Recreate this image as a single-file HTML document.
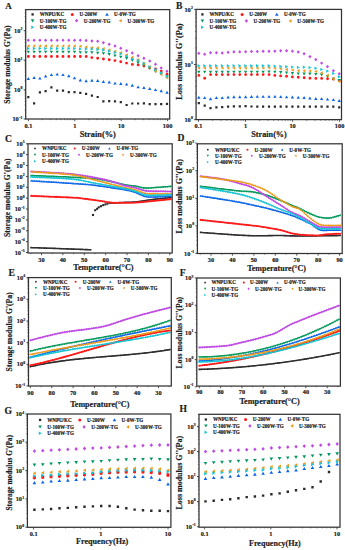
<!DOCTYPE html>
<html><head><meta charset="utf-8"><style>
html,body{margin:0;padding:0;background:#fff;}
svg{display:block;} text{stroke:#1a1a1a;stroke-width:0.18px;}
</style></head><body>
<svg width="345" height="550" viewBox="0 0 345 550" font-family="Liberation Serif" font-weight="bold" fill="#1a1a1a">
<rect width="345" height="550" fill="#fff"/>
<text x="5.30" y="9.30" font-size="9.0" text-anchor="start" >A</text><line x1="23.70" y1="30.70" x2="25.70" y2="30.70" stroke="#303030" stroke-width="0.9"/><text x="20.30" y="32.80" font-size="6.3" text-anchor="end">10</text><text x="22.40" y="30.30" font-size="3.8" text-anchor="end">2</text><line x1="23.70" y1="60.20" x2="25.70" y2="60.20" stroke="#303030" stroke-width="0.9"/><text x="20.30" y="62.30" font-size="6.3" text-anchor="end">10</text><text x="22.40" y="59.80" font-size="3.8" text-anchor="end">1</text><line x1="23.70" y1="89.80" x2="25.70" y2="89.80" stroke="#303030" stroke-width="0.9"/><text x="20.30" y="91.90" font-size="6.3" text-anchor="end">10</text><text x="22.40" y="89.40" font-size="3.8" text-anchor="end">0</text><line x1="23.70" y1="119.00" x2="25.70" y2="119.00" stroke="#303030" stroke-width="0.9"/><text x="18.70" y="121.10" font-size="6.3" text-anchor="end">10</text><text x="22.40" y="118.60" font-size="3.8" text-anchor="end">-1</text><line x1="24.60" y1="21.82" x2="25.70" y2="21.82" stroke="#303030" stroke-width="0.6"/><line x1="24.60" y1="16.62" x2="25.70" y2="16.62" stroke="#303030" stroke-width="0.6"/><line x1="24.60" y1="12.94" x2="25.70" y2="12.94" stroke="#303030" stroke-width="0.6"/><line x1="24.60" y1="10.08" x2="25.70" y2="10.08" stroke="#303030" stroke-width="0.6"/><line x1="24.60" y1="51.32" x2="25.70" y2="51.32" stroke="#303030" stroke-width="0.6"/><line x1="24.60" y1="46.12" x2="25.70" y2="46.12" stroke="#303030" stroke-width="0.6"/><line x1="24.60" y1="42.44" x2="25.70" y2="42.44" stroke="#303030" stroke-width="0.6"/><line x1="24.60" y1="39.58" x2="25.70" y2="39.58" stroke="#303030" stroke-width="0.6"/><line x1="24.60" y1="37.24" x2="25.70" y2="37.24" stroke="#303030" stroke-width="0.6"/><line x1="24.60" y1="35.27" x2="25.70" y2="35.27" stroke="#303030" stroke-width="0.6"/><line x1="24.60" y1="33.56" x2="25.70" y2="33.56" stroke="#303030" stroke-width="0.6"/><line x1="24.60" y1="32.05" x2="25.70" y2="32.05" stroke="#303030" stroke-width="0.6"/><line x1="24.60" y1="80.92" x2="25.70" y2="80.92" stroke="#303030" stroke-width="0.6"/><line x1="24.60" y1="75.72" x2="25.70" y2="75.72" stroke="#303030" stroke-width="0.6"/><line x1="24.60" y1="72.04" x2="25.70" y2="72.04" stroke="#303030" stroke-width="0.6"/><line x1="24.60" y1="69.18" x2="25.70" y2="69.18" stroke="#303030" stroke-width="0.6"/><line x1="24.60" y1="66.84" x2="25.70" y2="66.84" stroke="#303030" stroke-width="0.6"/><line x1="24.60" y1="64.87" x2="25.70" y2="64.87" stroke="#303030" stroke-width="0.6"/><line x1="24.60" y1="63.16" x2="25.70" y2="63.16" stroke="#303030" stroke-width="0.6"/><line x1="24.60" y1="61.65" x2="25.70" y2="61.65" stroke="#303030" stroke-width="0.6"/><line x1="24.60" y1="110.12" x2="25.70" y2="110.12" stroke="#303030" stroke-width="0.6"/><line x1="24.60" y1="104.92" x2="25.70" y2="104.92" stroke="#303030" stroke-width="0.6"/><line x1="24.60" y1="101.24" x2="25.70" y2="101.24" stroke="#303030" stroke-width="0.6"/><line x1="24.60" y1="98.38" x2="25.70" y2="98.38" stroke="#303030" stroke-width="0.6"/><line x1="24.60" y1="96.04" x2="25.70" y2="96.04" stroke="#303030" stroke-width="0.6"/><line x1="24.60" y1="94.07" x2="25.70" y2="94.07" stroke="#303030" stroke-width="0.6"/><line x1="24.60" y1="92.36" x2="25.70" y2="92.36" stroke="#303030" stroke-width="0.6"/><line x1="24.60" y1="90.85" x2="25.70" y2="90.85" stroke="#303030" stroke-width="0.6"/><line x1="28.40" y1="119.00" x2="28.40" y2="121.20" stroke="#303030" stroke-width="0.8"/><text x="28.40" y="127.80" font-size="6.3" text-anchor="middle" >0.1</text><line x1="74.80" y1="119.00" x2="74.80" y2="121.20" stroke="#303030" stroke-width="0.8"/><text x="74.80" y="127.80" font-size="6.3" text-anchor="middle" >1</text><line x1="121.20" y1="119.00" x2="121.20" y2="121.20" stroke="#303030" stroke-width="0.8"/><text x="121.20" y="127.80" font-size="6.3" text-anchor="middle" >10</text><line x1="167.60" y1="119.00" x2="167.60" y2="121.20" stroke="#303030" stroke-width="0.8"/><text x="167.60" y="127.80" font-size="6.3" text-anchor="middle" >100</text><line x1="42.37" y1="119.00" x2="42.37" y2="120.20" stroke="#303030" stroke-width="0.6"/><line x1="50.54" y1="119.00" x2="50.54" y2="120.20" stroke="#303030" stroke-width="0.6"/><line x1="56.34" y1="119.00" x2="56.34" y2="120.20" stroke="#303030" stroke-width="0.6"/><line x1="60.83" y1="119.00" x2="60.83" y2="120.20" stroke="#303030" stroke-width="0.6"/><line x1="64.51" y1="119.00" x2="64.51" y2="120.20" stroke="#303030" stroke-width="0.6"/><line x1="67.61" y1="119.00" x2="67.61" y2="120.20" stroke="#303030" stroke-width="0.6"/><line x1="70.30" y1="119.00" x2="70.30" y2="120.20" stroke="#303030" stroke-width="0.6"/><line x1="72.68" y1="119.00" x2="72.68" y2="120.20" stroke="#303030" stroke-width="0.6"/><line x1="88.77" y1="119.00" x2="88.77" y2="120.20" stroke="#303030" stroke-width="0.6"/><line x1="96.94" y1="119.00" x2="96.94" y2="120.20" stroke="#303030" stroke-width="0.6"/><line x1="102.74" y1="119.00" x2="102.74" y2="120.20" stroke="#303030" stroke-width="0.6"/><line x1="107.23" y1="119.00" x2="107.23" y2="120.20" stroke="#303030" stroke-width="0.6"/><line x1="110.91" y1="119.00" x2="110.91" y2="120.20" stroke="#303030" stroke-width="0.6"/><line x1="114.01" y1="119.00" x2="114.01" y2="120.20" stroke="#303030" stroke-width="0.6"/><line x1="116.70" y1="119.00" x2="116.70" y2="120.20" stroke="#303030" stroke-width="0.6"/><line x1="119.08" y1="119.00" x2="119.08" y2="120.20" stroke="#303030" stroke-width="0.6"/><line x1="135.17" y1="119.00" x2="135.17" y2="120.20" stroke="#303030" stroke-width="0.6"/><line x1="143.34" y1="119.00" x2="143.34" y2="120.20" stroke="#303030" stroke-width="0.6"/><line x1="149.14" y1="119.00" x2="149.14" y2="120.20" stroke="#303030" stroke-width="0.6"/><line x1="153.63" y1="119.00" x2="153.63" y2="120.20" stroke="#303030" stroke-width="0.6"/><line x1="157.31" y1="119.00" x2="157.31" y2="120.20" stroke="#303030" stroke-width="0.6"/><line x1="160.41" y1="119.00" x2="160.41" y2="120.20" stroke="#303030" stroke-width="0.6"/><line x1="163.10" y1="119.00" x2="163.10" y2="120.20" stroke="#303030" stroke-width="0.6"/><line x1="165.48" y1="119.00" x2="165.48" y2="120.20" stroke="#303030" stroke-width="0.6"/><text x="79.70" y="137.20" font-size="8.7" textLength="36.2" lengthAdjust="spacingAndGlyphs">Strain(%)</text><text x="0" y="0" font-size="8.7" textLength="78.2" lengthAdjust="spacingAndGlyphs" transform="translate(10.00,103.70) rotate(-90)">Storage modulus G'(Pa)</text><rect x="31.45" y="13.25" width="2.31" height="2.31" fill="#2a2a2a"/><text x="39.70" y="16.25" font-size="5.05" text-anchor="start" >WNPU/KC</text><circle cx="72.30" cy="14.40" r="1.52" fill="#ff1a1a"/><text x="79.40" y="16.25" font-size="5.05" text-anchor="start" >U-200W</text><polygon points="107.00,12.72 105.22,15.77 108.78,15.77" fill="#0a64e8"/><text x="114.10" y="16.25" font-size="5.05" text-anchor="start" >U-0W-TG</text><polygon points="32.60,22.38 30.82,19.34 34.38,19.34" fill="#00985a"/><text x="39.70" y="22.55" font-size="5.05" text-anchor="start" >U-100W-TG</text><polygon points="76.60,18.86 78.28,20.70 76.60,22.54 74.92,20.70" fill="#c04ae4"/><text x="83.70" y="22.55" font-size="5.05" text-anchor="start" >U-200W-TG</text><polygon points="118.72,20.70 121.77,18.91 121.77,22.48" fill="#eb9a1a"/><text x="127.50" y="22.55" font-size="5.05" text-anchor="start" >U-300W-TG</text><polygon points="34.28,27.20 31.23,25.41 31.23,28.98" fill="#14c4d4"/><text x="39.70" y="29.05" font-size="5.05" text-anchor="start" >U-400W-TG</text><path fill="#2a2a2a" d="M27.2 96.1h2.2v2.2h-2.2zM33 102.2h2.2v2.2h-2.2zM38.8 91.3h2.2v2.2h-2.2zM44.5 90h2.2v2.2h-2.2zM50.3 86.3h2.2v2.2h-2.2zM56.1 89.6h2.2v2.2h-2.2zM61.9 89.6h2.2v2.2h-2.2zM67.7 91.1h2.2v2.2h-2.2zM73.4 91.1h2.2v2.2h-2.2zM79.2 91.7h2.2v2.2h-2.2zM85 92.8h2.2v2.2h-2.2zM90.8 94.6h2.2v2.2h-2.2zM96.6 95.9h2.2v2.2h-2.2zM102.3 100.2h2.2v2.2h-2.2zM108.1 100h2.2v2.2h-2.2zM113.9 100.2h2.2v2.2h-2.2zM119.7 101.1h2.2v2.2h-2.2zM125.5 103.9h2.2v2.2h-2.2zM131.2 102.4h2.2v2.2h-2.2zM137 102.4h2.2v2.2h-2.2zM142.8 102.2h2.2v2.2h-2.2zM148.6 103h2.2v2.2h-2.2zM154.4 103h2.2v2.2h-2.2zM160.1 103h2.2v2.2h-2.2zM165.9 102.8h2.2v2.2h-2.2z"/><path fill="#ff1a1a" d="M26.9 56.5a1.4 1.4 0 1 0 2.9 0a1.4 1.4 0 1 0 -2.9 0zM32.6 56.5a1.4 1.4 0 1 0 2.9 0a1.4 1.4 0 1 0 -2.9 0zM38.4 56.5a1.4 1.4 0 1 0 2.9 0a1.4 1.4 0 1 0 -2.9 0zM44.2 56.5a1.4 1.4 0 1 0 2.9 0a1.4 1.4 0 1 0 -2.9 0zM50 56.5a1.4 1.4 0 1 0 2.9 0a1.4 1.4 0 1 0 -2.9 0zM55.8 56.5a1.4 1.4 0 1 0 2.9 0a1.4 1.4 0 1 0 -2.9 0zM61.5 56.5a1.4 1.4 0 1 0 2.9 0a1.4 1.4 0 1 0 -2.9 0zM67.3 56.5a1.4 1.4 0 1 0 2.9 0a1.4 1.4 0 1 0 -2.9 0zM73.1 56.5a1.4 1.4 0 1 0 2.9 0a1.4 1.4 0 1 0 -2.9 0zM78.9 56.5a1.4 1.4 0 1 0 2.9 0a1.4 1.4 0 1 0 -2.9 0zM84.7 56.5a1.4 1.4 0 1 0 2.9 0a1.4 1.4 0 1 0 -2.9 0zM90.4 57.6a1.4 1.4 0 1 0 2.9 0a1.4 1.4 0 1 0 -2.9 0zM96.2 58.3a1.4 1.4 0 1 0 2.9 0a1.4 1.4 0 1 0 -2.9 0zM102 59a1.4 1.4 0 1 0 2.9 0a1.4 1.4 0 1 0 -2.9 0zM107.8 59.8a1.4 1.4 0 1 0 2.9 0a1.4 1.4 0 1 0 -2.9 0zM113.5 60.6a1.4 1.4 0 1 0 2.9 0a1.4 1.4 0 1 0 -2.9 0zM119.3 61.7a1.4 1.4 0 1 0 2.9 0a1.4 1.4 0 1 0 -2.9 0zM125.1 63.1a1.4 1.4 0 1 0 2.9 0a1.4 1.4 0 1 0 -2.9 0zM130.9 64.4a1.4 1.4 0 1 0 2.9 0a1.4 1.4 0 1 0 -2.9 0zM136.7 64.9a1.4 1.4 0 1 0 2.9 0a1.4 1.4 0 1 0 -2.9 0zM142.5 66.1a1.4 1.4 0 1 0 2.9 0a1.4 1.4 0 1 0 -2.9 0zM148.2 67.8a1.4 1.4 0 1 0 2.9 0a1.4 1.4 0 1 0 -2.9 0zM154 69a1.4 1.4 0 1 0 2.9 0a1.4 1.4 0 1 0 -2.9 0zM159.8 71.1a1.4 1.4 0 1 0 2.9 0a1.4 1.4 0 1 0 -2.9 0zM165.6 74.2a1.4 1.4 0 1 0 2.9 0a1.4 1.4 0 1 0 -2.9 0z"/><path fill="#0a64e8" d="M28.3 77.1L26.6 80H30zM34.1 76L32.4 78.9H35.8zM39.9 76.7L38.2 79.6H41.6zM45.6 74.5L43.9 77.4H47.3zM51.4 73.2L49.7 76.1H53.1zM57.2 72.7L55.5 75.6H58.9zM63 73.2L61.3 76.1H64.7zM68.8 74.3L67.1 77.2H70.5zM74.5 76.4L72.8 79.3H76.2zM80.3 78.6L78.6 81.5H82zM86.1 79.3L84.4 82.2H87.8zM91.9 78.8L90.2 81.7H93.6zM97.7 79L96 81.9H99.4zM103.4 80.1L101.7 83H105.1zM109.2 80.6L107.5 83.5H110.9zM115 81.7L113.3 84.6H116.7zM120.8 82.1L119.1 85H122.5zM126.6 82.7L124.9 85.6H128.3zM132.3 83.8L130.6 86.7H134zM138.1 85.4L136.4 88.3H139.8zM143.9 86L142.2 88.9H145.6zM149.7 87.1L148 90H151.4zM155.5 88.2L153.8 91.1H157.2zM161.2 89.3L159.5 92.2H162.9zM167 90.8L165.3 93.7H168.7z"/><path fill="#00985a" d="M28.3 53.6L26.6 50.7H30zM34.1 53.6L32.4 50.7H35.8zM39.9 53.6L38.2 50.7H41.6zM45.6 53.6L43.9 50.7H47.3zM51.4 53.6L49.7 50.7H53.1zM57.2 53.6L55.5 50.7H58.9zM63 53.6L61.3 50.7H64.7zM68.8 53.6L67.1 50.7H70.5zM74.5 53.6L72.8 50.7H76.2zM80.3 54.1L78.6 51.2H82zM86.1 54.1L84.4 51.2H87.8zM91.9 54.1L90.2 51.2H93.6zM97.7 54.6L96 51.7H99.4zM103.4 55.1L101.7 52.2H105.1zM109.2 55.9L107.5 53H110.9zM115 57.3L113.3 54.4H116.7zM120.8 58.6L119.1 55.7H122.5zM126.6 59.9L124.9 57H128.3zM132.3 62L130.6 59.1H134zM138.1 64.2L136.4 61.3H139.8zM143.9 67.1L142.2 64.2H145.6zM149.7 70L148 67.1H151.4zM155.5 72.9L153.8 70H157.2zM161.2 75.5L159.5 72.6H162.9zM167 78.5L165.3 75.6H168.7z"/><path fill="#c04ae4" d="M28.3 38.5L29.9 40.2L28.3 42L26.7 40.2zM34.1 38.5L35.7 40.2L34.1 42L32.5 40.2zM39.9 38.5L41.5 40.2L39.9 42L38.3 40.2zM45.6 38.5L47.2 40.2L45.6 42L44 40.2zM51.4 38.5L53 40.2L51.4 42L49.8 40.2zM57.2 38.5L58.8 40.2L57.2 42L55.6 40.2zM63 38.5L64.6 40.2L63 42L61.4 40.2zM68.8 38.5L70.4 40.2L68.8 42L67.2 40.2zM74.5 38.5L76.1 40.2L74.5 42L72.9 40.2zM80.3 38.5L81.9 40.2L80.3 42L78.7 40.2zM86.1 38.8L87.7 40.5L86.1 42.2L84.5 40.5zM91.9 39.2L93.5 41L91.9 42.8L90.3 41zM97.7 39.5L99.3 41.3L97.7 43L96.1 41.3zM103.4 40.9L105 42.6L103.4 44.4L101.8 42.6zM109.2 42.5L110.8 44.3L109.2 46L107.6 44.3zM115 44.2L116.6 46L115 47.8L113.4 46zM120.8 46.5L122.4 48.3L120.8 50L119.2 48.3zM126.6 49L128.2 50.7L126.6 52.5L125 50.7zM132.3 51.2L133.9 53L132.3 54.8L130.7 53zM138.1 54L139.7 55.7L138.1 57.5L136.5 55.7zM143.9 56.5L145.5 58.3L143.9 60L142.3 58.3zM149.7 59.2L151.3 61L149.7 62.8L148.1 61zM155.5 62.5L157.1 64.2L155.5 66L153.9 64.2zM161.2 66.2L162.8 68L161.2 69.8L159.6 68zM167 69.5L168.6 71.3L167 73L165.4 71.3z"/><path fill="#eb9a1a" d="M26.7 46L29.6 44.3V47.7zM32.5 46L35.4 44.3V47.7zM38.3 46L41.2 44.3V47.7zM44 46L46.9 44.3V47.7zM49.8 46L52.7 44.3V47.7zM55.6 46L58.5 44.3V47.7zM61.4 46L64.3 44.3V47.7zM67.2 46L70.1 44.3V47.7zM72.9 46L75.8 44.3V47.7zM78.7 46.3L81.6 44.6V48zM84.5 47L87.4 45.3V48.7zM90.3 47.7L93.2 46V49.4zM96.1 48L99 46.3V49.7zM101.8 48.7L104.7 47V50.4zM107.6 50L110.5 48.3V51.7zM113.4 51.3L116.3 49.6V53zM119.2 52.6L122.1 50.9V54.3zM125 55L127.9 53.3V56.7zM130.7 57.2L133.6 55.5V58.9zM136.5 59.8L139.4 58.1V61.5zM142.3 63.5L145.2 61.8V65.2zM148.1 67L151 65.3V68.7zM153.9 71L156.8 69.3V72.7zM159.6 74.5L162.5 72.8V76.2zM165.4 77.7L168.3 76V79.4z"/><path fill="#14c4d4" d="M29.9 48.5L27 46.8V50.2zM35.7 48.5L32.8 46.8V50.2zM41.5 48.5L38.6 46.8V50.2zM47.2 48.5L44.3 46.8V50.2zM53 48.5L50.1 46.8V50.2zM58.8 48.5L55.9 46.8V50.2zM64.6 48.5L61.7 46.8V50.2zM70.4 48.5L67.5 46.8V50.2zM76.1 48.5L73.2 46.8V50.2zM81.9 49L79 47.3V50.7zM87.7 49L84.8 47.3V50.7zM93.5 49L90.6 47.3V50.7zM99.3 49.5L96.4 47.8V51.2zM105 50L102.1 48.3V51.7zM110.8 51.3L107.9 49.6V53zM116.6 52.6L113.7 50.9V54.3zM122.4 53.9L119.5 52.2V55.6zM128.2 56.3L125.3 54.6V58zM133.9 59L131 57.3V60.7zM139.7 60.3L136.8 58.6V62zM145.5 63.2L142.6 61.5V64.9zM151.3 66.7L148.4 65V68.4zM157.1 69.6L154.2 67.9V71.3zM162.8 73L159.9 71.3V74.7zM168.6 76.2L165.7 74.5V77.9z"/><rect x="25.70" y="9.60" width="144.00" height="109.40" fill="none" stroke="#333" stroke-width="1.25"/><text x="176.00" y="9.20" font-size="9.6" text-anchor="start" >B</text><line x1="194.10" y1="9.40" x2="196.10" y2="9.40" stroke="#303030" stroke-width="0.9"/><text x="190.70" y="11.50" font-size="6.3" text-anchor="end">10</text><text x="192.80" y="9.00" font-size="3.8" text-anchor="end">2</text><line x1="194.10" y1="64.50" x2="196.10" y2="64.50" stroke="#303030" stroke-width="0.9"/><text x="190.70" y="66.60" font-size="6.3" text-anchor="end">10</text><text x="192.80" y="64.10" font-size="3.8" text-anchor="end">1</text><line x1="194.10" y1="119.60" x2="196.10" y2="119.60" stroke="#303030" stroke-width="0.9"/><text x="190.70" y="121.70" font-size="6.3" text-anchor="end">10</text><text x="192.80" y="119.20" font-size="3.8" text-anchor="end">0</text><line x1="195.00" y1="47.91" x2="196.10" y2="47.91" stroke="#303030" stroke-width="0.6"/><line x1="195.00" y1="38.21" x2="196.10" y2="38.21" stroke="#303030" stroke-width="0.6"/><line x1="195.00" y1="31.33" x2="196.10" y2="31.33" stroke="#303030" stroke-width="0.6"/><line x1="195.00" y1="25.99" x2="196.10" y2="25.99" stroke="#303030" stroke-width="0.6"/><line x1="195.00" y1="21.62" x2="196.10" y2="21.62" stroke="#303030" stroke-width="0.6"/><line x1="195.00" y1="17.94" x2="196.10" y2="17.94" stroke="#303030" stroke-width="0.6"/><line x1="195.00" y1="14.74" x2="196.10" y2="14.74" stroke="#303030" stroke-width="0.6"/><line x1="195.00" y1="11.92" x2="196.10" y2="11.92" stroke="#303030" stroke-width="0.6"/><line x1="195.00" y1="103.01" x2="196.10" y2="103.01" stroke="#303030" stroke-width="0.6"/><line x1="195.00" y1="93.31" x2="196.10" y2="93.31" stroke="#303030" stroke-width="0.6"/><line x1="195.00" y1="86.43" x2="196.10" y2="86.43" stroke="#303030" stroke-width="0.6"/><line x1="195.00" y1="81.09" x2="196.10" y2="81.09" stroke="#303030" stroke-width="0.6"/><line x1="195.00" y1="76.72" x2="196.10" y2="76.72" stroke="#303030" stroke-width="0.6"/><line x1="195.00" y1="73.04" x2="196.10" y2="73.04" stroke="#303030" stroke-width="0.6"/><line x1="195.00" y1="69.84" x2="196.10" y2="69.84" stroke="#303030" stroke-width="0.6"/><line x1="195.00" y1="67.02" x2="196.10" y2="67.02" stroke="#303030" stroke-width="0.6"/><line x1="198.50" y1="119.60" x2="198.50" y2="121.80" stroke="#303030" stroke-width="0.8"/><text x="198.50" y="128.20" font-size="6.3" text-anchor="middle" >0.1</text><line x1="245.50" y1="119.60" x2="245.50" y2="121.80" stroke="#303030" stroke-width="0.8"/><text x="245.50" y="128.20" font-size="6.3" text-anchor="middle" >1</text><line x1="292.60" y1="119.60" x2="292.60" y2="121.80" stroke="#303030" stroke-width="0.8"/><text x="292.60" y="128.20" font-size="6.3" text-anchor="middle" >10</text><line x1="339.60" y1="119.60" x2="339.60" y2="121.80" stroke="#303030" stroke-width="0.8"/><text x="339.60" y="128.20" font-size="6.3" text-anchor="middle" >100</text><line x1="212.66" y1="119.60" x2="212.66" y2="120.80" stroke="#303030" stroke-width="0.6"/><line x1="220.94" y1="119.60" x2="220.94" y2="120.80" stroke="#303030" stroke-width="0.6"/><line x1="226.81" y1="119.60" x2="226.81" y2="120.80" stroke="#303030" stroke-width="0.6"/><line x1="231.37" y1="119.60" x2="231.37" y2="120.80" stroke="#303030" stroke-width="0.6"/><line x1="235.10" y1="119.60" x2="235.10" y2="120.80" stroke="#303030" stroke-width="0.6"/><line x1="238.24" y1="119.60" x2="238.24" y2="120.80" stroke="#303030" stroke-width="0.6"/><line x1="240.97" y1="119.60" x2="240.97" y2="120.80" stroke="#303030" stroke-width="0.6"/><line x1="243.38" y1="119.60" x2="243.38" y2="120.80" stroke="#303030" stroke-width="0.6"/><line x1="259.69" y1="119.60" x2="259.69" y2="120.80" stroke="#303030" stroke-width="0.6"/><line x1="267.97" y1="119.60" x2="267.97" y2="120.80" stroke="#303030" stroke-width="0.6"/><line x1="273.84" y1="119.60" x2="273.84" y2="120.80" stroke="#303030" stroke-width="0.6"/><line x1="278.40" y1="119.60" x2="278.40" y2="120.80" stroke="#303030" stroke-width="0.6"/><line x1="282.13" y1="119.60" x2="282.13" y2="120.80" stroke="#303030" stroke-width="0.6"/><line x1="285.27" y1="119.60" x2="285.27" y2="120.80" stroke="#303030" stroke-width="0.6"/><line x1="288.00" y1="119.60" x2="288.00" y2="120.80" stroke="#303030" stroke-width="0.6"/><line x1="290.41" y1="119.60" x2="290.41" y2="120.80" stroke="#303030" stroke-width="0.6"/><line x1="306.72" y1="119.60" x2="306.72" y2="120.80" stroke="#303030" stroke-width="0.6"/><line x1="315.00" y1="119.60" x2="315.00" y2="120.80" stroke="#303030" stroke-width="0.6"/><line x1="320.87" y1="119.60" x2="320.87" y2="120.80" stroke="#303030" stroke-width="0.6"/><line x1="325.43" y1="119.60" x2="325.43" y2="120.80" stroke="#303030" stroke-width="0.6"/><line x1="329.16" y1="119.60" x2="329.16" y2="120.80" stroke="#303030" stroke-width="0.6"/><line x1="332.30" y1="119.60" x2="332.30" y2="120.80" stroke="#303030" stroke-width="0.6"/><line x1="335.03" y1="119.60" x2="335.03" y2="120.80" stroke="#303030" stroke-width="0.6"/><line x1="337.44" y1="119.60" x2="337.44" y2="120.80" stroke="#303030" stroke-width="0.6"/><text x="251.30" y="137.30" font-size="8.7" textLength="35.5" lengthAdjust="spacingAndGlyphs">Strain(%)</text><text x="0" y="0" font-size="8.7" textLength="76.4" lengthAdjust="spacingAndGlyphs" transform="translate(182.10,99.80) rotate(-90)">Loss modulus G&#39;&#39;(Pa)</text><rect x="201.25" y="13.25" width="2.31" height="2.31" fill="#2a2a2a"/><text x="209.50" y="16.25" font-size="5.05" text-anchor="start" >WNPU/KC</text><circle cx="242.10" cy="14.40" r="1.52" fill="#ff1a1a"/><text x="249.20" y="16.25" font-size="5.05" text-anchor="start" >U-200W</text><polygon points="276.80,12.72 275.01,15.77 278.59,15.77" fill="#0a64e8"/><text x="283.90" y="16.25" font-size="5.05" text-anchor="start" >U-0W-TG</text><polygon points="202.40,22.58 200.62,19.53 204.19,19.53" fill="#00985a"/><text x="209.50" y="22.75" font-size="5.05" text-anchor="start" >U-100W-TG</text><polygon points="246.40,19.06 248.08,20.90 246.40,22.74 244.72,20.90" fill="#c04ae4"/><text x="253.50" y="22.75" font-size="5.05" text-anchor="start" >U-200W-TG</text><polygon points="288.52,20.90 291.56,19.11 291.56,22.68" fill="#eb9a1a"/><text x="297.30" y="22.75" font-size="5.05" text-anchor="start" >U-300W-TG</text><polygon points="204.08,27.20 201.03,25.41 201.03,28.98" fill="#14c4d4"/><text x="209.50" y="29.05" font-size="5.05" text-anchor="start" >U-400W-TG</text><path fill="#2a2a2a" d="M197.7 102.1h2.2v2.2h-2.2zM203.6 104.5h2.2v2.2h-2.2zM209.4 107.1h2.2v2.2h-2.2zM215.3 106.3h2.2v2.2h-2.2zM221.1 106h2.2v2.2h-2.2zM227 105.6h2.2v2.2h-2.2zM232.8 105.2h2.2v2.2h-2.2zM238.7 105.2h2.2v2.2h-2.2zM244.5 105h2.2v2.2h-2.2zM250.4 105.4h2.2v2.2h-2.2zM256.2 105.5h2.2v2.2h-2.2zM262 105.5h2.2v2.2h-2.2zM267.9 105.5h2.2v2.2h-2.2zM273.8 105.5h2.2v2.2h-2.2zM279.6 105.5h2.2v2.2h-2.2zM285.4 105.5h2.2v2.2h-2.2zM291.3 105.5h2.2v2.2h-2.2zM297.1 105.5h2.2v2.2h-2.2zM303 105.5h2.2v2.2h-2.2zM308.8 105.5h2.2v2.2h-2.2zM314.7 105.5h2.2v2.2h-2.2zM320.5 105.5h2.2v2.2h-2.2zM326.4 105.5h2.2v2.2h-2.2zM332.2 105.5h2.2v2.2h-2.2zM338.1 106.3h2.2v2.2h-2.2z"/><path fill="#ff1a1a" d="M197.4 75.4a1.4 1.4 0 1 0 2.9 0a1.4 1.4 0 1 0 -2.9 0zM203.2 78.3a1.4 1.4 0 1 0 2.9 0a1.4 1.4 0 1 0 -2.9 0zM209.1 74.6a1.4 1.4 0 1 0 2.9 0a1.4 1.4 0 1 0 -2.9 0zM214.9 74.6a1.4 1.4 0 1 0 2.9 0a1.4 1.4 0 1 0 -2.9 0zM220.8 74.6a1.4 1.4 0 1 0 2.9 0a1.4 1.4 0 1 0 -2.9 0zM226.6 74.6a1.4 1.4 0 1 0 2.9 0a1.4 1.4 0 1 0 -2.9 0zM232.5 74.6a1.4 1.4 0 1 0 2.9 0a1.4 1.4 0 1 0 -2.9 0zM238.3 74.6a1.4 1.4 0 1 0 2.9 0a1.4 1.4 0 1 0 -2.9 0zM244.2 74.6a1.4 1.4 0 1 0 2.9 0a1.4 1.4 0 1 0 -2.9 0zM250 74.6a1.4 1.4 0 1 0 2.9 0a1.4 1.4 0 1 0 -2.9 0zM255.9 74.6a1.4 1.4 0 1 0 2.9 0a1.4 1.4 0 1 0 -2.9 0zM261.7 74.6a1.4 1.4 0 1 0 2.9 0a1.4 1.4 0 1 0 -2.9 0zM267.6 74.6a1.4 1.4 0 1 0 2.9 0a1.4 1.4 0 1 0 -2.9 0zM273.4 75.4a1.4 1.4 0 1 0 2.9 0a1.4 1.4 0 1 0 -2.9 0zM279.2 75.9a1.4 1.4 0 1 0 2.9 0a1.4 1.4 0 1 0 -2.9 0zM285.1 76.3a1.4 1.4 0 1 0 2.9 0a1.4 1.4 0 1 0 -2.9 0zM290.9 76.9a1.4 1.4 0 1 0 2.9 0a1.4 1.4 0 1 0 -2.9 0zM296.8 77.3a1.4 1.4 0 1 0 2.9 0a1.4 1.4 0 1 0 -2.9 0zM302.7 77.8a1.4 1.4 0 1 0 2.9 0a1.4 1.4 0 1 0 -2.9 0zM308.5 78.2a1.4 1.4 0 1 0 2.9 0a1.4 1.4 0 1 0 -2.9 0zM314.4 78.4a1.4 1.4 0 1 0 2.9 0a1.4 1.4 0 1 0 -2.9 0zM320.2 78.4a1.4 1.4 0 1 0 2.9 0a1.4 1.4 0 1 0 -2.9 0zM326.1 78.8a1.4 1.4 0 1 0 2.9 0a1.4 1.4 0 1 0 -2.9 0zM331.9 79a1.4 1.4 0 1 0 2.9 0a1.4 1.4 0 1 0 -2.9 0zM337.8 80.8a1.4 1.4 0 1 0 2.9 0a1.4 1.4 0 1 0 -2.9 0z"/><path fill="#0a64e8" d="M198.8 95.8L197.1 98.7H200.5zM204.7 96.2L203 99.1H206.3zM210.5 97.3L208.8 100.2H212.2zM216.4 96.2L214.7 99.1H218.1zM222.2 96.2L220.5 99.1H223.9zM228.1 95.5L226.4 98.4H229.8zM233.9 95.3L232.2 98.2H235.6zM239.8 95.3L238.1 98.2H241.4zM245.6 95.3L243.9 98.2H247.3zM251.5 95.1L249.8 98H253.2zM257.3 94.9L255.6 97.8H259zM263.1 94.9L261.4 97.8H264.8zM269 94.9L267.3 97.8H270.7zM274.9 94.9L273.2 97.8H276.6zM280.7 95.2L279 98.1H282.4zM286.6 95.4L284.9 98.3H288.2zM292.4 95.6L290.7 98.5H294.1zM298.2 95.8L296.6 98.7H299.9zM304.1 96.1L302.4 99H305.8zM309.9 96.6L308.2 99.5H311.6zM315.8 97L314.1 99.9H317.5zM321.6 97.2L319.9 100.1H323.3zM327.5 97.7L325.8 100.6H329.2zM333.4 98.2L331.7 101.1H335.1zM339.2 99.1L337.5 102H340.9z"/><path fill="#00985a" d="M198.8 73.6L197.1 70.7H200.5zM204.7 73.6L203 70.7H206.3zM210.5 73.6L208.8 70.7H212.2zM216.4 73.6L214.7 70.7H218.1zM222.2 73.6L220.5 70.7H223.9zM228.1 73.6L226.4 70.7H229.8zM233.9 73.6L232.2 70.7H235.6zM239.8 73.6L238.1 70.7H241.4zM245.6 73.6L243.9 70.7H247.3zM251.5 73.6L249.8 70.7H253.2zM257.3 73.6L255.6 70.7H259zM263.1 73.6L261.4 70.7H264.8zM269 73.3L267.3 70.4H270.7zM274.9 73.6L273.2 70.7H276.6zM280.7 74L279 71.1H282.4zM286.6 74.3L284.9 71.4H288.2zM292.4 74.9L290.7 72H294.1zM298.2 75.3L296.6 72.4H299.9zM304.1 75.5L302.4 72.6H305.8zM309.9 75.5L308.2 72.6H311.6zM315.8 75.8L314.1 72.9H317.5zM321.6 76.5L319.9 73.6H323.3zM327.5 78.1L325.8 75.2H329.2zM333.4 80.6L331.7 77.7H335.1zM339.2 81.8L337.5 78.9H340.9z"/><path fill="#c04ae4" d="M198.8 51.6L200.4 53.4L198.8 55.1L197.2 53.4zM204.7 52.5L206.2 54.3L204.7 56L203.1 54.3zM210.5 51L212.1 52.8L210.5 54.5L208.9 52.8zM216.4 51L218 52.8L216.4 54.5L214.8 52.8zM222.2 51.2L223.8 53L222.2 54.8L220.6 53zM228.1 50.6L229.7 52.4L228.1 54.1L226.5 52.4zM233.9 50.1L235.5 51.9L233.9 53.6L232.3 51.9zM239.8 50.1L241.3 51.9L239.8 53.6L238.2 51.9zM245.6 49.9L247.2 51.7L245.6 53.4L244 51.7zM251.5 49.8L253.1 51.5L251.5 53.2L249.9 51.5zM257.3 49.8L258.9 51.5L257.3 53.2L255.7 51.5zM263.1 49.5L264.8 51.3L263.1 53L261.5 51.3zM269 49.5L270.6 51.3L269 53L267.4 51.3zM274.9 49.4L276.5 51.1L274.9 52.9L273.2 51.1zM280.7 49L282.3 50.8L280.7 52.5L279.1 50.8zM286.6 49L288.2 50.8L286.6 52.5L284.9 50.8zM292.4 49.4L294 51.1L292.4 52.9L290.8 51.1zM298.2 50.2L299.9 52L298.2 53.8L296.6 52zM304.1 52L305.7 53.8L304.1 55.5L302.5 53.8zM309.9 54.9L311.6 56.6L309.9 58.4L308.3 56.6zM315.8 57.8L317.4 59.5L315.8 61.2L314.2 59.5zM321.6 61.4L323.2 63.1L321.6 64.8L320 63.1zM327.5 64.9L329.1 66.6L327.5 68.4L325.9 66.6zM333.4 69L335 70.7L333.4 72.5L331.8 70.7zM339.2 72.1L340.8 73.8L339.2 75.6L337.6 73.8z"/><path fill="#eb9a1a" d="M197.2 68L200.1 66.3V69.7zM203.1 68L206 66.3V69.7zM208.9 68L211.8 66.3V69.7zM214.8 68L217.7 66.3V69.7zM220.6 68L223.5 66.3V69.7zM226.5 68L229.4 66.3V69.7zM232.3 68L235.2 66.3V69.7zM238.2 68L241.1 66.3V69.7zM244 68L246.9 66.3V69.7zM249.9 68L252.8 66.3V69.7zM255.7 68L258.6 66.3V69.7zM261.5 68L264.4 66.3V69.7zM267.4 67.8L270.3 66.1V69.5zM273.2 68.2L276.2 66.5V69.9zM279.1 68.8L282 67.1V70.5zM284.9 69.5L287.9 67.8V71.2zM290.8 70.1L293.7 68.4V71.8zM296.6 70.8L299.6 69.1V72.5zM302.5 70.8L305.4 69.1V72.5zM308.3 70.9L311.2 69.2V72.6zM314.2 71.4L317.1 69.7V73.1zM320 72.9L322.9 71.2V74.6zM325.9 75.3L328.8 73.6V77zM331.8 78.8L334.7 77.1V80.5zM337.6 81.4L340.5 79.7V83.1z"/><path fill="#14c4d4" d="M200.4 65.8L197.5 64.1V67.5zM206.2 65.8L203.3 64.1V67.5zM212.1 65.8L209.2 64.1V67.5zM218 65.8L215.1 64.1V67.5zM223.8 65.8L220.9 64.1V67.5zM229.7 65.8L226.8 64.1V67.5zM235.5 65.8L232.6 64.1V67.5zM241.3 65.8L238.4 64.1V67.5zM247.2 65.8L244.3 64.1V67.5zM253.1 65.8L250.2 64.1V67.5zM258.9 65.8L256 64.1V67.5zM264.8 65.8L261.8 64.1V67.5zM270.6 65.8L267.7 64.1V67.5zM276.5 66.1L273.6 64.4V67.8zM282.3 66.5L279.4 64.8V68.2zM288.2 66.7L285.2 65V68.4zM294 67.1L291.1 65.4V68.8zM299.9 67.4L296.9 65.7V69.1zM305.7 67.2L302.8 65.5V68.9zM311.6 67.6L308.6 65.9V69.3zM317.4 68.2L314.5 66.5V69.9zM323.2 69.4L320.3 67.7V71.1zM329.1 71.1L326.2 69.4V72.8zM335 73.4L332.1 71.7V75.1zM340.8 76.7L337.9 75V78.4z"/><rect x="196.10" y="9.40" width="145.40" height="110.20" fill="none" stroke="#333" stroke-width="1.25"/><text x="4.90" y="141.90" font-size="9.6" text-anchor="start" >C</text><line x1="26.00" y1="143.80" x2="28.00" y2="143.80" stroke="#303030" stroke-width="0.9"/><text x="22.60" y="145.90" font-size="6.3" text-anchor="end">10</text><text x="24.70" y="143.40" font-size="3.8" text-anchor="end">5</text><line x1="26.00" y1="154.67" x2="28.00" y2="154.67" stroke="#303030" stroke-width="0.9"/><text x="22.60" y="156.77" font-size="6.3" text-anchor="end">10</text><text x="24.70" y="154.27" font-size="3.8" text-anchor="end">4</text><line x1="26.00" y1="165.54" x2="28.00" y2="165.54" stroke="#303030" stroke-width="0.9"/><text x="22.60" y="167.64" font-size="6.3" text-anchor="end">10</text><text x="24.70" y="165.14" font-size="3.8" text-anchor="end">3</text><line x1="26.00" y1="176.41" x2="28.00" y2="176.41" stroke="#303030" stroke-width="0.9"/><text x="22.60" y="178.51" font-size="6.3" text-anchor="end">10</text><text x="24.70" y="176.01" font-size="3.8" text-anchor="end">2</text><line x1="26.00" y1="187.28" x2="28.00" y2="187.28" stroke="#303030" stroke-width="0.9"/><text x="22.60" y="189.38" font-size="6.3" text-anchor="end">10</text><text x="24.70" y="186.88" font-size="3.8" text-anchor="end">1</text><line x1="26.00" y1="198.15" x2="28.00" y2="198.15" stroke="#303030" stroke-width="0.9"/><text x="22.60" y="200.25" font-size="6.3" text-anchor="end">10</text><text x="24.70" y="197.75" font-size="3.8" text-anchor="end">0</text><line x1="26.00" y1="209.02" x2="28.00" y2="209.02" stroke="#303030" stroke-width="0.9"/><text x="21.00" y="211.12" font-size="6.3" text-anchor="end">10</text><text x="24.70" y="208.62" font-size="3.8" text-anchor="end">-1</text><line x1="26.00" y1="219.89" x2="28.00" y2="219.89" stroke="#303030" stroke-width="0.9"/><text x="21.00" y="221.99" font-size="6.3" text-anchor="end">10</text><text x="24.70" y="219.49" font-size="3.8" text-anchor="end">-2</text><line x1="26.00" y1="230.76" x2="28.00" y2="230.76" stroke="#303030" stroke-width="0.9"/><text x="21.00" y="232.86" font-size="6.3" text-anchor="end">10</text><text x="24.70" y="230.36" font-size="3.8" text-anchor="end">-3</text><line x1="26.00" y1="241.63" x2="28.00" y2="241.63" stroke="#303030" stroke-width="0.9"/><text x="21.00" y="243.73" font-size="6.3" text-anchor="end">10</text><text x="24.70" y="241.23" font-size="3.8" text-anchor="end">-4</text><line x1="26.00" y1="252.50" x2="28.00" y2="252.50" stroke="#303030" stroke-width="0.9"/><text x="21.00" y="254.60" font-size="6.3" text-anchor="end">10</text><text x="24.70" y="252.10" font-size="3.8" text-anchor="end">-5</text><line x1="41.50" y1="253.00" x2="41.50" y2="255.20" stroke="#303030" stroke-width="0.8"/><text x="41.50" y="261.50" font-size="6.3" text-anchor="middle" >30</text><line x1="62.88" y1="253.00" x2="62.88" y2="255.20" stroke="#303030" stroke-width="0.8"/><text x="62.88" y="261.50" font-size="6.3" text-anchor="middle" >40</text><line x1="84.26" y1="253.00" x2="84.26" y2="255.20" stroke="#303030" stroke-width="0.8"/><text x="84.26" y="261.50" font-size="6.3" text-anchor="middle" >50</text><line x1="105.64" y1="253.00" x2="105.64" y2="255.20" stroke="#303030" stroke-width="0.8"/><text x="105.64" y="261.50" font-size="6.3" text-anchor="middle" >60</text><line x1="127.02" y1="253.00" x2="127.02" y2="255.20" stroke="#303030" stroke-width="0.8"/><text x="127.02" y="261.50" font-size="6.3" text-anchor="middle" >70</text><line x1="148.40" y1="253.00" x2="148.40" y2="255.20" stroke="#303030" stroke-width="0.8"/><text x="148.40" y="261.50" font-size="6.3" text-anchor="middle" >80</text><line x1="169.78" y1="253.00" x2="169.78" y2="255.20" stroke="#303030" stroke-width="0.8"/><text x="169.78" y="261.50" font-size="6.3" text-anchor="middle" >90</text><line x1="30.81" y1="253.00" x2="30.81" y2="254.20" stroke="#303030" stroke-width="0.6"/><line x1="52.19" y1="253.00" x2="52.19" y2="254.20" stroke="#303030" stroke-width="0.6"/><line x1="73.57" y1="253.00" x2="73.57" y2="254.20" stroke="#303030" stroke-width="0.6"/><line x1="94.95" y1="253.00" x2="94.95" y2="254.20" stroke="#303030" stroke-width="0.6"/><line x1="116.33" y1="253.00" x2="116.33" y2="254.20" stroke="#303030" stroke-width="0.6"/><line x1="137.71" y1="253.00" x2="137.71" y2="254.20" stroke="#303030" stroke-width="0.6"/><line x1="159.09" y1="253.00" x2="159.09" y2="254.20" stroke="#303030" stroke-width="0.6"/><text x="73.20" y="270.20" font-size="8.7" textLength="60.4" lengthAdjust="spacingAndGlyphs">Temperature(&#176;C)</text><text x="0" y="0" font-size="8.7" textLength="78.5" lengthAdjust="spacingAndGlyphs" transform="translate(10.40,237.00) rotate(-90)">Storage modulus G'(Pa)</text><rect x="34.21" y="147.71" width="1.58" height="1.58" fill="#2a2a2a"/><text x="42.10" y="150.35" font-size="5.05" text-anchor="start" >WNPU/KC</text><circle cx="74.70" cy="148.50" r="1.04" fill="#ff1a1a"/><text x="81.80" y="150.35" font-size="5.05" text-anchor="start" >U-200W</text><polygon points="109.40,147.35 108.18,149.44 110.62,149.44" fill="#0a64e8"/><text x="116.50" y="150.35" font-size="5.05" text-anchor="start" >U-0W-TG</text><polygon points="35.00,155.95 33.78,153.86 36.22,153.86" fill="#00985a"/><text x="42.10" y="156.65" font-size="5.05" text-anchor="start" >U-100W-TG</text><polygon points="79.00,153.54 80.15,154.80 79.00,156.06 77.85,154.80" fill="#c04ae4"/><text x="86.10" y="156.65" font-size="5.05" text-anchor="start" >U-200W-TG</text><polygon points="121.65,154.80 123.74,153.58 123.74,156.02" fill="#eb9a1a"/><text x="129.90" y="156.65" font-size="5.05" text-anchor="start" >U-300W-TG</text><polygon points="36.15,161.20 34.06,159.98 34.06,162.42" fill="#14c4d4"/><text x="42.10" y="163.05" font-size="5.05" text-anchor="start" >U-400W-TG</text><polyline points="31.0,247.6 31.5,247.6 32.1,247.6 32.8,247.7 33.5,247.7 34.3,247.7 35.1,247.7 35.9,247.8 36.8,247.8 37.8,247.8 38.8,247.9 39.8,247.9 40.8,247.9 41.9,248.0 43.0,248.0 44.1,248.0 45.2,248.1 46.4,248.1 47.5,248.2 48.7,248.2 49.9,248.2 51.0,248.3 52.2,248.3 53.4,248.4 54.5,248.4 55.6,248.4 56.8,248.5 57.9,248.5 58.9,248.6 60.0,248.6 61.0,248.6 62.0,248.7 63.1,248.7 64.2,248.8 65.3,248.8 66.4,248.8 67.5,248.9 68.7,248.9 69.9,249.0 71.0,249.0 72.2,249.1 73.4,249.1 74.6,249.2 75.7,249.2 76.9,249.2 78.0,249.3 79.2,249.3 80.3,249.4 81.4,249.4 82.4,249.5 83.4,249.5 84.4,249.5 85.4,249.6 86.3,249.6 87.2,249.6 88.0,249.7 88.8,249.7 89.5,249.7 90.2,249.8 90.8,249.8 91.3,249.8" fill="none" stroke="#2a2a2a" stroke-width="0.9" stroke-linejoin="round" opacity="1.0"/><path fill="#2a2a2a" d="M30.2 246.8h1.6v1.6h-1.6zM31.9 246.9h1.6v1.6h-1.6zM33.6 246.9h1.6v1.6h-1.6zM35.3 247h1.6v1.6h-1.6zM37 247h1.6v1.6h-1.6zM38.7 247.1h1.6v1.6h-1.6zM40.4 247.2h1.6v1.6h-1.6zM42.1 247.2h1.6v1.6h-1.6zM43.8 247.3h1.6v1.6h-1.6zM45.5 247.3h1.6v1.6h-1.6zM47.2 247.4h1.6v1.6h-1.6zM48.9 247.4h1.6v1.6h-1.6zM50.6 247.5h1.6v1.6h-1.6zM52.3 247.6h1.6v1.6h-1.6zM54 247.6h1.6v1.6h-1.6zM55.7 247.7h1.6v1.6h-1.6zM57.4 247.7h1.6v1.6h-1.6zM59.1 247.8h1.6v1.6h-1.6zM60.8 247.9h1.6v1.6h-1.6zM62.5 247.9h1.6v1.6h-1.6zM64.2 248h1.6v1.6h-1.6zM65.9 248.1h1.6v1.6h-1.6zM67.6 248.1h1.6v1.6h-1.6zM69.3 248.2h1.6v1.6h-1.6zM71 248.3h1.6v1.6h-1.6zM72.7 248.3h1.6v1.6h-1.6zM74.4 248.4h1.6v1.6h-1.6zM76.1 248.4h1.6v1.6h-1.6zM77.8 248.5h1.6v1.6h-1.6zM79.5 248.6h1.6v1.6h-1.6zM81.2 248.6h1.6v1.6h-1.6zM82.9 248.7h1.6v1.6h-1.6zM84.6 248.8h1.6v1.6h-1.6zM86.3 248.8h1.6v1.6h-1.6zM88 248.9h1.6v1.6h-1.6zM89.7 249h1.6v1.6h-1.6z"/><rect x="91.95" y="213.96" width="2.09" height="2.09" fill="#2a2a2a"/><rect x="94.16" y="209.16" width="2.09" height="2.09" fill="#2a2a2a"/><rect x="96.05" y="207.76" width="2.09" height="2.09" fill="#2a2a2a"/><rect x="97.75" y="206.26" width="2.09" height="2.09" fill="#2a2a2a"/><rect x="99.95" y="205.16" width="2.09" height="2.09" fill="#2a2a2a"/><rect x="102.16" y="204.06" width="2.09" height="2.09" fill="#2a2a2a"/><rect x="104.36" y="203.36" width="2.09" height="2.09" fill="#2a2a2a"/><rect x="106.45" y="202.66" width="2.09" height="2.09" fill="#2a2a2a"/><polyline points="109.7,203.1 110.3,203.1 111.0,203.0 111.9,203.0 112.9,202.9 113.9,202.9 115.0,202.8 116.2,202.8 117.5,202.7 118.7,202.7 120.0,202.6 120.9,202.6 121.8,202.5 122.8,202.5 123.8,202.5 124.8,202.4 125.9,202.4 127.0,202.4 128.1,202.3 129.1,202.3 130.2,202.3 131.2,202.2 132.2,202.2 133.2,202.1 134.1,202.1 135.0,202.0 136.2,201.9 137.3,201.8 138.4,201.6 139.4,201.5 140.3,201.4 141.2,201.2 142.2,201.0 143.1,200.9 144.0,200.7 145.0,200.6 146.0,200.5 146.9,200.3 147.8,200.2 148.7,200.0 149.6,199.9 150.5,199.8 151.5,199.6 152.6,199.5 153.7,199.3 155.0,199.2 155.9,199.1 156.8,199.0 157.9,198.9 159.0,198.8 160.2,198.7 161.4,198.5 162.6,198.4 163.8,198.3 165.0,198.2 166.1,198.1 167.2,198.0 168.2,197.9 169.2,197.8 170.0,197.7 170.7,197.7 171.3,197.6" fill="none" stroke="#2a2a2a" stroke-width="0.9" stroke-linejoin="round" opacity="1.0"/><path fill="#2a2a2a" d="M108.9 202.3h1.6v1.6h-1.6zM110.6 202.2h1.6v1.6h-1.6zM112.3 202.1h1.6v1.6h-1.6zM114 202.1h1.6v1.6h-1.6zM115.7 202h1.6v1.6h-1.6zM117.4 201.9h1.6v1.6h-1.6zM119.1 201.8h1.6v1.6h-1.6zM120.8 201.7h1.6v1.6h-1.6zM122.5 201.7h1.6v1.6h-1.6zM124.2 201.6h1.6v1.6h-1.6zM125.9 201.6h1.6v1.6h-1.6zM127.6 201.5h1.6v1.6h-1.6zM129.3 201.5h1.6v1.6h-1.6zM131 201.4h1.6v1.6h-1.6zM132.7 201.3h1.6v1.6h-1.6zM134.4 201.2h1.6v1.6h-1.6zM136.1 201h1.6v1.6h-1.6zM137.8 200.8h1.6v1.6h-1.6zM139.5 200.6h1.6v1.6h-1.6zM141.2 200.3h1.6v1.6h-1.6zM142.9 200h1.6v1.6h-1.6zM144.6 199.8h1.6v1.6h-1.6zM146.3 199.5h1.6v1.6h-1.6zM148 199.2h1.6v1.6h-1.6zM149.7 199h1.6v1.6h-1.6zM151.4 198.8h1.6v1.6h-1.6zM153.1 198.5h1.6v1.6h-1.6zM154.8 198.3h1.6v1.6h-1.6zM156.5 198.2h1.6v1.6h-1.6zM158.2 198h1.6v1.6h-1.6zM159.9 197.8h1.6v1.6h-1.6zM161.6 197.7h1.6v1.6h-1.6zM163.3 197.5h1.6v1.6h-1.6zM165 197.3h1.6v1.6h-1.6zM166.7 197.2h1.6v1.6h-1.6zM168.4 197h1.6v1.6h-1.6zM170.1 196.8h1.6v1.6h-1.6z"/><polyline points="31.2,195.9 31.7,195.9 32.4,195.9 33.0,196.0 33.8,196.0 34.6,196.0 35.4,196.1 36.3,196.1 37.3,196.1 38.3,196.2 39.3,196.2 40.4,196.3 41.5,196.3 42.6,196.4 43.8,196.4 45.0,196.5 46.2,196.5 47.4,196.6 48.6,196.6 49.9,196.7 51.1,196.7 52.4,196.8 53.6,196.8 54.8,196.9 56.1,196.9 57.3,197.0 58.5,197.0 59.7,197.1 60.9,197.1 62.0,197.2 63.2,197.2 64.2,197.3 65.3,197.3 66.3,197.3 67.3,197.4 68.2,197.4 69.1,197.5 69.9,197.5 70.7,197.5 71.4,197.6 72.0,197.6 74.5,197.7 76.0,197.8 76.9,197.8 77.3,197.8 77.6,197.9 77.9,197.9 78.6,198.0 80.0,198.2 80.7,198.3 81.6,198.4 82.4,198.5 83.4,198.6 84.4,198.8 85.4,198.9 86.5,199.0 87.6,199.2 88.7,199.3 89.9,199.5 91.0,199.6 92.1,199.8 93.3,200.0 94.4,200.1 95.4,200.3 96.4,200.4 97.4,200.5 98.4,200.7 99.2,200.8 100.0,200.9 101.4,201.1 102.6,201.3 103.6,201.5 104.5,201.7 105.3,201.9 106.1,202.0 106.9,202.2 107.8,202.3 108.8,202.4 110.0,202.5 110.9,202.6 111.8,202.6 112.8,202.7 113.8,202.7 114.8,202.7 115.9,202.7 117.0,202.8 118.0,202.8 119.1,202.8 120.2,202.8 121.2,202.8 122.2,202.8 123.2,202.8 124.1,202.8 125.0,202.8 126.2,202.8 127.3,202.8 128.4,202.8 129.4,202.8 130.3,202.8 131.2,202.7 132.2,202.7 133.1,202.7 134.0,202.6 135.0,202.6 136.0,202.5 137.0,202.5 138.0,202.4 139.0,202.3 140.0,202.2 141.0,202.2 142.0,202.1 143.0,202.0 144.0,201.9 145.0,201.8 146.0,201.7 146.9,201.6 147.8,201.5 148.7,201.4 149.6,201.4 150.5,201.3 151.5,201.2 152.6,201.0 153.7,200.9 155.0,200.8 155.9,200.7 156.8,200.6 157.9,200.5 159.0,200.4 160.2,200.3 161.4,200.1 162.6,200.0 163.8,199.9 165.0,199.8 166.1,199.6 167.2,199.5 168.2,199.4 169.2,199.3 170.0,199.2 170.7,199.2 171.3,199.1" fill="none" stroke="#ff1a1a" stroke-width="0.9" stroke-linejoin="round" opacity="1.0"/><path fill="#ff1a1a" d="M30.2 195.9a1 1 0 1 0 2.1 0a1 1 0 1 0 -2.1 0zM31.9 196a1 1 0 1 0 2.1 0a1 1 0 1 0 -2.1 0zM33.6 196a1 1 0 1 0 2.1 0a1 1 0 1 0 -2.1 0zM35.3 196.1a1 1 0 1 0 2.1 0a1 1 0 1 0 -2.1 0zM37 196.2a1 1 0 1 0 2.1 0a1 1 0 1 0 -2.1 0zM38.7 196.2a1 1 0 1 0 2.1 0a1 1 0 1 0 -2.1 0zM40.4 196.3a1 1 0 1 0 2.1 0a1 1 0 1 0 -2.1 0zM42.1 196.4a1 1 0 1 0 2.1 0a1 1 0 1 0 -2.1 0zM43.8 196.5a1 1 0 1 0 2.1 0a1 1 0 1 0 -2.1 0zM45.5 196.5a1 1 0 1 0 2.1 0a1 1 0 1 0 -2.1 0zM47.2 196.6a1 1 0 1 0 2.1 0a1 1 0 1 0 -2.1 0zM48.9 196.7a1 1 0 1 0 2.1 0a1 1 0 1 0 -2.1 0zM50.6 196.7a1 1 0 1 0 2.1 0a1 1 0 1 0 -2.1 0zM52.3 196.8a1 1 0 1 0 2.1 0a1 1 0 1 0 -2.1 0zM54 196.9a1 1 0 1 0 2.1 0a1 1 0 1 0 -2.1 0zM55.7 196.9a1 1 0 1 0 2.1 0a1 1 0 1 0 -2.1 0zM57.4 197a1 1 0 1 0 2.1 0a1 1 0 1 0 -2.1 0zM59.1 197.1a1 1 0 1 0 2.1 0a1 1 0 1 0 -2.1 0zM60.8 197.2a1 1 0 1 0 2.1 0a1 1 0 1 0 -2.1 0zM62.5 197.2a1 1 0 1 0 2.1 0a1 1 0 1 0 -2.1 0zM64.2 197.3a1 1 0 1 0 2.1 0a1 1 0 1 0 -2.1 0zM65.9 197.4a1 1 0 1 0 2.1 0a1 1 0 1 0 -2.1 0zM67.6 197.4a1 1 0 1 0 2.1 0a1 1 0 1 0 -2.1 0zM69.3 197.5a1 1 0 1 0 2.1 0a1 1 0 1 0 -2.1 0zM71 197.6a1 1 0 1 0 2.1 0a1 1 0 1 0 -2.1 0zM72.7 197.7a1 1 0 1 0 2.1 0a1 1 0 1 0 -2.1 0zM74.4 197.8a1 1 0 1 0 2.1 0a1 1 0 1 0 -2.1 0zM76.1 197.8a1 1 0 1 0 2.1 0a1 1 0 1 0 -2.1 0zM77.8 198.1a1 1 0 1 0 2.1 0a1 1 0 1 0 -2.1 0zM79.5 198.3a1 1 0 1 0 2.1 0a1 1 0 1 0 -2.1 0zM81.2 198.5a1 1 0 1 0 2.1 0a1 1 0 1 0 -2.1 0zM82.9 198.7a1 1 0 1 0 2.1 0a1 1 0 1 0 -2.1 0zM84.6 198.9a1 1 0 1 0 2.1 0a1 1 0 1 0 -2.1 0zM86.3 199.1a1 1 0 1 0 2.1 0a1 1 0 1 0 -2.1 0zM88 199.4a1 1 0 1 0 2.1 0a1 1 0 1 0 -2.1 0zM89.7 199.6a1 1 0 1 0 2.1 0a1 1 0 1 0 -2.1 0zM91.4 199.8a1 1 0 1 0 2.1 0a1 1 0 1 0 -2.1 0zM93.1 200.1a1 1 0 1 0 2.1 0a1 1 0 1 0 -2.1 0zM94.8 200.3a1 1 0 1 0 2.1 0a1 1 0 1 0 -2.1 0zM96.5 200.5a1 1 0 1 0 2.1 0a1 1 0 1 0 -2.1 0zM98.2 200.8a1 1 0 1 0 2.1 0a1 1 0 1 0 -2.1 0zM99.9 201a1 1 0 1 0 2.1 0a1 1 0 1 0 -2.1 0zM101.6 201.3a1 1 0 1 0 2.1 0a1 1 0 1 0 -2.1 0zM103.3 201.6a1 1 0 1 0 2.1 0a1 1 0 1 0 -2.1 0zM105 202a1 1 0 1 0 2.1 0a1 1 0 1 0 -2.1 0zM106.7 202.3a1 1 0 1 0 2.1 0a1 1 0 1 0 -2.1 0zM108.4 202.4a1 1 0 1 0 2.1 0a1 1 0 1 0 -2.1 0zM110.1 202.6a1 1 0 1 0 2.1 0a1 1 0 1 0 -2.1 0zM111.8 202.7a1 1 0 1 0 2.1 0a1 1 0 1 0 -2.1 0zM113.5 202.7a1 1 0 1 0 2.1 0a1 1 0 1 0 -2.1 0zM115.2 202.7a1 1 0 1 0 2.1 0a1 1 0 1 0 -2.1 0zM116.9 202.8a1 1 0 1 0 2.1 0a1 1 0 1 0 -2.1 0zM118.6 202.8a1 1 0 1 0 2.1 0a1 1 0 1 0 -2.1 0zM120.3 202.8a1 1 0 1 0 2.1 0a1 1 0 1 0 -2.1 0zM122 202.8a1 1 0 1 0 2.1 0a1 1 0 1 0 -2.1 0zM123.7 202.8a1 1 0 1 0 2.1 0a1 1 0 1 0 -2.1 0zM125.4 202.8a1 1 0 1 0 2.1 0a1 1 0 1 0 -2.1 0zM127.1 202.8a1 1 0 1 0 2.1 0a1 1 0 1 0 -2.1 0zM128.8 202.8a1 1 0 1 0 2.1 0a1 1 0 1 0 -2.1 0zM130.5 202.7a1 1 0 1 0 2.1 0a1 1 0 1 0 -2.1 0zM132.2 202.7a1 1 0 1 0 2.1 0a1 1 0 1 0 -2.1 0zM133.9 202.6a1 1 0 1 0 2.1 0a1 1 0 1 0 -2.1 0zM135.6 202.5a1 1 0 1 0 2.1 0a1 1 0 1 0 -2.1 0zM137.3 202.4a1 1 0 1 0 2.1 0a1 1 0 1 0 -2.1 0zM139 202.2a1 1 0 1 0 2.1 0a1 1 0 1 0 -2.1 0zM140.7 202.1a1 1 0 1 0 2.1 0a1 1 0 1 0 -2.1 0zM142.4 201.9a1 1 0 1 0 2.1 0a1 1 0 1 0 -2.1 0zM144.1 201.8a1 1 0 1 0 2.1 0a1 1 0 1 0 -2.1 0zM145.8 201.6a1 1 0 1 0 2.1 0a1 1 0 1 0 -2.1 0zM147.5 201.5a1 1 0 1 0 2.1 0a1 1 0 1 0 -2.1 0zM149.2 201.3a1 1 0 1 0 2.1 0a1 1 0 1 0 -2.1 0zM150.9 201.1a1 1 0 1 0 2.1 0a1 1 0 1 0 -2.1 0zM152.6 200.9a1 1 0 1 0 2.1 0a1 1 0 1 0 -2.1 0zM154.3 200.8a1 1 0 1 0 2.1 0a1 1 0 1 0 -2.1 0zM156 200.6a1 1 0 1 0 2.1 0a1 1 0 1 0 -2.1 0zM157.7 200.4a1 1 0 1 0 2.1 0a1 1 0 1 0 -2.1 0zM159.4 200.2a1 1 0 1 0 2.1 0a1 1 0 1 0 -2.1 0zM161.1 200.1a1 1 0 1 0 2.1 0a1 1 0 1 0 -2.1 0zM162.8 199.9a1 1 0 1 0 2.1 0a1 1 0 1 0 -2.1 0zM164.5 199.7a1 1 0 1 0 2.1 0a1 1 0 1 0 -2.1 0zM166.2 199.5a1 1 0 1 0 2.1 0a1 1 0 1 0 -2.1 0zM167.9 199.4a1 1 0 1 0 2.1 0a1 1 0 1 0 -2.1 0zM169.6 199.2a1 1 0 1 0 2.1 0a1 1 0 1 0 -2.1 0z"/><polyline points="31.2,180.7 31.7,180.7 32.3,180.8 33.0,180.8 33.7,180.9 34.5,180.9 35.3,181.0 36.1,181.0 37.0,181.1 38.0,181.1 38.9,181.2 40.0,181.2 41.0,181.3 42.1,181.4 43.2,181.4 44.3,181.5 45.4,181.6 46.6,181.7 47.8,181.7 49.0,181.8 50.2,181.9 51.4,182.0 52.6,182.0 53.8,182.1 55.0,182.2 56.2,182.3 57.4,182.3 58.6,182.4 59.8,182.5 60.9,182.6 62.1,182.6 63.2,182.7 64.3,182.8 65.4,182.9 66.5,182.9 67.5,183.0 68.5,183.1 69.4,183.1 70.3,183.2 71.2,183.2 72.0,183.3 73.3,183.4 74.6,183.5 75.8,183.6 77.0,183.6 78.1,183.7 79.1,183.8 80.1,183.8 81.0,183.9 82.0,184.0 82.9,184.0 83.7,184.1 84.6,184.2 85.5,184.2 86.3,184.3 87.2,184.4 88.1,184.5 88.9,184.5 89.9,184.6 90.8,184.7 91.8,184.8 92.8,184.9 93.9,185.1 95.0,185.2 95.9,185.3 96.8,185.4 97.8,185.6 98.8,185.7 99.8,185.8 100.9,186.0 101.9,186.1 103.0,186.3 104.1,186.4 105.2,186.6 106.3,186.7 107.5,186.9 108.6,187.1 109.7,187.2 110.8,187.4 111.9,187.6 113.0,187.8 114.1,187.9 115.2,188.1 116.2,188.3 117.2,188.4 118.3,188.6 119.2,188.7 120.2,188.9 121.1,189.0 121.9,189.2 122.8,189.3 123.6,189.5 124.3,189.6 125.0,189.7 126.8,190.0 128.3,190.3 129.5,190.5 130.4,190.8 131.2,191.0 132.0,191.2 132.6,191.4 133.3,191.6 134.1,191.9 135.0,192.2 136.0,192.6 137.0,193.0 138.0,193.4 139.0,193.9 140.0,194.4 141.0,194.8 142.0,195.3 143.0,195.7 144.0,196.0 145.0,196.3 146.0,196.5 146.9,196.7 147.8,196.8 148.7,196.8 149.6,196.9 150.5,196.9 151.5,196.9 152.6,196.8 153.7,196.8 155.0,196.8 155.9,196.8 156.8,196.8 157.9,196.7 159.0,196.7 160.2,196.6 161.4,196.6 162.6,196.5 163.8,196.4 165.0,196.4 166.1,196.3 167.2,196.2 168.2,196.2 169.2,196.1 170.0,196.1 170.7,196.0 171.3,196.0" fill="none" stroke="#0a64e8" stroke-width="0.9" stroke-linejoin="round" opacity="1.0"/><path fill="#0a64e8" d="M31.2 179.5L30 181.6H32.4zM32.9 179.7L31.7 181.7H34.1zM34.6 179.8L33.4 181.8H35.8zM36.3 179.9L35.1 182H37.5zM38 180L36.8 182.1H39.2zM39.7 180.1L38.5 182.2H40.9zM41.4 180.2L40.2 182.3H42.6zM43.1 180.3L41.9 182.4H44.3zM44.8 180.4L43.6 182.5H46zM46.5 180.5L45.3 182.6H47.7zM48.2 180.6L47 182.7H49.4zM49.9 180.7L48.7 182.8H51.1zM51.6 180.8L50.4 182.9H52.8zM53.3 180.9L52.1 183H54.5zM55 181L53.8 183.1H56.2zM56.7 181.1L55.5 183.2H57.9zM58.4 181.2L57.2 183.3H59.6zM60.1 181.4L58.9 183.4H61.3zM61.8 181.5L60.6 183.6H63zM63.5 181.6L62.3 183.7H64.7zM65.2 181.7L64 183.8H66.4zM66.9 181.8L65.7 183.9H68.1zM68.6 181.9L67.4 184H69.8zM70.3 182L69.1 184.1H71.5zM72 182.1L70.8 184.2H73.2zM73.7 182.3L72.5 184.4H74.9zM75.4 182.4L74.2 184.5H76.6zM77.1 182.5L75.9 184.6H78.3zM78.8 182.6L77.6 184.7H80zM80.5 182.7L79.3 184.8H81.7zM82.2 182.8L81 184.9H83.4zM83.9 183L82.7 185H85.1zM85.6 183.1L84.4 185.2H86.8zM87.3 183.2L86.1 185.3H88.5zM89 183.4L87.8 185.5H90.2zM90.7 183.6L89.5 185.6H91.9zM92.4 183.7L91.2 185.8H93.6zM94.1 183.9L92.9 186H95.3zM95.8 184.1L94.6 186.2H97zM97.5 184.4L96.3 186.5H98.7zM99.2 184.6L98 186.7H100.4zM100.9 184.8L99.7 186.9H102.1zM102.6 185.1L101.4 187.1H103.8zM104.3 185.3L103.1 187.4H105.5zM106 185.5L104.8 187.6H107.2zM107.7 185.8L106.5 187.9H108.9zM109.4 186L108.2 188.1H110.6zM111.1 186.3L109.9 188.4H112.3zM112.8 186.6L111.6 188.7H114zM114.5 186.8L113.3 188.9H115.7zM116.2 187.1L115 189.2H117.4zM117.9 187.4L116.7 189.5H119.1zM119.6 187.6L118.4 189.7H120.8zM121.3 187.9L120.1 190H122.5zM123 188.2L121.8 190.3H124.2zM124.7 188.5L123.5 190.6H125.9zM126.4 188.8L125.2 190.9H127.6zM128.1 189.1L126.9 191.2H129.3zM129.8 189.5L128.6 191.6H131zM131.5 189.9L130.3 192H132.7zM133.2 190.4L132 192.5H134.4zM134.9 191L133.7 193.1H136.1zM136.6 191.7L135.4 193.7H137.8zM138.3 192.4L137.1 194.5H139.5zM140 193.2L138.8 195.3H141.2zM141.7 194L140.5 196.1H142.9zM143.4 194.7L142.2 196.8H144.6zM145.1 195.2L143.9 197.3H146.3zM146.8 195.5L145.6 197.6H148zM148.5 195.7L147.3 197.7H149.7zM150.2 195.7L149 197.8H151.4zM151.9 195.7L150.7 197.8H153.1zM153.6 195.7L152.4 197.8H154.8zM155.3 195.6L154.1 197.7H156.5zM157 195.6L155.8 197.7H158.2zM158.7 195.5L157.5 197.6H159.9zM160.4 195.5L159.2 197.5H161.6zM162.1 195.4L160.9 197.5H163.3zM163.8 195.3L162.6 197.4H165zM165.5 195.2L164.3 197.3H166.7zM167.2 195.1L166 197.2H168.4zM168.9 195L167.7 197.1H170.1zM170.6 194.9L169.4 197H171.8z"/><polyline points="31.2,175.7 31.7,175.7 32.3,175.7 33.0,175.8 33.7,175.8 34.5,175.8 35.3,175.9 36.1,175.9 37.0,175.9 38.0,176.0 38.9,176.0 40.0,176.1 41.0,176.1 42.1,176.1 43.2,176.2 44.3,176.2 45.4,176.3 46.6,176.3 47.8,176.4 49.0,176.4 50.2,176.5 51.4,176.5 52.6,176.6 53.8,176.6 55.0,176.7 56.2,176.7 57.4,176.8 58.6,176.8 59.8,176.9 60.9,176.9 62.1,176.9 63.2,177.0 64.3,177.0 65.4,177.1 66.5,177.1 67.5,177.2 68.5,177.2 69.4,177.3 70.3,177.3 71.2,177.4 72.0,177.4 73.4,177.5 74.7,177.5 75.9,177.6 77.2,177.7 78.3,177.7 79.5,177.8 80.6,177.8 81.6,177.9 82.7,178.0 83.7,178.0 84.6,178.1 85.6,178.1 86.5,178.2 87.4,178.2 88.3,178.3 89.2,178.4 90.0,178.4 90.9,178.5 91.7,178.6 92.5,178.7 93.4,178.7 94.2,178.8 95.0,178.9 96.2,179.0 97.4,179.2 98.5,179.3 99.6,179.5 100.6,179.7 101.6,179.8 102.5,180.0 103.5,180.2 104.4,180.3 105.3,180.5 106.2,180.7 107.1,180.9 108.1,181.1 109.0,181.3 110.0,181.5 111.0,181.7 112.0,181.9 113.1,182.2 114.1,182.4 115.2,182.7 116.2,182.9 117.3,183.2 118.3,183.5 119.4,183.7 120.4,184.0 121.4,184.2 122.3,184.4 123.3,184.6 124.1,184.8 125.0,185.0 126.2,185.2 127.3,185.4 128.4,185.5 129.4,185.6 130.3,185.7 131.2,185.8 132.2,185.9 133.1,185.9 134.0,186.1 135.0,186.2 136.0,186.4 137.0,186.6 138.0,186.8 139.0,187.1 140.0,187.3 141.0,187.5 142.0,187.8 143.0,187.9 144.0,188.1 145.0,188.2 146.0,188.3 146.9,188.3 147.8,188.3 148.7,188.2 149.6,188.1 150.5,188.1 151.5,188.0 152.6,187.9 153.7,187.8 155.0,187.7 155.9,187.6 156.8,187.6 157.9,187.5 159.0,187.4 160.2,187.3 161.4,187.2 162.6,187.2 163.8,187.1 165.0,187.0 166.1,186.9 167.2,186.8 168.2,186.7 169.2,186.7 170.0,186.6 170.7,186.5 171.3,186.5" fill="none" stroke="#00985a" stroke-width="0.9" stroke-linejoin="round" opacity="1.0"/><path fill="#00985a" d="M31.2 176.9L30 174.8H32.4zM32.9 176.9L31.7 174.8H34.1zM34.6 177L33.4 174.9H35.8zM36.3 177.1L35.1 175H37.5zM38 177.1L36.8 175H39.2zM39.7 177.2L38.5 175.1H40.9zM41.4 177.3L40.2 175.2H42.6zM43.1 177.3L41.9 175.2H44.3zM44.8 177.4L43.6 175.3H46zM46.5 177.5L45.3 175.4H47.7zM48.2 177.5L47 175.4H49.4zM49.9 177.6L48.7 175.5H51.1zM51.6 177.7L50.4 175.6H52.8zM53.3 177.7L52.1 175.6H54.5zM55 177.8L53.8 175.7H56.2zM56.7 177.9L55.5 175.8H57.9zM58.4 177.9L57.2 175.9H59.6zM60.1 178L58.9 175.9H61.3zM61.8 178.1L60.6 176H63zM63.5 178.2L62.3 176.1H64.7zM65.2 178.2L64 176.1H66.4zM66.9 178.3L65.7 176.2H68.1zM68.6 178.4L67.4 176.3H69.8zM70.3 178.5L69.1 176.4H71.5zM72 178.6L70.8 176.5H73.2zM73.7 178.6L72.5 176.5H74.9zM75.4 178.7L74.2 176.6H76.6zM77.1 178.8L75.9 176.7H78.3zM78.8 178.9L77.6 176.8H80zM80.5 179L79.3 176.9H81.7zM82.2 179.1L81 177H83.4zM83.9 179.2L82.7 177.1H85.1zM85.6 179.3L84.4 177.2H86.8zM87.3 179.4L86.1 177.3H88.5zM89 179.5L87.8 177.4H90.2zM90.7 179.6L89.5 177.6H91.9zM92.4 179.8L91.2 177.7H93.6zM94.1 180L92.9 177.9H95.3zM95.8 180.1L94.6 178.1H97zM97.5 180.4L96.3 178.3H98.7zM99.2 180.6L98 178.5H100.4zM100.9 180.9L99.7 178.8H102.1zM102.6 181.2L101.4 179.1H103.8zM104.3 181.5L103.1 179.4H105.5zM106 181.8L104.8 179.7H107.2zM107.7 182.2L106.5 180.1H108.9zM109.4 182.5L108.2 180.4H110.6zM111.1 182.9L109.9 180.8H112.3zM112.8 183.3L111.6 181.2H114zM114.5 183.7L113.3 181.6H115.7zM116.2 184.1L115 182H117.4zM117.9 184.5L116.7 182.4H119.1zM119.6 184.9L118.4 182.8H120.8zM121.3 185.3L120.1 183.3H122.5zM123 185.7L121.8 183.6H124.2zM124.7 186.1L123.5 184H125.9zM126.4 186.4L125.2 184.3H127.6zM128.1 186.6L126.9 184.5H129.3zM129.8 186.8L128.6 184.7H131zM131.5 186.9L130.3 184.9H132.7zM133.2 187.1L132 185H134.4zM134.9 187.3L133.7 185.2H136.1zM136.6 187.7L135.4 185.6H137.8zM138.3 188L137.1 186H139.5zM140 188.5L138.8 186.4H141.2zM141.7 188.8L140.5 186.8H142.9zM143.4 189.2L142.2 187.1H144.6zM145.1 189.4L143.9 187.3H146.3zM146.8 189.4L145.6 187.3H148zM148.5 189.4L147.3 187.3H149.7zM150.2 189.3L149 187.2H151.4zM151.9 189.1L150.7 187H153.1zM153.6 189L152.4 186.9H154.8zM155.3 188.8L154.1 186.7H156.5zM157 188.7L155.8 186.6H158.2zM158.7 188.6L157.5 186.5H159.9zM160.4 188.5L159.2 186.4H161.6zM162.1 188.3L160.9 186.3H163.3zM163.8 188.2L162.6 186.1H165zM165.5 188.1L164.3 186H166.7zM167.2 188L166 185.9H168.4zM168.9 187.8L167.7 185.7H170.1zM170.6 187.7L169.4 185.6H171.8z"/><polyline points="31.2,171.5 31.7,171.5 32.3,171.6 33.0,171.6 33.7,171.6 34.4,171.7 35.2,171.7 36.1,171.8 37.0,171.8 37.9,171.9 38.8,171.9 39.8,172.0 40.8,172.0 41.9,172.1 43.0,172.1 44.1,172.2 45.2,172.3 46.3,172.3 47.5,172.4 48.7,172.5 49.9,172.5 51.0,172.6 52.2,172.7 53.4,172.7 54.6,172.8 55.8,172.9 57.0,172.9 58.2,173.0 59.4,173.1 60.6,173.2 61.7,173.3 62.9,173.3 64.0,173.4 65.1,173.5 66.2,173.6 67.2,173.7 68.3,173.8 69.2,173.8 70.2,173.9 71.1,174.0 72.0,174.1 73.2,174.2 74.4,174.4 75.6,174.5 76.8,174.6 77.9,174.8 79.1,175.0 80.2,175.1 81.3,175.3 82.4,175.4 83.5,175.6 84.5,175.8 85.6,175.9 86.6,176.1 87.6,176.3 88.6,176.4 89.6,176.6 90.5,176.8 91.5,177.0 92.4,177.1 93.3,177.3 94.2,177.5 95.1,177.6 96.0,177.8 96.8,178.0 97.6,178.1 98.4,178.3 99.2,178.4 100.0,178.6 101.4,178.9 102.7,179.1 103.9,179.4 105.1,179.7 106.1,179.9 107.2,180.2 108.2,180.4 109.1,180.7 110.0,180.9 110.9,181.2 111.7,181.4 112.5,181.7 113.4,181.9 114.2,182.2 115.0,182.4 116.2,182.8 117.3,183.1 118.4,183.5 119.4,183.8 120.3,184.2 121.2,184.5 122.2,184.8 123.1,185.1 124.0,185.4 125.0,185.7 126.0,185.9 127.0,186.2 128.0,186.4 129.0,186.5 130.0,186.7 131.0,186.9 132.0,187.1 133.0,187.3 134.0,187.5 135.0,187.7 136.0,188.0 137.0,188.3 138.0,188.6 139.0,188.9 140.0,189.3 141.0,189.6 142.0,190.0 143.0,190.2 144.0,190.5 145.0,190.7 146.0,190.9 146.9,191.0 147.8,191.0 148.7,191.1 149.6,191.1 150.5,191.1 151.5,191.1 152.6,191.2 153.7,191.2 155.0,191.2 155.9,191.2 156.8,191.2 157.9,191.3 159.0,191.3 160.2,191.3 161.4,191.3 162.6,191.4 163.8,191.4 165.0,191.4 166.1,191.4 167.2,191.4 168.2,191.5 169.2,191.5 170.0,191.5 170.7,191.5 171.3,191.5" fill="none" stroke="#c04ae4" stroke-width="0.9" stroke-linejoin="round" opacity="1.0"/><path fill="#c04ae4" d="M31.2 170.2L32.4 171.5L31.2 172.8L30 171.5zM32.9 170.3L34.1 171.6L32.9 172.9L31.7 171.6zM34.6 170.4L35.8 171.7L34.6 173L33.4 171.7zM36.3 170.5L37.5 171.8L36.3 173L35.1 171.8zM38 170.6L39.2 171.9L38 173.1L36.8 171.9zM39.7 170.7L40.9 172L39.7 173.2L38.5 172zM41.4 170.8L42.6 172.1L41.4 173.3L40.2 172.1zM43.1 170.9L44.3 172.1L43.1 173.4L41.9 172.1zM44.8 171L46 172.2L44.8 173.5L43.6 172.2zM46.5 171.1L47.7 172.3L46.5 173.6L45.3 172.3zM48.2 171.2L49.4 172.4L48.2 173.7L47 172.4zM49.9 171.3L51.1 172.5L49.9 173.8L48.7 172.5zM51.6 171.4L52.8 172.6L51.6 173.9L50.4 172.6zM53.3 171.5L54.5 172.7L53.3 174L52.1 172.7zM55 171.6L56.2 172.8L55 174.1L53.8 172.8zM56.7 171.7L57.9 172.9L56.7 174.2L55.5 172.9zM58.4 171.8L59.6 173L58.4 174.3L57.2 173zM60.1 171.9L61.3 173.1L60.1 174.4L58.9 173.1zM61.8 172L63 173.3L61.8 174.5L60.6 173.3zM63.5 172.1L64.7 173.4L63.5 174.6L62.3 173.4zM65.2 172.2L66.4 173.5L65.2 174.8L64 173.5zM66.9 172.4L68.1 173.6L66.9 174.9L65.7 173.6zM68.6 172.5L69.8 173.8L68.6 175L67.4 173.8zM70.3 172.7L71.5 173.9L70.3 175.2L69.1 173.9zM72 172.8L73.2 174.1L72 175.4L70.8 174.1zM73.7 173L74.9 174.3L73.7 175.5L72.5 174.3zM75.4 173.2L76.6 174.5L75.4 175.7L74.2 174.5zM77.1 173.4L78.3 174.7L77.1 175.9L75.9 174.7zM78.8 173.7L80 174.9L78.8 176.2L77.6 174.9zM80.5 173.9L81.7 175.2L80.5 176.4L79.3 175.2zM82.2 174.1L83.4 175.4L82.2 176.7L81 175.4zM83.9 174.4L85.1 175.7L83.9 176.9L82.7 175.7zM85.6 174.7L86.8 175.9L85.6 177.2L84.4 175.9zM87.3 175L88.5 176.2L87.3 177.5L86.1 176.2zM89 175.3L90.2 176.5L89 177.8L87.8 176.5zM90.7 175.6L91.9 176.8L90.7 178.1L89.5 176.8zM92.4 175.9L93.6 177.1L92.4 178.4L91.2 177.1zM94.1 176.2L95.3 177.5L94.1 178.7L92.9 177.5zM95.8 176.5L97 177.8L95.8 179L94.6 177.8zM97.5 176.9L98.7 178.1L97.5 179.4L96.3 178.1zM99.2 177.2L100.4 178.4L99.2 179.7L98 178.4zM100.9 177.5L102.1 178.8L100.9 180L99.7 178.8zM102.6 177.9L103.8 179.1L102.6 180.4L101.4 179.1zM104.3 178.2L105.5 179.5L104.3 180.8L103.1 179.5zM106 178.6L107.2 179.9L106 181.2L104.8 179.9zM107.7 179.1L108.9 180.3L107.7 181.6L106.5 180.3zM109.4 179.5L110.6 180.8L109.4 182L108.2 180.8zM111.1 180L112.3 181.3L111.1 182.5L109.9 181.3zM112.8 180.5L114 181.8L112.8 183L111.6 181.8zM114.5 181L115.7 182.3L114.5 183.5L113.3 182.3zM116.2 181.5L117.4 182.8L116.2 184L115 182.8zM117.9 182L119.1 183.3L117.9 184.6L116.7 183.3zM119.6 182.6L120.8 183.9L119.6 185.2L118.4 183.9zM121.3 183.3L122.5 184.5L121.3 185.8L120.1 184.5zM123 183.8L124.2 185.1L123 186.4L121.8 185.1zM124.7 184.4L125.9 185.6L124.7 186.9L123.5 185.6zM126.4 184.8L127.6 186L126.4 187.3L125.2 186zM128.1 185.1L129.3 186.4L128.1 187.6L126.9 186.4zM129.8 185.4L131 186.7L129.8 187.9L128.6 186.7zM131.5 185.7L132.7 187L131.5 188.2L130.3 187zM133.2 186L134.4 187.3L133.2 188.6L132 187.3zM134.9 186.4L136.1 187.7L134.9 188.9L133.7 187.7zM136.6 186.9L137.8 188.2L136.6 189.4L135.4 188.2zM138.3 187.4L139.5 188.7L138.3 190L137.1 188.7zM140 188L141.2 189.3L140 190.6L138.8 189.3zM141.7 188.6L142.9 189.9L141.7 191.1L140.5 189.9zM143.4 189.1L144.6 190.3L143.4 191.6L142.2 190.3zM145.1 189.5L146.3 190.7L145.1 192L143.9 190.7zM146.8 189.7L148 191L146.8 192.2L145.6 191zM148.5 189.8L149.7 191.1L148.5 192.3L147.3 191.1zM150.2 189.9L151.4 191.1L150.2 192.4L149 191.1zM151.9 189.9L153.1 191.1L151.9 192.4L150.7 191.1zM153.6 189.9L154.8 191.2L153.6 192.4L152.4 191.2zM155.3 189.9L156.5 191.2L155.3 192.5L154.1 191.2zM157 190L158.2 191.3L157 192.5L155.8 191.3zM158.7 190L159.9 191.3L158.7 192.5L157.5 191.3zM160.4 190.1L161.6 191.3L160.4 192.6L159.2 191.3zM162.1 190.1L163.3 191.4L162.1 192.6L160.9 191.4zM163.8 190.1L165 191.4L163.8 192.6L162.6 191.4zM165.5 190.1L166.7 191.4L165.5 192.7L164.3 191.4zM167.2 190.2L168.4 191.4L167.2 192.7L166 191.4zM168.9 190.2L170.1 191.5L168.9 192.7L167.7 191.5zM170.6 190.2L171.8 191.5L170.6 192.7L169.4 191.5z"/><polyline points="31.2,171.8 31.7,171.8 32.3,171.9 33.0,171.9 33.7,172.0 34.5,172.0 35.3,172.1 36.1,172.1 37.0,172.2 38.0,172.2 38.9,172.3 40.0,172.3 41.0,172.4 42.1,172.5 43.2,172.5 44.3,172.6 45.4,172.7 46.6,172.7 47.8,172.8 49.0,172.9 50.2,173.0 51.4,173.0 52.6,173.1 53.8,173.2 55.0,173.3 56.2,173.4 57.4,173.5 58.6,173.5 59.8,173.6 60.9,173.7 62.1,173.8 63.2,173.9 64.3,174.0 65.4,174.1 66.5,174.2 67.5,174.3 68.5,174.4 69.4,174.5 70.3,174.6 71.2,174.7 72.0,174.8 73.3,175.0 74.6,175.2 75.8,175.4 77.0,175.6 78.1,175.8 79.1,176.0 80.1,176.2 81.0,176.4 82.0,176.6 82.9,176.8 83.7,177.0 84.6,177.3 85.5,177.5 86.3,177.8 87.2,178.0 88.1,178.2 88.9,178.5 89.9,178.8 90.8,179.0 91.8,179.3 92.8,179.5 93.9,179.8 95.0,180.1 95.9,180.3 96.8,180.6 97.8,180.8 98.8,181.0 99.8,181.3 100.9,181.6 101.9,181.8 103.0,182.1 104.1,182.4 105.2,182.7 106.3,183.0 107.5,183.2 108.6,183.5 109.7,183.8 110.8,184.1 111.9,184.4 113.0,184.7 114.1,185.0 115.2,185.2 116.2,185.5 117.2,185.8 118.3,186.0 119.2,186.3 120.2,186.5 121.1,186.7 121.9,186.9 122.8,187.2 123.6,187.4 124.3,187.5 125.0,187.7 126.8,188.1 128.3,188.4 129.5,188.7 130.4,188.8 131.2,188.9 132.0,189.1 132.6,189.2 133.3,189.3 134.1,189.5 135.0,189.7 136.0,190.0 137.0,190.4 138.0,190.8 139.0,191.2 140.0,191.6 141.0,192.0 142.0,192.4 143.0,192.8 144.0,193.1 145.0,193.3 146.0,193.5 146.9,193.6 147.8,193.7 148.7,193.7 149.6,193.8 150.5,193.8 151.5,193.8 152.6,193.8 153.7,193.8 155.0,193.8 155.9,193.8 156.8,193.8 157.9,193.9 159.0,193.9 160.2,193.9 161.4,193.9 162.6,193.9 163.8,193.9 165.0,193.9 166.1,194.0 167.2,194.0 168.2,194.0 169.2,194.0 170.0,194.0 170.7,194.0 171.3,194.0" fill="none" stroke="#eb9a1a" stroke-width="0.9" stroke-linejoin="round" opacity="1.0"/><path fill="#eb9a1a" d="M30 171.8L32.1 170.6V173zM31.7 171.9L33.8 170.7V173.1zM33.4 172L35.5 170.8V173.2zM35.1 172.1L37.2 170.9V173.4zM36.8 172.2L38.9 171V173.5zM38.5 172.3L40.6 171.1V173.6zM40.2 172.4L42.3 171.2V173.7zM41.9 172.5L44 171.3V173.8zM43.6 172.6L45.7 171.4V173.9zM45.3 172.7L47.4 171.5V174zM47 172.8L49.1 171.6V174.1zM48.7 173L50.8 171.7V174.2zM50.4 173.1L52.5 171.8V174.3zM52.1 173.2L54.2 172V174.4zM53.8 173.3L55.9 172.1V174.5zM55.5 173.4L57.6 172.2V174.6zM57.2 173.5L59.3 172.3V174.8zM58.9 173.7L61 172.4V174.9zM60.6 173.8L62.7 172.6V175zM62.3 173.9L64.4 172.7V175.2zM64 174.1L66.1 172.9V175.3zM65.7 174.2L67.8 173V175.5zM67.4 174.4L69.5 173.2V175.6zM69.1 174.6L71.2 173.4V175.8zM70.8 174.8L72.9 173.6V176zM72.5 175L74.6 173.8V176.3zM74.2 175.3L76.3 174.1V176.5zM75.9 175.6L78 174.4V176.8zM77.6 175.9L79.7 174.7V177.1zM79.3 176.3L81.4 175V177.5zM81 176.7L83.1 175.4V177.9zM82.7 177.1L84.8 175.9V178.3zM84.4 177.6L86.5 176.3V178.8zM86.1 178L88.2 176.8V179.3zM87.8 178.5L89.9 177.3V179.7zM89.5 179L91.6 177.8V180.2zM91.2 179.4L93.3 178.2V180.7zM92.9 179.9L95 178.7V181.1zM94.6 180.3L96.7 179.1V181.5zM96.3 180.7L98.4 179.5V181.9zM98 181.1L100.1 179.9V182.4zM99.7 181.6L101.8 180.3V182.8zM101.4 182L103.5 180.8V183.2zM103.1 182.4L105.2 181.2V183.7zM104.8 182.9L106.9 181.6V184.1zM106.5 183.3L108.6 182.1V184.5zM108.2 183.7L110.3 182.5V185zM109.9 184.2L112 183V185.4zM111.6 184.6L113.7 183.4V185.8zM113.3 185.1L115.4 183.8V186.3zM115 185.5L117.1 184.3V186.7zM116.7 185.9L118.8 184.7V187.1zM118.4 186.4L120.5 185.1V187.6zM120.1 186.8L122.2 185.6V188zM121.8 187.2L123.9 186V188.4zM123.5 187.6L125.6 186.4V188.9zM125.2 188L127.3 186.8V189.2zM126.9 188.4L129 187.2V189.6zM128.6 188.7L130.7 187.5V189.9zM130.3 189L132.4 187.8V190.2zM132 189.3L134.1 188V190.5zM133.7 189.7L135.8 188.4V190.9zM135.4 190.2L137.5 189V191.4zM137.1 190.9L139.2 189.7V192.1zM138.8 191.6L140.9 190.4V192.8zM140.5 192.3L142.6 191.1V193.5zM142.2 192.9L144.3 191.7V194.1zM143.9 193.3L146 192.1V194.5zM145.6 193.6L147.7 192.4V194.8zM147.3 193.7L149.4 192.5V195zM149 193.8L151.1 192.5V195zM150.7 193.8L152.8 192.5V195zM152.4 193.8L154.5 192.6V195zM154.1 193.8L156.2 192.6V195zM155.8 193.8L157.9 192.6V195.1zM157.5 193.9L159.6 192.6V195.1zM159.2 193.9L161.3 192.7V195.1zM160.9 193.9L163 192.7V195.1zM162.6 193.9L164.7 192.7V195.2zM164.3 193.9L166.4 192.7V195.2zM166 194L168.1 192.7V195.2zM167.7 194L169.8 192.8V195.2zM169.4 194L171.5 192.8V195.2z"/><polyline points="31.2,177.0 31.7,177.0 32.3,177.1 33.0,177.1 33.7,177.1 34.5,177.1 35.3,177.2 36.1,177.2 37.0,177.3 38.0,177.3 38.9,177.3 40.0,177.4 41.0,177.4 42.1,177.5 43.2,177.5 44.3,177.5 45.4,177.6 46.6,177.6 47.8,177.7 49.0,177.7 50.2,177.8 51.4,177.8 52.6,177.9 53.8,178.0 55.0,178.0 56.2,178.1 57.4,178.1 58.6,178.2 59.8,178.3 60.9,178.3 62.1,178.4 63.2,178.5 64.3,178.5 65.4,178.6 66.5,178.7 67.5,178.7 68.5,178.8 69.4,178.9 70.3,178.9 71.2,179.0 72.0,179.1 73.3,179.2 74.6,179.4 75.8,179.5 77.0,179.7 78.1,179.8 79.1,180.0 80.1,180.2 81.0,180.3 82.0,180.5 82.9,180.7 83.7,180.8 84.6,181.0 85.5,181.2 86.3,181.4 87.2,181.6 88.1,181.8 88.9,182.0 89.9,182.2 90.8,182.4 91.8,182.6 92.8,182.8 93.9,183.0 95.0,183.2 95.9,183.4 96.8,183.5 97.8,183.7 98.8,183.9 99.8,184.1 100.9,184.3 101.9,184.4 103.0,184.6 104.1,184.8 105.2,185.0 106.3,185.2 107.5,185.4 108.6,185.6 109.7,185.8 110.8,186.0 111.9,186.3 113.0,186.5 114.1,186.6 115.2,186.8 116.2,187.0 117.2,187.2 118.3,187.4 119.2,187.6 120.2,187.8 121.1,187.9 121.9,188.1 122.8,188.3 123.6,188.4 124.3,188.6 125.0,188.7 126.8,189.1 128.3,189.4 129.5,189.6 130.4,189.9 131.2,190.1 132.0,190.3 132.6,190.5 133.3,190.7 134.1,190.9 135.0,191.2 136.0,191.5 137.0,191.9 138.0,192.3 139.0,192.7 140.0,193.1 141.0,193.5 142.0,193.9 143.0,194.3 144.0,194.6 145.0,194.8 146.0,195.0 146.9,195.1 147.8,195.2 148.7,195.3 149.6,195.3 150.5,195.3 151.5,195.3 152.6,195.3 153.7,195.3 155.0,195.3 155.9,195.3 156.8,195.3 157.9,195.3 159.0,195.2 160.2,195.2 161.4,195.2 162.6,195.1 163.8,195.1 165.0,195.0 166.1,195.0 167.2,195.0 168.2,194.9 169.2,194.9 170.0,194.8 170.7,194.8 171.3,194.8" fill="none" stroke="#14c4d4" stroke-width="0.9" stroke-linejoin="round" opacity="1.0"/><path fill="#14c4d4" d="M32.4 177L30.3 175.8V178.2zM34.1 177.1L32 175.9V178.3zM35.8 177.2L33.7 175.9V178.4zM37.5 177.2L35.4 176V178.4zM39.2 177.3L37.1 176.1V178.5zM40.9 177.4L38.8 176.1V178.6zM42.6 177.4L40.5 176.2V178.7zM44.3 177.5L42.2 176.3V178.7zM46 177.6L43.9 176.3V178.8zM47.7 177.6L45.6 176.4V178.9zM49.4 177.7L47.3 176.5V178.9zM51.1 177.8L49 176.6V179zM52.8 177.9L50.7 176.6V179.1zM54.5 177.9L52.4 176.7V179.2zM56.2 178L54.1 176.8V179.2zM57.9 178.1L55.8 176.9V179.3zM59.6 178.2L57.5 177V179.4zM61.3 178.3L59.2 177.1V179.5zM63 178.4L60.9 177.1V179.6zM64.7 178.5L62.6 177.2V179.7zM66.4 178.6L64.3 177.3V179.8zM68.1 178.7L66 177.5V179.9zM69.8 178.8L67.7 177.6V180zM71.5 178.9L69.4 177.7V180.2zM73.2 179.1L71.1 177.9V180.3zM74.9 179.3L72.8 178.1V180.5zM76.6 179.5L74.5 178.2V180.7zM78.3 179.7L76.2 178.5V180.9zM80 179.9L77.9 178.7V181.2zM81.7 180.2L79.6 179V181.5zM83.4 180.5L81.3 179.3V181.8zM85.1 180.9L83 179.7V182.1zM86.8 181.2L84.7 180V182.5zM88.5 181.6L86.4 180.4V182.8zM90.2 182L88.1 180.8V183.2zM91.9 182.4L89.8 181.1V183.6zM93.6 182.7L91.5 181.5V183.9zM95.3 183L93.2 181.8V184.3zM97 183.3L94.9 182.1V184.6zM98.7 183.7L96.6 182.4V184.9zM100.4 184L98.3 182.7V185.2zM102.1 184.3L100 183V185.5zM103.8 184.6L101.7 183.3V185.8zM105.5 184.9L103.4 183.7V186.1zM107.2 185.2L105.1 184V186.4zM108.9 185.5L106.8 184.3V186.7zM110.6 185.8L108.5 184.6V187zM112.3 186.1L110.2 184.9V187.3zM114 186.4L111.9 185.2V187.6zM115.7 186.7L113.6 185.5V187.9zM117.4 187L115.3 185.8V188.3zM119.1 187.3L117 186.1V188.6zM120.8 187.7L118.7 186.4V188.9zM122.5 188L120.4 186.8V189.2zM124.2 188.3L122.1 187.1V189.5zM125.9 188.6L123.8 187.4V189.9zM127.6 189L125.5 187.8V190.2zM129.3 189.3L127.2 188.1V190.6zM131 189.7L128.9 188.5V190.9zM132.7 190.1L130.6 188.9V191.4zM134.4 190.6L132.3 189.4V191.9zM136.1 191.2L134 189.9V192.4zM137.8 191.8L135.7 190.5V193zM139.5 192.4L137.4 191.2V193.6zM141.2 193.1L139.1 191.9V194.3zM142.9 193.8L140.8 192.6V195zM144.6 194.4L142.5 193.2V195.6zM146.3 194.8L144.2 193.6V196zM148 195.1L145.9 193.9V196.3zM149.7 195.3L147.6 194V196.5zM151.4 195.3L149.3 194.1V196.5zM153.1 195.3L151 194.1V196.5zM154.8 195.3L152.7 194.1V196.5zM156.5 195.3L154.4 194.1V196.5zM158.2 195.3L156.1 194.1V196.5zM159.9 195.2L157.8 194V196.5zM161.6 195.2L159.5 194V196.4zM163.3 195.1L161.2 193.9V196.4zM165 195.1L162.9 193.9V196.3zM166.7 195L164.6 193.8V196.2zM168.4 195L166.3 193.7V196.2zM170.1 194.9L168 193.7V196.1zM171.8 194.8L169.7 193.6V196z"/><rect x="28.00" y="143.80" width="144.20" height="109.20" fill="none" stroke="#333" stroke-width="1.25"/><text x="177.60" y="141.00" font-size="9.6" text-anchor="start" >D</text><line x1="195.40" y1="143.20" x2="197.40" y2="143.20" stroke="#303030" stroke-width="0.9"/><text x="192.00" y="145.30" font-size="6.3" text-anchor="end">10</text><text x="194.10" y="142.80" font-size="3.8" text-anchor="end">3</text><line x1="195.40" y1="170.75" x2="197.40" y2="170.75" stroke="#303030" stroke-width="0.9"/><text x="192.00" y="172.85" font-size="6.3" text-anchor="end">10</text><text x="194.10" y="170.35" font-size="3.8" text-anchor="end">2</text><line x1="195.40" y1="198.30" x2="197.40" y2="198.30" stroke="#303030" stroke-width="0.9"/><text x="192.00" y="200.40" font-size="6.3" text-anchor="end">10</text><text x="194.10" y="197.90" font-size="3.8" text-anchor="end">1</text><line x1="195.40" y1="225.85" x2="197.40" y2="225.85" stroke="#303030" stroke-width="0.9"/><text x="192.00" y="227.95" font-size="6.3" text-anchor="end">10</text><text x="194.10" y="225.45" font-size="3.8" text-anchor="end">0</text><line x1="195.40" y1="253.40" x2="197.40" y2="253.40" stroke="#303030" stroke-width="0.9"/><text x="190.40" y="255.50" font-size="6.3" text-anchor="end">10</text><text x="194.10" y="253.00" font-size="3.8" text-anchor="end">-1</text><line x1="196.30" y1="162.46" x2="197.40" y2="162.46" stroke="#303030" stroke-width="0.6"/><line x1="196.30" y1="157.61" x2="197.40" y2="157.61" stroke="#303030" stroke-width="0.6"/><line x1="196.30" y1="154.16" x2="197.40" y2="154.16" stroke="#303030" stroke-width="0.6"/><line x1="196.30" y1="151.49" x2="197.40" y2="151.49" stroke="#303030" stroke-width="0.6"/><line x1="196.30" y1="149.31" x2="197.40" y2="149.31" stroke="#303030" stroke-width="0.6"/><line x1="196.30" y1="147.47" x2="197.40" y2="147.47" stroke="#303030" stroke-width="0.6"/><line x1="196.30" y1="145.87" x2="197.40" y2="145.87" stroke="#303030" stroke-width="0.6"/><line x1="196.30" y1="144.46" x2="197.40" y2="144.46" stroke="#303030" stroke-width="0.6"/><line x1="196.30" y1="190.01" x2="197.40" y2="190.01" stroke="#303030" stroke-width="0.6"/><line x1="196.30" y1="185.16" x2="197.40" y2="185.16" stroke="#303030" stroke-width="0.6"/><line x1="196.30" y1="181.71" x2="197.40" y2="181.71" stroke="#303030" stroke-width="0.6"/><line x1="196.30" y1="179.04" x2="197.40" y2="179.04" stroke="#303030" stroke-width="0.6"/><line x1="196.30" y1="176.86" x2="197.40" y2="176.86" stroke="#303030" stroke-width="0.6"/><line x1="196.30" y1="175.02" x2="197.40" y2="175.02" stroke="#303030" stroke-width="0.6"/><line x1="196.30" y1="173.42" x2="197.40" y2="173.42" stroke="#303030" stroke-width="0.6"/><line x1="196.30" y1="172.01" x2="197.40" y2="172.01" stroke="#303030" stroke-width="0.6"/><line x1="196.30" y1="217.56" x2="197.40" y2="217.56" stroke="#303030" stroke-width="0.6"/><line x1="196.30" y1="212.71" x2="197.40" y2="212.71" stroke="#303030" stroke-width="0.6"/><line x1="196.30" y1="209.26" x2="197.40" y2="209.26" stroke="#303030" stroke-width="0.6"/><line x1="196.30" y1="206.59" x2="197.40" y2="206.59" stroke="#303030" stroke-width="0.6"/><line x1="196.30" y1="204.41" x2="197.40" y2="204.41" stroke="#303030" stroke-width="0.6"/><line x1="196.30" y1="202.57" x2="197.40" y2="202.57" stroke="#303030" stroke-width="0.6"/><line x1="196.30" y1="200.97" x2="197.40" y2="200.97" stroke="#303030" stroke-width="0.6"/><line x1="196.30" y1="199.56" x2="197.40" y2="199.56" stroke="#303030" stroke-width="0.6"/><line x1="196.30" y1="245.11" x2="197.40" y2="245.11" stroke="#303030" stroke-width="0.6"/><line x1="196.30" y1="240.26" x2="197.40" y2="240.26" stroke="#303030" stroke-width="0.6"/><line x1="196.30" y1="236.81" x2="197.40" y2="236.81" stroke="#303030" stroke-width="0.6"/><line x1="196.30" y1="234.14" x2="197.40" y2="234.14" stroke="#303030" stroke-width="0.6"/><line x1="196.30" y1="231.96" x2="197.40" y2="231.96" stroke="#303030" stroke-width="0.6"/><line x1="196.30" y1="230.12" x2="197.40" y2="230.12" stroke="#303030" stroke-width="0.6"/><line x1="196.30" y1="228.52" x2="197.40" y2="228.52" stroke="#303030" stroke-width="0.6"/><line x1="196.30" y1="227.11" x2="197.40" y2="227.11" stroke="#303030" stroke-width="0.6"/><line x1="211.00" y1="253.50" x2="211.00" y2="255.70" stroke="#303030" stroke-width="0.8"/><text x="211.00" y="261.50" font-size="6.3" text-anchor="middle" >30</text><line x1="232.43" y1="253.50" x2="232.43" y2="255.70" stroke="#303030" stroke-width="0.8"/><text x="232.43" y="261.50" font-size="6.3" text-anchor="middle" >40</text><line x1="253.86" y1="253.50" x2="253.86" y2="255.70" stroke="#303030" stroke-width="0.8"/><text x="253.86" y="261.50" font-size="6.3" text-anchor="middle" >50</text><line x1="275.29" y1="253.50" x2="275.29" y2="255.70" stroke="#303030" stroke-width="0.8"/><text x="275.29" y="261.50" font-size="6.3" text-anchor="middle" >60</text><line x1="296.72" y1="253.50" x2="296.72" y2="255.70" stroke="#303030" stroke-width="0.8"/><text x="296.72" y="261.50" font-size="6.3" text-anchor="middle" >70</text><line x1="318.15" y1="253.50" x2="318.15" y2="255.70" stroke="#303030" stroke-width="0.8"/><text x="318.15" y="261.50" font-size="6.3" text-anchor="middle" >80</text><line x1="339.58" y1="253.50" x2="339.58" y2="255.70" stroke="#303030" stroke-width="0.8"/><text x="339.58" y="261.50" font-size="6.3" text-anchor="middle" >90</text><line x1="200.28" y1="253.50" x2="200.28" y2="254.70" stroke="#303030" stroke-width="0.6"/><line x1="221.72" y1="253.50" x2="221.72" y2="254.70" stroke="#303030" stroke-width="0.6"/><line x1="243.14" y1="253.50" x2="243.14" y2="254.70" stroke="#303030" stroke-width="0.6"/><line x1="264.57" y1="253.50" x2="264.57" y2="254.70" stroke="#303030" stroke-width="0.6"/><line x1="286.00" y1="253.50" x2="286.00" y2="254.70" stroke="#303030" stroke-width="0.6"/><line x1="307.44" y1="253.50" x2="307.44" y2="254.70" stroke="#303030" stroke-width="0.6"/><line x1="328.87" y1="253.50" x2="328.87" y2="254.70" stroke="#303030" stroke-width="0.6"/><text x="247.20" y="271.00" font-size="8.7" textLength="58.8" lengthAdjust="spacingAndGlyphs">Temperature(&#176;C)</text><text x="0" y="0" font-size="8.7" textLength="74.5" lengthAdjust="spacingAndGlyphs" transform="translate(181.80,233.60) rotate(-90)">Loss modulus G&#39;&#39;(Pa)</text><rect x="207.01" y="148.91" width="1.58" height="1.58" fill="#2a2a2a"/><text x="214.90" y="151.55" font-size="5.05" text-anchor="start" >WNPU/KC</text><circle cx="247.50" cy="149.70" r="1.04" fill="#ff1a1a"/><text x="254.60" y="151.55" font-size="5.05" text-anchor="start" >U-200W</text><polygon points="282.20,148.55 280.98,150.64 283.42,150.64" fill="#0a64e8"/><text x="289.30" y="151.55" font-size="5.05" text-anchor="start" >U-0W-TG</text><polygon points="207.80,156.85 206.58,154.76 209.02,154.76" fill="#00985a"/><text x="214.90" y="157.55" font-size="5.05" text-anchor="start" >U-100W-TG</text><polygon points="251.80,154.44 252.95,155.70 251.80,156.96 250.65,155.70" fill="#c04ae4"/><text x="258.90" y="157.55" font-size="5.05" text-anchor="start" >U-200W-TG</text><polygon points="294.45,155.70 296.54,154.48 296.54,156.92" fill="#eb9a1a"/><text x="302.70" y="157.55" font-size="5.05" text-anchor="start" >U-300W-TG</text><polygon points="208.95,162.10 206.86,160.88 206.86,163.32" fill="#14c4d4"/><text x="214.90" y="163.95" font-size="5.05" text-anchor="start" >U-400W-TG</text><polyline points="200.6,232.4 201.1,232.4 201.7,232.5 202.4,232.5 203.1,232.6 203.9,232.6 204.7,232.7 205.5,232.8 206.5,232.8 207.4,232.9 208.4,233.0 209.4,233.1 210.5,233.1 211.5,233.2 212.6,233.3 213.8,233.4 214.9,233.5 216.1,233.5 217.3,233.6 218.5,233.7 219.7,233.8 220.9,233.9 222.1,234.0 223.3,234.1 224.5,234.2 225.7,234.2 226.8,234.3 228.0,234.4 229.2,234.5 230.3,234.6 231.4,234.7 232.5,234.7 233.6,234.8 234.6,234.9 235.6,234.9 236.6,235.0 237.5,235.1 238.4,235.1 239.2,235.2 240.0,235.2 241.4,235.3 242.8,235.3 244.1,235.4 245.2,235.5 246.4,235.5 247.4,235.5 248.4,235.6 249.4,235.6 250.3,235.6 251.2,235.6 252.1,235.7 252.9,235.7 253.8,235.7 254.6,235.7 255.5,235.7 256.3,235.7 257.2,235.7 258.1,235.7 259.0,235.7 260.0,235.7 261.0,235.7 262.0,235.7 263.0,235.7 264.0,235.7 265.0,235.7 266.0,235.7 267.0,235.7 268.0,235.6 269.0,235.6 270.0,235.6 271.0,235.6 272.0,235.6 273.0,235.5 274.0,235.5 275.0,235.5 276.0,235.5 277.0,235.5 278.0,235.5 279.0,235.5 280.0,235.5 281.0,235.5 281.9,235.5 282.8,235.5 283.7,235.6 284.5,235.6 285.3,235.6 286.2,235.7 287.0,235.7 287.8,235.7 288.7,235.8 289.6,235.8 290.5,235.8 291.4,235.9 292.5,235.9 293.5,235.9 294.7,236.0 295.9,236.0 297.1,236.0 298.5,236.0 300.0,236.0 300.8,236.0 301.6,236.0 302.4,236.0 303.3,236.0 304.3,236.0 305.3,236.0 306.3,236.0 307.3,236.0 308.4,235.9 309.5,235.9 310.6,235.9 311.7,235.9 312.9,235.9 314.0,235.9 315.2,235.9 316.4,235.9 317.6,235.8 318.8,235.8 320.0,235.8 321.2,235.8 322.3,235.8 323.5,235.8 324.7,235.7 325.9,235.7 327.0,235.7 328.1,235.7 329.2,235.7 330.3,235.7 331.4,235.6 332.4,235.6 333.4,235.6 334.3,235.6 335.3,235.6 336.2,235.6 337.0,235.6 337.8,235.5 338.5,235.5 339.2,235.5 339.9,235.5 340.5,235.5 341.0,235.5" fill="none" stroke="#2a2a2a" stroke-width="0.9" stroke-linejoin="round" opacity="1.0"/><path fill="#2a2a2a" d="M199.8 231.6h1.6v1.6h-1.6zM201.5 231.7h1.6v1.6h-1.6zM203.2 231.9h1.6v1.6h-1.6zM204.9 232h1.6v1.6h-1.6zM206.6 232.1h1.6v1.6h-1.6zM208.3 232.2h1.6v1.6h-1.6zM210 232.4h1.6v1.6h-1.6zM211.7 232.5h1.6v1.6h-1.6zM213.4 232.6h1.6v1.6h-1.6zM215.1 232.7h1.6v1.6h-1.6zM216.8 232.9h1.6v1.6h-1.6zM218.5 233h1.6v1.6h-1.6zM220.2 233.1h1.6v1.6h-1.6zM221.9 233.2h1.6v1.6h-1.6zM223.6 233.4h1.6v1.6h-1.6zM225.3 233.5h1.6v1.6h-1.6zM227 233.6h1.6v1.6h-1.6zM228.7 233.7h1.6v1.6h-1.6zM230.4 233.8h1.6v1.6h-1.6zM232.1 234h1.6v1.6h-1.6zM233.8 234.1h1.6v1.6h-1.6zM235.5 234.2h1.6v1.6h-1.6zM237.2 234.3h1.6v1.6h-1.6zM238.9 234.4h1.6v1.6h-1.6zM240.6 234.5h1.6v1.6h-1.6zM242.3 234.6h1.6v1.6h-1.6zM244 234.6h1.6v1.6h-1.6zM245.7 234.7h1.6v1.6h-1.6zM247.4 234.8h1.6v1.6h-1.6zM249.1 234.8h1.6v1.6h-1.6zM250.8 234.9h1.6v1.6h-1.6zM252.5 234.9h1.6v1.6h-1.6zM254.2 234.9h1.6v1.6h-1.6zM255.9 234.9h1.6v1.6h-1.6zM257.6 234.9h1.6v1.6h-1.6zM259.3 234.9h1.6v1.6h-1.6zM261 234.9h1.6v1.6h-1.6zM262.7 234.9h1.6v1.6h-1.6zM264.4 234.9h1.6v1.6h-1.6zM266.1 234.9h1.6v1.6h-1.6zM267.8 234.8h1.6v1.6h-1.6zM269.5 234.8h1.6v1.6h-1.6zM271.2 234.8h1.6v1.6h-1.6zM272.9 234.7h1.6v1.6h-1.6zM274.6 234.7h1.6v1.6h-1.6zM276.3 234.7h1.6v1.6h-1.6zM278 234.7h1.6v1.6h-1.6zM279.7 234.7h1.6v1.6h-1.6zM281.4 234.7h1.6v1.6h-1.6zM283.1 234.8h1.6v1.6h-1.6zM284.8 234.8h1.6v1.6h-1.6zM286.5 234.9h1.6v1.6h-1.6zM288.2 235h1.6v1.6h-1.6zM289.9 235.1h1.6v1.6h-1.6zM291.6 235.1h1.6v1.6h-1.6zM293.3 235.1h1.6v1.6h-1.6zM295 235.2h1.6v1.6h-1.6zM296.7 235.2h1.6v1.6h-1.6zM298.4 235.2h1.6v1.6h-1.6zM300.1 235.2h1.6v1.6h-1.6zM301.8 235.2h1.6v1.6h-1.6zM303.5 235.2h1.6v1.6h-1.6zM305.2 235.2h1.6v1.6h-1.6zM306.9 235.2h1.6v1.6h-1.6zM308.6 235.1h1.6v1.6h-1.6zM310.3 235.1h1.6v1.6h-1.6zM312 235.1h1.6v1.6h-1.6zM313.7 235.1h1.6v1.6h-1.6zM315.4 235.1h1.6v1.6h-1.6zM317.1 235h1.6v1.6h-1.6zM318.8 235h1.6v1.6h-1.6zM320.5 235h1.6v1.6h-1.6zM322.2 235h1.6v1.6h-1.6zM323.9 234.9h1.6v1.6h-1.6zM325.6 234.9h1.6v1.6h-1.6zM327.3 234.9h1.6v1.6h-1.6zM329 234.9h1.6v1.6h-1.6zM330.7 234.8h1.6v1.6h-1.6zM332.4 234.8h1.6v1.6h-1.6zM334.1 234.8h1.6v1.6h-1.6zM335.8 234.8h1.6v1.6h-1.6zM337.5 234.7h1.6v1.6h-1.6zM339.2 234.7h1.6v1.6h-1.6z"/><polyline points="200.6,219.9 201.1,220.0 201.7,220.0 202.4,220.1 203.1,220.2 203.8,220.2 204.6,220.3 205.4,220.4 206.3,220.5 207.2,220.6 208.1,220.7 209.1,220.8 210.1,220.9 211.2,221.1 212.3,221.2 213.4,221.3 214.5,221.4 215.6,221.5 216.8,221.7 218.0,221.8 219.2,221.9 220.4,222.1 221.6,222.2 222.8,222.3 224.1,222.5 225.3,222.6 226.5,222.7 227.8,222.9 229.0,223.0 230.2,223.1 231.4,223.3 232.6,223.4 233.8,223.5 235.0,223.7 236.2,223.8 237.3,223.9 238.4,224.0 239.5,224.1 240.6,224.3 241.6,224.4 242.7,224.5 243.6,224.6 244.6,224.7 245.5,224.8 246.3,224.9 247.2,225.0 248.0,225.1 248.7,225.2 249.4,225.2 250.0,225.3 252.6,225.6 254.4,225.8 255.6,225.9 256.4,226.0 256.8,226.0 257.2,226.1 257.5,226.1 258.0,226.2 258.8,226.3 260.0,226.5 260.8,226.6 261.6,226.8 262.5,226.9 263.4,227.0 264.4,227.2 265.4,227.4 266.5,227.5 267.5,227.7 268.6,227.9 269.7,228.1 270.8,228.3 271.9,228.5 273.0,228.6 274.1,228.8 275.1,229.0 276.2,229.2 277.2,229.4 278.2,229.6 279.1,229.8 280.0,230.0 281.1,230.3 282.2,230.5 283.2,230.8 284.2,231.1 285.1,231.4 286.1,231.7 287.0,232.0 287.9,232.3 288.8,232.6 289.7,232.8 290.7,233.1 291.7,233.4 292.7,233.6 293.8,233.8 295.0,234.0 295.9,234.1 296.8,234.3 297.8,234.4 298.8,234.5 299.8,234.6 300.9,234.7 302.0,234.8 303.1,234.9 304.2,234.9 305.3,235.0 306.4,235.1 307.5,235.2 308.6,235.2 309.7,235.3 310.7,235.3 311.7,235.4 312.7,235.4 313.6,235.4 314.4,235.5 315.3,235.5 316.0,235.5 317.5,235.5 318.7,235.4 319.6,235.3 320.4,235.2 321.2,235.1 321.9,234.9 322.8,234.8 323.8,234.6 325.0,234.5 325.8,234.4 326.8,234.4 327.8,234.3 328.9,234.2 330.0,234.2 331.2,234.1 332.4,234.1 333.6,234.0 334.7,233.9 335.9,233.9 336.9,233.8 338.0,233.8 338.9,233.7 339.7,233.7 340.4,233.6 341.0,233.6" fill="none" stroke="#ff1a1a" stroke-width="0.9" stroke-linejoin="round" opacity="1.0"/><path fill="#ff1a1a" d="M199.6 219.9a1 1 0 1 0 2.1 0a1 1 0 1 0 -2.1 0zM201.3 220.1a1 1 0 1 0 2.1 0a1 1 0 1 0 -2.1 0zM203 220.3a1 1 0 1 0 2.1 0a1 1 0 1 0 -2.1 0zM204.7 220.5a1 1 0 1 0 2.1 0a1 1 0 1 0 -2.1 0zM206.4 220.6a1 1 0 1 0 2.1 0a1 1 0 1 0 -2.1 0zM208.1 220.8a1 1 0 1 0 2.1 0a1 1 0 1 0 -2.1 0zM209.8 221a1 1 0 1 0 2.1 0a1 1 0 1 0 -2.1 0zM211.5 221.2a1 1 0 1 0 2.1 0a1 1 0 1 0 -2.1 0zM213.2 221.4a1 1 0 1 0 2.1 0a1 1 0 1 0 -2.1 0zM214.9 221.6a1 1 0 1 0 2.1 0a1 1 0 1 0 -2.1 0zM216.6 221.8a1 1 0 1 0 2.1 0a1 1 0 1 0 -2.1 0zM218.3 221.9a1 1 0 1 0 2.1 0a1 1 0 1 0 -2.1 0zM220 222.1a1 1 0 1 0 2.1 0a1 1 0 1 0 -2.1 0zM221.7 222.3a1 1 0 1 0 2.1 0a1 1 0 1 0 -2.1 0zM223.4 222.5a1 1 0 1 0 2.1 0a1 1 0 1 0 -2.1 0zM225.1 222.7a1 1 0 1 0 2.1 0a1 1 0 1 0 -2.1 0zM226.8 222.9a1 1 0 1 0 2.1 0a1 1 0 1 0 -2.1 0zM228.5 223.1a1 1 0 1 0 2.1 0a1 1 0 1 0 -2.1 0zM230.2 223.2a1 1 0 1 0 2.1 0a1 1 0 1 0 -2.1 0zM231.9 223.4a1 1 0 1 0 2.1 0a1 1 0 1 0 -2.1 0zM233.6 223.6a1 1 0 1 0 2.1 0a1 1 0 1 0 -2.1 0zM235.3 223.8a1 1 0 1 0 2.1 0a1 1 0 1 0 -2.1 0zM237 224a1 1 0 1 0 2.1 0a1 1 0 1 0 -2.1 0zM238.7 224.2a1 1 0 1 0 2.1 0a1 1 0 1 0 -2.1 0zM240.4 224.4a1 1 0 1 0 2.1 0a1 1 0 1 0 -2.1 0zM242.1 224.5a1 1 0 1 0 2.1 0a1 1 0 1 0 -2.1 0zM243.8 224.7a1 1 0 1 0 2.1 0a1 1 0 1 0 -2.1 0zM245.5 224.9a1 1 0 1 0 2.1 0a1 1 0 1 0 -2.1 0zM247.2 225.1a1 1 0 1 0 2.1 0a1 1 0 1 0 -2.1 0zM248.9 225.3a1 1 0 1 0 2.1 0a1 1 0 1 0 -2.1 0zM250.6 225.5a1 1 0 1 0 2.1 0a1 1 0 1 0 -2.1 0zM252.3 225.7a1 1 0 1 0 2.1 0a1 1 0 1 0 -2.1 0zM254 225.8a1 1 0 1 0 2.1 0a1 1 0 1 0 -2.1 0zM255.7 226a1 1 0 1 0 2.1 0a1 1 0 1 0 -2.1 0zM257.4 226.2a1 1 0 1 0 2.1 0a1 1 0 1 0 -2.1 0zM259.1 226.5a1 1 0 1 0 2.1 0a1 1 0 1 0 -2.1 0zM260.8 226.8a1 1 0 1 0 2.1 0a1 1 0 1 0 -2.1 0zM262.5 227.1a1 1 0 1 0 2.1 0a1 1 0 1 0 -2.1 0zM264.2 227.3a1 1 0 1 0 2.1 0a1 1 0 1 0 -2.1 0zM265.9 227.6a1 1 0 1 0 2.1 0a1 1 0 1 0 -2.1 0zM267.6 227.9a1 1 0 1 0 2.1 0a1 1 0 1 0 -2.1 0zM269.3 228.2a1 1 0 1 0 2.1 0a1 1 0 1 0 -2.1 0zM271 228.5a1 1 0 1 0 2.1 0a1 1 0 1 0 -2.1 0zM272.7 228.8a1 1 0 1 0 2.1 0a1 1 0 1 0 -2.1 0zM274.4 229.1a1 1 0 1 0 2.1 0a1 1 0 1 0 -2.1 0zM276.1 229.4a1 1 0 1 0 2.1 0a1 1 0 1 0 -2.1 0zM277.8 229.7a1 1 0 1 0 2.1 0a1 1 0 1 0 -2.1 0zM279.5 230.1a1 1 0 1 0 2.1 0a1 1 0 1 0 -2.1 0zM281.2 230.5a1 1 0 1 0 2.1 0a1 1 0 1 0 -2.1 0zM282.9 231a1 1 0 1 0 2.1 0a1 1 0 1 0 -2.1 0zM284.6 231.5a1 1 0 1 0 2.1 0a1 1 0 1 0 -2.1 0zM286.3 232.1a1 1 0 1 0 2.1 0a1 1 0 1 0 -2.1 0zM288 232.6a1 1 0 1 0 2.1 0a1 1 0 1 0 -2.1 0zM289.7 233.1a1 1 0 1 0 2.1 0a1 1 0 1 0 -2.1 0zM291.4 233.5a1 1 0 1 0 2.1 0a1 1 0 1 0 -2.1 0zM293.1 233.8a1 1 0 1 0 2.1 0a1 1 0 1 0 -2.1 0zM294.8 234.1a1 1 0 1 0 2.1 0a1 1 0 1 0 -2.1 0zM296.5 234.3a1 1 0 1 0 2.1 0a1 1 0 1 0 -2.1 0zM298.2 234.5a1 1 0 1 0 2.1 0a1 1 0 1 0 -2.1 0zM299.9 234.7a1 1 0 1 0 2.1 0a1 1 0 1 0 -2.1 0zM301.6 234.8a1 1 0 1 0 2.1 0a1 1 0 1 0 -2.1 0zM303.3 235a1 1 0 1 0 2.1 0a1 1 0 1 0 -2.1 0zM305 235.1a1 1 0 1 0 2.1 0a1 1 0 1 0 -2.1 0zM306.7 235.2a1 1 0 1 0 2.1 0a1 1 0 1 0 -2.1 0zM308.4 235.3a1 1 0 1 0 2.1 0a1 1 0 1 0 -2.1 0zM310.1 235.3a1 1 0 1 0 2.1 0a1 1 0 1 0 -2.1 0zM311.8 235.4a1 1 0 1 0 2.1 0a1 1 0 1 0 -2.1 0zM313.5 235.5a1 1 0 1 0 2.1 0a1 1 0 1 0 -2.1 0zM315.2 235.5a1 1 0 1 0 2.1 0a1 1 0 1 0 -2.1 0zM316.9 235.5a1 1 0 1 0 2.1 0a1 1 0 1 0 -2.1 0zM318.6 235.4a1 1 0 1 0 2.1 0a1 1 0 1 0 -2.1 0zM320.3 235a1 1 0 1 0 2.1 0a1 1 0 1 0 -2.1 0zM322 234.7a1 1 0 1 0 2.1 0a1 1 0 1 0 -2.1 0zM323.7 234.5a1 1 0 1 0 2.1 0a1 1 0 1 0 -2.1 0zM325.4 234.4a1 1 0 1 0 2.1 0a1 1 0 1 0 -2.1 0zM327.1 234.3a1 1 0 1 0 2.1 0a1 1 0 1 0 -2.1 0zM328.8 234.2a1 1 0 1 0 2.1 0a1 1 0 1 0 -2.1 0zM330.5 234.1a1 1 0 1 0 2.1 0a1 1 0 1 0 -2.1 0zM332.2 234a1 1 0 1 0 2.1 0a1 1 0 1 0 -2.1 0zM333.9 233.9a1 1 0 1 0 2.1 0a1 1 0 1 0 -2.1 0zM335.6 233.8a1 1 0 1 0 2.1 0a1 1 0 1 0 -2.1 0zM337.3 233.7a1 1 0 1 0 2.1 0a1 1 0 1 0 -2.1 0zM339 233.7a1 1 0 1 0 2.1 0a1 1 0 1 0 -2.1 0z"/><polyline points="200.6,195.9 201.2,196.0 201.8,196.1 202.6,196.2 203.4,196.3 204.3,196.5 205.2,196.6 206.3,196.7 207.3,196.9 208.4,197.1 209.6,197.2 210.7,197.4 211.9,197.6 213.1,197.8 214.3,198.0 215.5,198.1 216.7,198.3 217.8,198.5 219.0,198.7 220.0,198.8 221.1,199.0 222.1,199.2 223.0,199.3 224.1,199.5 225.3,199.7 226.4,199.8 227.5,200.0 228.5,200.2 229.6,200.4 230.6,200.5 231.6,200.7 232.6,200.9 233.6,201.1 234.6,201.2 235.5,201.4 236.5,201.5 237.4,201.7 238.3,201.9 239.1,202.0 240.0,202.2 241.2,202.4 242.3,202.6 243.3,202.9 244.3,203.1 245.3,203.3 246.2,203.5 247.1,203.7 248.0,203.9 249.0,204.1 249.9,204.3 250.9,204.6 252.0,204.8 252.9,205.0 253.9,205.2 254.9,205.4 255.9,205.6 256.9,205.8 257.9,206.1 258.9,206.3 259.9,206.5 260.9,206.7 261.9,206.9 263.0,207.2 264.0,207.4 265.0,207.7 266.0,207.9 267.0,208.2 268.0,208.4 269.0,208.7 270.1,208.9 271.1,209.2 272.1,209.5 273.1,209.8 274.1,210.0 275.1,210.3 276.1,210.6 277.1,210.9 278.1,211.2 279.1,211.4 280.0,211.7 281.1,212.0 282.2,212.3 283.2,212.6 284.3,213.0 285.3,213.3 286.4,213.6 287.4,213.9 288.4,214.2 289.3,214.5 290.3,214.8 291.1,215.1 292.0,215.4 293.2,215.8 294.2,216.2 295.2,216.6 296.1,217.0 297.0,217.4 298.0,217.8 298.9,218.2 300.0,218.7 300.9,219.1 301.9,219.5 302.9,220.0 303.9,220.4 304.9,220.9 305.9,221.4 306.9,221.9 308.0,222.4 309.0,223.0 310.0,223.5 311.0,224.1 312.0,224.7 313.0,225.4 314.0,226.2 315.0,226.9 316.0,227.6 317.0,228.2 318.0,228.8 319.0,229.3 320.0,229.7 321.0,230.0 322.0,230.2 323.0,230.3 324.0,230.3 324.9,230.3 325.9,230.2 326.9,230.2 327.9,230.1 329.0,230.1 330.0,230.1 331.0,230.1 332.1,230.1 333.2,230.1 334.4,230.1 335.6,230.1 336.7,230.1 337.8,230.1 338.8,230.1 339.7,230.1 340.4,230.1 341.0,230.1" fill="none" stroke="#0a64e8" stroke-width="0.9" stroke-linejoin="round" opacity="1.0"/><path fill="#0a64e8" d="M200.6 194.7L199.4 196.8H201.8zM202.3 195L201.1 197.1H203.5zM204 195.3L202.8 197.3H205.2zM205.7 195.5L204.5 197.6H206.9zM207.4 195.8L206.2 197.9H208.6zM209.1 196L207.9 198.1H210.3zM210.8 196.3L209.6 198.4H212zM212.5 196.5L211.3 198.6H213.7zM214.2 196.8L213 198.9H215.4zM215.9 197L214.7 199.1H217.1zM217.6 197.3L216.4 199.4H218.8zM219.3 197.6L218.1 199.7H220.5zM221 197.8L219.8 199.9H222.2zM222.7 198.1L221.5 200.2H223.9zM224.4 198.4L223.2 200.5H225.6zM226.1 198.6L224.9 200.7H227.3zM227.8 198.9L226.6 201H229zM229.5 199.2L228.3 201.3H230.7zM231.2 199.5L230 201.6H232.4zM232.9 199.8L231.7 201.9H234.1zM234.6 200.1L233.4 202.2H235.8zM236.3 200.4L235.1 202.5H237.5zM238 200.7L236.8 202.8H239.2zM239.7 201L238.5 203.1H240.9zM241.4 201.3L240.2 203.4H242.6zM243.1 201.7L241.9 203.8H244.3zM244.8 202L243.6 204.1H246zM246.5 202.4L245.3 204.5H247.7zM248.2 202.8L247 204.9H249.4zM249.9 203.2L248.7 205.3H251.1zM251.6 203.6L250.4 205.6H252.8zM253.3 203.9L252.1 206H254.5zM255 204.3L253.8 206.4H256.2zM256.7 204.7L255.5 206.7H257.9zM258.4 205L257.2 207.1H259.6zM260.1 205.4L258.9 207.5H261.3zM261.8 205.8L260.6 207.9H263zM263.5 206.2L262.3 208.2H264.7zM265.2 206.6L264 208.6H266.4zM266.9 207L265.7 209.1H268.1zM268.6 207.4L267.4 209.5H269.8zM270.3 207.8L269.1 209.9H271.5zM272 208.3L270.8 210.4H273.2zM273.7 208.8L272.5 210.9H274.9zM275.4 209.2L274.2 211.3H276.6zM277.1 209.7L275.9 211.8H278.3zM278.8 210.2L277.6 212.3H280zM280.5 210.7L279.3 212.8H281.7zM282.2 211.2L281 213.3H283.4zM283.9 211.7L282.7 213.8H285.1zM285.6 212.2L284.4 214.3H286.8zM287.3 212.7L286.1 214.8H288.5zM289 213.2L287.8 215.3H290.2zM290.7 213.8L289.5 215.9H291.9zM292.4 214.4L291.2 216.5H293.6zM294.1 215L292.9 217.1H295.3zM295.8 215.7L294.6 217.8H297zM297.5 216.4L296.3 218.5H298.7zM299.2 217.2L298 219.3H300.4zM300.9 218L299.7 220H302.1zM302.6 218.7L301.4 220.8H303.8zM304.3 219.5L303.1 221.6H305.5zM306 220.3L304.8 222.4H307.2zM307.7 221.1L306.5 223.2H308.9zM309.4 222L308.2 224.1H310.6zM311.1 223L309.9 225.1H312.3zM312.8 224.1L311.6 226.2H314zM314.5 225.4L313.3 227.5H315.7zM316.2 226.5L315 228.6H317.4zM317.9 227.6L316.7 229.7H319.1zM319.6 228.4L318.4 230.5H320.8zM321.3 228.9L320.1 231H322.5zM323 229.1L321.8 231.2H324.2zM324.7 229.1L323.5 231.2H325.9zM326.4 229.1L325.2 231.2H327.6zM328.1 229L326.9 231.1H329.3zM329.8 228.9L328.6 231H331zM331.5 229L330.3 231.1H332.7zM333.2 229L332 231.1H334.4zM334.9 229L333.7 231.1H336.1zM336.6 229L335.4 231.1H337.8zM338.3 229L337.1 231H339.5zM340 229L338.8 231H341.2z"/><polyline points="200.6,186.4 201.2,186.5 201.8,186.6 202.6,186.7 203.4,186.8 204.3,186.9 205.2,187.0 206.3,187.1 207.3,187.3 208.4,187.4 209.6,187.6 210.7,187.7 211.9,187.9 213.1,188.0 214.3,188.2 215.5,188.4 216.7,188.5 217.8,188.7 219.0,188.8 220.0,188.9 221.1,189.1 222.1,189.2 223.0,189.3 224.1,189.4 225.3,189.6 226.4,189.7 227.5,189.8 228.5,190.0 229.6,190.1 230.6,190.2 231.6,190.3 232.6,190.4 233.6,190.5 234.6,190.7 235.5,190.8 236.5,190.8 237.4,190.9 238.3,191.0 239.1,191.1 240.0,191.2 241.2,191.3 242.3,191.4 243.3,191.4 244.3,191.5 245.3,191.5 246.2,191.5 247.1,191.6 248.0,191.6 249.0,191.7 249.9,191.7 250.9,191.9 252.0,192.0 252.9,192.1 253.9,192.3 254.9,192.5 255.9,192.7 256.9,192.9 257.9,193.1 258.9,193.3 259.9,193.6 260.9,193.8 261.9,194.1 263.0,194.3 264.0,194.6 265.0,194.9 266.0,195.2 267.0,195.5 268.0,195.8 269.0,196.2 270.1,196.5 271.1,196.9 272.1,197.3 273.1,197.7 274.1,198.1 275.1,198.5 276.1,198.9 277.1,199.3 278.1,199.6 279.1,200.0 280.0,200.4 281.1,200.8 282.2,201.3 283.2,201.7 284.3,202.2 285.3,202.6 286.4,203.1 287.4,203.5 288.4,203.9 289.3,204.4 290.3,204.8 291.1,205.1 292.0,205.5 293.2,206.0 294.2,206.4 295.2,206.8 296.1,207.2 297.0,207.5 298.0,207.9 298.9,208.3 300.0,208.8 300.9,209.2 301.9,209.7 302.9,210.2 303.9,210.7 304.9,211.3 305.9,211.8 306.9,212.3 308.0,212.9 309.0,213.3 310.0,213.8 311.0,214.2 312.0,214.7 313.0,215.1 314.0,215.5 315.0,215.9 316.0,216.2 317.0,216.6 318.0,216.9 319.0,217.2 320.0,217.4 321.0,217.6 322.0,217.8 323.0,217.9 324.0,218.1 324.9,218.2 325.9,218.2 326.9,218.2 327.9,218.2 329.0,218.2 330.0,218.1 331.0,218.0 332.1,217.8 333.2,217.5 334.4,217.2 335.6,216.9 336.7,216.5 337.8,216.2 338.8,215.9 339.7,215.6 340.4,215.4 341.0,215.2" fill="none" stroke="#00985a" stroke-width="0.9" stroke-linejoin="round" opacity="1.0"/><path fill="#00985a" d="M200.6 187.6L199.4 185.5H201.8zM202.3 187.8L201.1 185.7H203.5zM204 188L202.8 185.9H205.2zM205.7 188.2L204.5 186.1H206.9zM207.4 188.4L206.2 186.4H208.6zM209.1 188.7L207.9 186.6H210.3zM210.8 188.9L209.6 186.8H212zM212.5 189.1L211.3 187H213.7zM214.2 189.3L213 187.2H215.4zM215.9 189.6L214.7 187.5H217.1zM217.6 189.8L216.4 187.7H218.8zM219.3 190L218.1 187.9H220.5zM221 190.2L219.8 188.1H222.2zM222.7 190.4L221.5 188.3H223.9zM224.4 190.6L223.2 188.5H225.6zM226.1 190.8L224.9 188.7H227.3zM227.8 191L226.6 188.9H229zM229.5 191.2L228.3 189.1H230.7zM231.2 191.4L230 189.3H232.4zM232.9 191.6L231.7 189.5H234.1zM234.6 191.8L233.4 189.7H235.8zM236.3 192L235.1 189.9H237.5zM238 192.2L236.8 190.1H239.2zM239.7 192.3L238.5 190.2H240.9zM241.4 192.5L240.2 190.4H242.6zM243.1 192.6L241.9 190.5H244.3zM244.8 192.6L243.6 190.5H246zM246.5 192.7L245.3 190.6H247.7zM248.2 192.8L247 190.7H249.4zM249.9 192.9L248.7 190.8H251.1zM251.6 193.1L250.4 191H252.8zM253.3 193.4L252.1 191.3H254.5zM255 193.7L253.8 191.6H256.2zM256.7 194L255.5 191.9H257.9zM258.4 194.4L257.2 192.3H259.6zM260.1 194.8L258.9 192.7H261.3zM261.8 195.2L260.6 193.1H263zM263.5 195.6L262.3 193.5H264.7zM265.2 196.1L264 194H266.4zM266.9 196.6L265.7 194.5H268.1zM268.6 197.2L267.4 195.1H269.8zM270.3 197.8L269.1 195.7H271.5zM272 198.4L270.8 196.3H273.2zM273.7 199.1L272.5 197H274.9zM275.4 199.7L274.2 197.6H276.6zM277.1 200.4L275.9 198.3H278.3zM278.8 201.1L277.6 199H280zM280.5 201.8L279.3 199.7H281.7zM282.2 202.4L281 200.4H283.4zM283.9 203.2L282.7 201.1H285.1zM285.6 203.9L284.4 201.8H286.8zM287.3 204.6L286.1 202.5H288.5zM289 205.4L287.8 203.3H290.2zM290.7 206.1L289.5 204H291.9zM292.4 206.8L291.2 204.7H293.6zM294.1 207.5L292.9 205.4H295.3zM295.8 208.2L294.6 206.1H297zM297.5 208.9L296.3 206.8H298.7zM299.2 209.6L298 207.5H300.4zM300.9 210.4L299.7 208.3H302.1zM302.6 211.2L301.4 209.2H303.8zM304.3 212.1L303.1 210H305.5zM306 213L304.8 210.9H307.2zM307.7 213.9L306.5 211.8H308.9zM309.4 214.7L308.2 212.6H310.6zM311.1 215.4L309.9 213.3H312.3zM312.8 216.1L311.6 214.1H314zM314.5 216.8L313.3 214.7H315.7zM316.2 217.5L315 215.4H317.4zM317.9 218L316.7 215.9H319.1zM319.6 218.5L318.4 216.4H320.8zM321.3 218.8L320.1 216.7H322.5zM323 219.1L321.8 217H324.2zM324.7 219.3L323.5 217.2H325.9zM326.4 219.4L325.2 217.3H327.6zM328.1 219.4L326.9 217.3H329.3zM329.8 219.3L328.6 217.2H331zM331.5 219L330.3 216.9H332.7zM333.2 218.6L332 216.6H334.4zM334.9 218.2L333.7 216.1H336.1zM336.6 217.7L335.4 215.6H337.8zM338.3 217.2L337.1 215.1H339.5zM340 216.6L338.8 214.6H341.2z"/><polyline points="200.6,176.2 201.2,176.3 201.8,176.4 202.6,176.4 203.4,176.5 204.3,176.7 205.2,176.8 206.3,176.9 207.3,177.0 208.4,177.1 209.6,177.3 210.7,177.4 211.9,177.6 213.1,177.7 214.3,177.9 215.5,178.0 216.7,178.2 217.8,178.4 219.0,178.5 220.0,178.7 221.1,178.9 222.1,179.0 223.0,179.2 224.1,179.4 225.3,179.7 226.4,179.9 227.5,180.2 228.5,180.4 229.6,180.7 230.6,180.9 231.6,181.2 232.6,181.5 233.6,181.8 234.6,182.0 235.5,182.3 236.5,182.6 237.4,182.8 238.3,183.1 239.1,183.4 240.0,183.6 241.2,183.9 242.3,184.2 243.3,184.5 244.3,184.7 245.3,185.0 246.2,185.2 247.1,185.5 248.0,185.8 249.0,186.1 249.9,186.5 250.9,186.9 252.0,187.4 252.9,187.9 253.9,188.4 254.9,188.9 255.9,189.5 256.9,190.1 257.9,190.7 258.9,191.4 259.9,192.0 260.9,192.7 261.9,193.4 263.0,194.1 264.0,194.7 265.0,195.4 266.0,196.0 267.0,196.6 268.0,197.3 269.0,197.9 270.1,198.5 271.1,199.2 272.1,199.8 273.1,200.5 274.1,201.1 275.1,201.7 276.1,202.4 277.1,203.0 278.1,203.6 279.1,204.2 280.0,204.8 281.1,205.5 282.2,206.2 283.2,206.9 284.3,207.6 285.3,208.3 286.4,208.9 287.4,209.6 288.4,210.2 289.3,210.8 290.3,211.4 291.1,211.9 292.0,212.4 293.2,213.0 294.2,213.5 295.2,213.9 296.1,214.2 297.0,214.5 298.0,214.9 298.9,215.3 300.0,215.8 300.9,216.3 301.9,216.8 302.9,217.4 303.9,218.0 304.9,218.6 305.9,219.3 306.9,219.9 308.0,220.5 309.0,221.1 310.0,221.7 311.0,222.3 312.0,222.8 313.0,223.4 314.0,224.0 315.0,224.6 316.0,225.1 317.0,225.6 318.0,226.1 319.0,226.5 320.0,226.8 321.0,227.0 322.0,227.2 323.0,227.3 324.0,227.3 324.9,227.3 325.9,227.3 326.9,227.3 327.9,227.2 329.0,227.2 330.0,227.2 331.0,227.2 332.1,227.2 333.2,227.2 334.4,227.2 335.6,227.2 336.7,227.2 337.8,227.2 338.8,227.1 339.7,227.1 340.4,227.1 341.0,227.1" fill="none" stroke="#c04ae4" stroke-width="0.9" stroke-linejoin="round" opacity="1.0"/><path fill="#c04ae4" d="M200.6 174.9L201.8 176.2L200.6 177.5L199.4 176.2zM202.3 175.2L203.5 176.4L202.3 177.7L201.1 176.4zM204 175.4L205.2 176.6L204 177.9L202.8 176.6zM205.7 175.6L206.9 176.8L205.7 178.1L204.5 176.8zM207.4 175.8L208.6 177L207.4 178.3L206.2 177zM209.1 176L210.3 177.2L209.1 178.5L207.9 177.2zM210.8 176.2L212 177.4L210.8 178.7L209.6 177.4zM212.5 176.4L213.7 177.6L212.5 178.9L211.3 177.6zM214.2 176.6L215.4 177.9L214.2 179.1L213 177.9zM215.9 176.8L217.1 178.1L215.9 179.4L214.7 178.1zM217.6 177.1L218.8 178.3L217.6 179.6L216.4 178.3zM219.3 177.3L220.5 178.6L219.3 179.8L218.1 178.6zM221 177.6L222.2 178.9L221 180.1L219.8 178.9zM222.7 177.9L223.9 179.1L222.7 180.4L221.5 179.1zM224.4 178.2L225.6 179.5L224.4 180.7L223.2 179.5zM226.1 178.6L227.3 179.8L226.1 181.1L224.9 179.8zM227.8 179L229 180.2L227.8 181.5L226.6 180.2zM229.5 179.4L230.7 180.6L229.5 181.9L228.3 180.6zM231.2 179.8L232.4 181.1L231.2 182.4L230 181.1zM232.9 180.3L234.1 181.6L232.9 182.8L231.7 181.6zM234.6 180.8L235.8 182L234.6 183.3L233.4 182zM236.3 181.3L237.5 182.5L236.3 183.8L235.1 182.5zM238 181.8L239.2 183L238 184.3L236.8 183zM239.7 182.3L240.9 183.5L239.7 184.8L238.5 183.5zM241.4 182.7L242.6 184L241.4 185.2L240.2 184zM243.1 183.2L244.3 184.4L243.1 185.7L241.9 184.4zM244.8 183.6L246 184.9L244.8 186.1L243.6 184.9zM246.5 184.1L247.7 185.3L246.5 186.6L245.3 185.3zM248.2 184.6L249.4 185.9L248.2 187.1L247 185.9zM249.9 185.2L251.1 186.5L249.9 187.7L248.7 186.5zM251.6 186L252.8 187.2L251.6 188.5L250.4 187.2zM253.3 186.8L254.5 188.1L253.3 189.3L252.1 188.1zM255 187.7L256.2 189L255 190.3L253.8 189zM256.7 188.8L257.9 190L256.7 191.3L255.5 190zM258.4 189.8L259.6 191.1L258.4 192.3L257.2 191.1zM260.1 190.9L261.3 192.2L260.1 193.4L258.9 192.2zM261.8 192L263 193.3L261.8 194.6L260.6 193.3zM263.5 193.1L264.7 194.4L263.5 195.7L262.3 194.4zM265.2 194.2L266.4 195.5L265.2 196.8L264 195.5zM266.9 195.3L268.1 196.6L266.9 197.8L265.7 196.6zM268.6 196.4L269.8 197.6L268.6 198.9L267.4 197.6zM270.3 197.4L271.5 198.7L270.3 199.9L269.1 198.7zM272 198.5L273.2 199.8L272 201L270.8 199.8zM273.7 199.6L274.9 200.8L273.7 202.1L272.5 200.8zM275.4 200.6L276.6 201.9L275.4 203.2L274.2 201.9zM277.1 201.7L278.3 203L277.1 204.2L275.9 203zM278.8 202.8L280 204L278.8 205.3L277.6 204zM280.5 203.9L281.7 205.1L280.5 206.4L279.3 205.1zM282.2 204.9L283.4 206.2L282.2 207.5L281 206.2zM283.9 206.1L285.1 207.3L283.9 208.6L282.7 207.3zM285.6 207.2L286.8 208.4L285.6 209.7L284.4 208.4zM287.3 208.3L288.5 209.5L287.3 210.8L286.1 209.5zM289 209.4L290.2 210.6L289 211.9L287.8 210.6zM290.7 210.4L291.9 211.7L290.7 212.9L289.5 211.7zM292.4 211.3L293.6 212.6L292.4 213.9L291.2 212.6zM294.1 212.2L295.3 213.4L294.1 214.7L292.9 213.4zM295.8 212.8L297 214.1L295.8 215.3L294.6 214.1zM297.5 213.4L298.7 214.7L297.5 216L296.3 214.7zM299.2 214.2L300.4 215.4L299.2 216.7L298 215.4zM300.9 215L302.1 216.3L300.9 217.5L299.7 216.3zM302.6 216L303.8 217.3L302.6 218.5L301.4 217.3zM304.3 217L305.5 218.3L304.3 219.6L303.1 218.3zM306 218.1L307.2 219.3L306 220.6L304.8 219.3zM307.7 219.1L308.9 220.4L307.7 221.6L306.5 220.4zM309.4 220.1L310.6 221.4L309.4 222.6L308.2 221.4zM311.1 221.1L312.3 222.3L311.1 223.6L309.9 222.3zM312.8 222.1L314 223.3L312.8 224.6L311.6 223.3zM314.5 223L315.7 224.3L314.5 225.6L313.3 224.3zM316.2 224L317.4 225.2L316.2 226.5L315 225.2zM317.9 224.8L319.1 226L317.9 227.3L316.7 226zM319.6 225.4L320.8 226.7L319.6 227.9L318.4 226.7zM321.3 225.8L322.5 227.1L321.3 228.3L320.1 227.1zM323 226L324.2 227.3L323 228.5L321.8 227.3zM324.7 226.1L325.9 227.3L324.7 228.6L323.5 227.3zM326.4 226L327.6 227.3L326.4 228.5L325.2 227.3zM328.1 226L329.3 227.2L328.1 228.5L326.9 227.2zM329.8 225.9L331 227.2L329.8 228.5L328.6 227.2zM331.5 226L332.7 227.2L331.5 228.5L330.3 227.2zM333.2 225.9L334.4 227.2L333.2 228.5L332 227.2zM334.9 225.9L336.1 227.2L334.9 228.5L333.7 227.2zM336.6 225.9L337.8 227.2L336.6 228.4L335.4 227.2zM338.3 225.9L339.5 227.1L338.3 228.4L337.1 227.1zM340 225.9L341.2 227.1L340 228.4L338.8 227.1z"/><polyline points="200.6,176.6 201.2,176.7 201.8,176.8 202.6,176.9 203.4,177.0 204.3,177.1 205.2,177.2 206.3,177.3 207.3,177.5 208.4,177.6 209.6,177.8 210.7,177.9 211.9,178.1 213.1,178.2 214.3,178.4 215.5,178.5 216.7,178.7 217.8,178.8 219.0,179.0 220.0,179.1 221.1,179.2 222.1,179.4 223.0,179.5 224.1,179.6 225.3,179.8 226.4,179.9 227.5,180.1 228.5,180.2 229.6,180.3 230.6,180.5 231.6,180.6 232.6,180.7 233.6,180.8 234.6,181.0 235.5,181.1 236.5,181.2 237.4,181.4 238.3,181.5 239.1,181.6 240.0,181.8 241.2,182.0 242.3,182.2 243.3,182.4 244.3,182.6 245.3,182.9 246.2,183.1 247.1,183.3 248.0,183.6 249.0,183.8 249.9,184.1 250.9,184.5 252.0,184.8 252.9,185.1 253.9,185.4 254.9,185.8 255.9,186.1 256.9,186.5 257.9,186.9 258.9,187.3 259.9,187.7 260.9,188.1 261.9,188.5 263.0,189.0 264.0,189.5 265.0,190.0 266.0,190.5 267.0,191.1 268.0,191.6 269.0,192.3 270.1,192.9 271.1,193.6 272.1,194.3 273.1,195.0 274.1,195.7 275.1,196.4 276.1,197.1 277.1,197.7 278.1,198.4 279.1,199.0 280.0,199.6 281.1,200.3 282.2,200.9 283.2,201.6 284.3,202.2 285.3,202.8 286.4,203.4 287.4,204.0 288.4,204.6 289.3,205.1 290.3,205.6 291.1,206.1 292.0,206.5 293.2,207.0 294.2,207.4 295.2,207.7 296.1,207.9 297.0,208.1 298.0,208.4 298.9,208.9 300.0,209.5 300.9,210.1 301.9,210.9 302.9,211.7 303.9,212.6 304.9,213.6 305.9,214.5 306.9,215.5 308.0,216.4 309.0,217.3 310.0,218.1 311.0,218.9 312.0,219.6 313.0,220.4 314.0,221.1 315.0,221.8 316.0,222.5 317.0,223.1 318.0,223.7 319.0,224.2 320.0,224.6 321.0,224.9 322.0,225.1 323.0,225.3 324.0,225.4 324.9,225.4 325.9,225.4 326.9,225.4 327.9,225.4 329.0,225.4 330.0,225.4 331.0,225.4 332.1,225.4 333.2,225.5 334.4,225.5 335.6,225.5 336.7,225.4 337.8,225.4 338.8,225.4 339.7,225.4 340.4,225.4 341.0,225.4" fill="none" stroke="#eb9a1a" stroke-width="0.9" stroke-linejoin="round" opacity="1.0"/><path fill="#eb9a1a" d="M199.4 176.6L201.5 175.4V177.8zM201.1 176.8L203.2 175.6V178zM202.8 177L204.9 175.8V178.3zM204.5 177.3L206.6 176V178.5zM206.2 177.5L208.3 176.3V178.7zM207.9 177.7L210 176.5V178.9zM209.6 177.9L211.7 176.7V179.1zM211.3 178.1L213.4 176.9V179.4zM213 178.4L215.1 177.1V179.6zM214.7 178.6L216.8 177.3V179.8zM216.4 178.8L218.5 177.6V180zM218.1 179L220.2 177.8V180.2zM219.8 179.2L221.9 178V180.5zM221.5 179.5L223.6 178.2V180.7zM223.2 179.7L225.3 178.5V180.9zM224.9 179.9L227 178.7V181.1zM226.6 180.1L228.7 178.9V181.3zM228.3 180.3L230.4 179.1V181.5zM230 180.5L232.1 179.3V181.7zM231.7 180.7L233.8 179.5V182zM233.4 181L235.5 179.7V182.2zM235.1 181.2L237.2 180V182.4zM236.8 181.5L238.9 180.2V182.7zM238.5 181.7L240.6 180.5V183zM240.2 182.1L242.3 180.8V183.3zM241.9 182.4L244 181.2V183.6zM243.6 182.8L245.7 181.5V184zM245.3 183.2L247.4 181.9V184.4zM247 183.6L249.1 182.4V184.8zM248.7 184.1L250.8 182.9V185.3zM250.4 184.7L252.5 183.4V185.9zM252.1 185.2L254.2 184V186.5zM253.8 185.8L255.9 184.6V187.1zM255.5 186.4L257.6 185.2V187.7zM257.2 187.1L259.3 185.9V188.3zM258.9 187.8L261 186.5V189zM260.6 188.5L262.7 187.3V189.7zM262.3 189.3L264.4 188V190.5zM264 190.1L266.1 188.9V191.3zM265.7 191L267.8 189.8V192.2zM267.4 192L269.5 190.8V193.2zM269.1 193.1L271.2 191.9V194.3zM270.8 194.2L272.9 193V195.4zM272.5 195.4L274.6 194.1V196.6zM274.2 196.5L276.3 195.3V197.8zM275.9 197.7L278 196.5V198.9zM277.6 198.8L279.7 197.6V200.1zM279.3 199.9L281.4 198.7V201.1zM281 200.9L283.1 199.7V202.2zM282.7 202L284.8 200.7V203.2zM284.4 203L286.5 201.8V204.2zM286.1 204L288.2 202.7V205.2zM287.8 204.9L289.9 203.7V206.1zM289.5 205.8L291.6 204.6V207.1zM291.2 206.7L293.3 205.5V207.9zM292.9 207.3L295 206.1V208.6zM294.6 207.8L296.7 206.6V209zM296.3 208.3L298.4 207.1V209.5zM298 209L300.1 207.8V210.3zM299.7 210.1L301.8 208.9V211.4zM301.4 211.5L303.5 210.3V212.7zM303.1 213L305.2 211.8V214.3zM304.8 214.6L306.9 213.4V215.9zM306.5 216.2L308.6 215V217.4zM308.2 217.6L310.3 216.4V218.8zM309.9 218.9L312 217.7V220.2zM311.6 220.2L313.7 219V221.5zM313.3 221.5L315.4 220.3V222.7zM315 222.6L317.1 221.4V223.9zM316.7 223.6L318.8 222.4V224.9zM318.4 224.4L320.5 223.2V225.7zM320.1 225L322.2 223.8V226.2zM321.8 225.3L323.9 224.1V226.5zM323.5 225.4L325.6 224.2V226.6zM325.2 225.4L327.3 224.2V226.6zM326.9 225.4L329 224.2V226.6zM328.6 225.4L330.7 224.2V226.6zM330.3 225.4L332.4 224.2V226.7zM332 225.5L334.1 224.2V226.7zM333.7 225.5L335.8 224.2V226.7zM335.4 225.4L337.5 224.2V226.7zM337.1 225.4L339.2 224.2V226.7zM338.8 225.4L340.9 224.2V226.6z"/><polyline points="200.6,187.5 201.2,187.6 201.8,187.7 202.6,187.8 203.4,187.9 204.3,188.1 205.2,188.2 206.3,188.4 207.3,188.6 208.4,188.7 209.6,188.9 210.7,189.1 211.9,189.3 213.1,189.5 214.3,189.7 215.5,189.9 216.7,190.0 217.8,190.2 219.0,190.4 220.0,190.6 221.1,190.8 222.1,190.9 223.0,191.1 224.1,191.3 225.3,191.5 226.4,191.7 227.5,191.9 228.5,192.1 229.6,192.2 230.6,192.4 231.6,192.6 232.6,192.8 233.6,193.0 234.6,193.2 235.5,193.3 236.5,193.5 237.4,193.7 238.3,193.9 239.1,194.1 240.0,194.3 241.2,194.6 242.3,194.8 243.3,195.1 244.3,195.4 245.3,195.7 246.2,195.9 247.1,196.2 248.0,196.5 249.0,196.8 249.9,197.1 250.9,197.4 252.0,197.8 252.9,198.1 253.9,198.4 254.9,198.8 255.9,199.1 256.9,199.5 257.9,199.9 258.9,200.2 259.9,200.6 260.9,201.0 261.9,201.4 263.0,201.8 264.0,202.2 265.0,202.6 266.0,203.0 267.0,203.4 268.0,203.8 269.0,204.3 270.1,204.7 271.1,205.2 272.1,205.6 273.1,206.1 274.1,206.6 275.1,207.0 276.1,207.5 277.1,207.9 278.1,208.3 279.1,208.7 280.0,209.1 281.1,209.5 282.2,209.9 283.2,210.3 284.3,210.7 285.3,211.1 286.4,211.4 287.4,211.8 288.4,212.1 289.3,212.5 290.3,212.8 291.1,213.2 292.0,213.5 293.2,214.0 294.2,214.5 295.2,214.9 296.1,215.4 297.0,215.8 298.0,216.3 298.9,216.8 300.0,217.4 300.9,217.9 301.9,218.4 302.9,219.0 303.9,219.6 304.9,220.2 305.9,220.8 306.9,221.5 308.0,222.1 309.0,222.6 310.0,223.2 311.0,223.8 312.0,224.3 313.0,224.9 314.0,225.5 315.0,226.1 316.0,226.6 317.0,227.1 318.0,227.6 319.0,228.0 320.0,228.3 321.0,228.5 322.0,228.7 323.0,228.8 324.0,228.8 324.9,228.8 325.9,228.8 326.9,228.8 327.9,228.7 329.0,228.7 330.0,228.7 331.0,228.7 332.1,228.7 333.2,228.7 334.4,228.7 335.6,228.7 336.7,228.7 337.8,228.7 338.8,228.7 339.7,228.7 340.4,228.7 341.0,228.7" fill="none" stroke="#14c4d4" stroke-width="0.9" stroke-linejoin="round" opacity="1.0"/><path fill="#14c4d4" d="M201.8 187.5L199.7 186.3V188.7zM203.5 187.8L201.4 186.5V189zM205.2 188L203.1 186.8V189.3zM206.9 188.3L204.8 187.1V189.5zM208.6 188.6L206.5 187.3V189.8zM210.3 188.8L208.2 187.6V190.1zM212 189.1L209.9 187.9V190.3zM213.7 189.4L211.6 188.2V190.6zM215.4 189.7L213.3 188.4V190.9zM217.1 189.9L215 188.7V191.1zM218.8 190.2L216.7 189V191.4zM220.5 190.5L218.4 189.3V191.7zM222.2 190.8L220.1 189.5V192zM223.9 191L221.8 189.8V192.3zM225.6 191.3L223.5 190.1V192.6zM227.3 191.6L225.2 190.4V192.9zM229 191.9L226.9 190.7V193.2zM230.7 192.2L228.6 191V193.5zM232.4 192.5L230.3 191.3V193.8zM234.1 192.8L232 191.6V194.1zM235.8 193.2L233.7 191.9V194.4zM237.5 193.5L235.4 192.3V194.7zM239.2 193.9L237.1 192.6V195.1zM240.9 194.2L238.8 193V195.5zM242.6 194.6L240.5 193.4V195.9zM244.3 195.1L242.2 193.8V196.3zM246 195.5L243.9 194.3V196.7zM247.7 196L245.6 194.8V197.2zM249.4 196.5L247.3 195.3V197.8zM251.1 197.1L249 195.9V198.3zM252.8 197.7L250.7 196.4V198.9zM254.5 198.2L252.4 197V199.5zM256.2 198.8L254.1 197.6V200.1zM257.9 199.4L255.8 198.2V200.7zM259.6 200.1L257.5 198.8V201.3zM261.3 200.7L259.2 199.5V201.9zM263 201.3L260.9 200.1V202.6zM264.7 202L262.6 200.8V203.2zM266.4 202.7L264.3 201.5V203.9zM268.1 203.4L266 202.1V204.6zM269.8 204.1L267.7 202.9V205.3zM271.5 204.8L269.4 203.6V206.1zM273.2 205.6L271.1 204.4V206.8zM274.9 206.4L272.8 205.1V207.6zM276.6 207.1L274.5 205.9V208.3zM278.3 207.9L276.2 206.7V209.1zM280 208.6L277.9 207.4V209.8zM281.7 209.3L279.6 208.1V210.5zM283.4 210L281.3 208.7V211.2zM285.1 210.6L283 209.3V211.8zM286.8 211.2L284.7 209.9V212.4zM288.5 211.8L286.4 210.5V213zM290.2 212.4L288.1 211.1V213.6zM291.9 213L289.8 211.8V214.2zM293.6 213.7L291.5 212.4V214.9zM295.3 214.4L293.2 213.2V215.6zM297 215.2L294.9 214V216.4zM298.7 216.1L296.6 214.8V217.3zM300.4 217L298.3 215.7V218.2zM302.1 217.9L300 216.7V219.1zM303.8 218.9L301.7 217.7V220.1zM305.5 219.9L303.4 218.7V221.1zM307.2 220.9L305.1 219.7V222.1zM308.9 221.9L306.8 220.7V223.1zM310.6 222.9L308.5 221.6V224.1zM312.3 223.8L310.2 222.6V225zM314 224.8L311.9 223.6V226zM315.7 225.8L313.6 224.6V227zM317.4 226.7L315.3 225.5V228zM319.1 227.5L317 226.3V228.8zM320.8 228.2L318.7 226.9V229.4zM322.5 228.6L320.4 227.4V229.8zM324.2 228.8L322.1 227.6V230zM325.9 228.8L323.8 227.6V230zM327.6 228.8L325.5 227.6V230zM329.3 228.7L327.2 227.5V229.9zM331 228.7L328.9 227.5V229.9zM332.7 228.7L330.6 227.5V229.9zM334.4 228.7L332.3 227.5V230zM336.1 228.7L334 227.5V230zM337.8 228.7L335.7 227.5V229.9zM339.5 228.7L337.4 227.5V229.9zM341.2 228.7L339.1 227.5V229.9z"/><rect x="197.40" y="143.80" width="144.80" height="109.70" fill="none" stroke="#333" stroke-width="1.25"/><text x="8.50" y="275.90" font-size="9.6" text-anchor="start" >E</text><line x1="26.50" y1="277.60" x2="28.50" y2="277.60" stroke="#303030" stroke-width="0.9"/><text x="23.10" y="279.70" font-size="6.3" text-anchor="end">10</text><text x="25.20" y="277.20" font-size="3.8" text-anchor="end">4</text><line x1="26.50" y1="299.28" x2="28.50" y2="299.28" stroke="#303030" stroke-width="0.9"/><text x="23.10" y="301.38" font-size="6.3" text-anchor="end">10</text><text x="25.20" y="298.88" font-size="3.8" text-anchor="end">3</text><line x1="26.50" y1="320.96" x2="28.50" y2="320.96" stroke="#303030" stroke-width="0.9"/><text x="23.10" y="323.06" font-size="6.3" text-anchor="end">10</text><text x="25.20" y="320.56" font-size="3.8" text-anchor="end">2</text><line x1="26.50" y1="342.64" x2="28.50" y2="342.64" stroke="#303030" stroke-width="0.9"/><text x="23.10" y="344.74" font-size="6.3" text-anchor="end">10</text><text x="25.20" y="342.24" font-size="3.8" text-anchor="end">1</text><line x1="26.50" y1="364.32" x2="28.50" y2="364.32" stroke="#303030" stroke-width="0.9"/><text x="23.10" y="366.42" font-size="6.3" text-anchor="end">10</text><text x="25.20" y="363.92" font-size="3.8" text-anchor="end">0</text><line x1="26.50" y1="386.00" x2="28.50" y2="386.00" stroke="#303030" stroke-width="0.9"/><text x="21.50" y="388.10" font-size="6.3" text-anchor="end">10</text><text x="25.20" y="385.60" font-size="3.8" text-anchor="end">-1</text><line x1="27.40" y1="292.75" x2="28.50" y2="292.75" stroke="#303030" stroke-width="0.6"/><line x1="27.40" y1="288.94" x2="28.50" y2="288.94" stroke="#303030" stroke-width="0.6"/><line x1="27.40" y1="286.23" x2="28.50" y2="286.23" stroke="#303030" stroke-width="0.6"/><line x1="27.40" y1="284.13" x2="28.50" y2="284.13" stroke="#303030" stroke-width="0.6"/><line x1="27.40" y1="282.41" x2="28.50" y2="282.41" stroke="#303030" stroke-width="0.6"/><line x1="27.40" y1="280.96" x2="28.50" y2="280.96" stroke="#303030" stroke-width="0.6"/><line x1="27.40" y1="279.70" x2="28.50" y2="279.70" stroke="#303030" stroke-width="0.6"/><line x1="27.40" y1="278.59" x2="28.50" y2="278.59" stroke="#303030" stroke-width="0.6"/><line x1="27.40" y1="314.43" x2="28.50" y2="314.43" stroke="#303030" stroke-width="0.6"/><line x1="27.40" y1="310.62" x2="28.50" y2="310.62" stroke="#303030" stroke-width="0.6"/><line x1="27.40" y1="307.91" x2="28.50" y2="307.91" stroke="#303030" stroke-width="0.6"/><line x1="27.40" y1="305.81" x2="28.50" y2="305.81" stroke="#303030" stroke-width="0.6"/><line x1="27.40" y1="304.09" x2="28.50" y2="304.09" stroke="#303030" stroke-width="0.6"/><line x1="27.40" y1="302.64" x2="28.50" y2="302.64" stroke="#303030" stroke-width="0.6"/><line x1="27.40" y1="301.38" x2="28.50" y2="301.38" stroke="#303030" stroke-width="0.6"/><line x1="27.40" y1="300.27" x2="28.50" y2="300.27" stroke="#303030" stroke-width="0.6"/><line x1="27.40" y1="336.11" x2="28.50" y2="336.11" stroke="#303030" stroke-width="0.6"/><line x1="27.40" y1="332.30" x2="28.50" y2="332.30" stroke="#303030" stroke-width="0.6"/><line x1="27.40" y1="329.59" x2="28.50" y2="329.59" stroke="#303030" stroke-width="0.6"/><line x1="27.40" y1="327.49" x2="28.50" y2="327.49" stroke="#303030" stroke-width="0.6"/><line x1="27.40" y1="325.77" x2="28.50" y2="325.77" stroke="#303030" stroke-width="0.6"/><line x1="27.40" y1="324.32" x2="28.50" y2="324.32" stroke="#303030" stroke-width="0.6"/><line x1="27.40" y1="323.06" x2="28.50" y2="323.06" stroke="#303030" stroke-width="0.6"/><line x1="27.40" y1="321.95" x2="28.50" y2="321.95" stroke="#303030" stroke-width="0.6"/><line x1="27.40" y1="357.79" x2="28.50" y2="357.79" stroke="#303030" stroke-width="0.6"/><line x1="27.40" y1="353.98" x2="28.50" y2="353.98" stroke="#303030" stroke-width="0.6"/><line x1="27.40" y1="351.27" x2="28.50" y2="351.27" stroke="#303030" stroke-width="0.6"/><line x1="27.40" y1="349.17" x2="28.50" y2="349.17" stroke="#303030" stroke-width="0.6"/><line x1="27.40" y1="347.45" x2="28.50" y2="347.45" stroke="#303030" stroke-width="0.6"/><line x1="27.40" y1="346.00" x2="28.50" y2="346.00" stroke="#303030" stroke-width="0.6"/><line x1="27.40" y1="344.74" x2="28.50" y2="344.74" stroke="#303030" stroke-width="0.6"/><line x1="27.40" y1="343.63" x2="28.50" y2="343.63" stroke="#303030" stroke-width="0.6"/><line x1="27.40" y1="379.47" x2="28.50" y2="379.47" stroke="#303030" stroke-width="0.6"/><line x1="27.40" y1="375.66" x2="28.50" y2="375.66" stroke="#303030" stroke-width="0.6"/><line x1="27.40" y1="372.95" x2="28.50" y2="372.95" stroke="#303030" stroke-width="0.6"/><line x1="27.40" y1="370.85" x2="28.50" y2="370.85" stroke="#303030" stroke-width="0.6"/><line x1="27.40" y1="369.13" x2="28.50" y2="369.13" stroke="#303030" stroke-width="0.6"/><line x1="27.40" y1="367.68" x2="28.50" y2="367.68" stroke="#303030" stroke-width="0.6"/><line x1="27.40" y1="366.42" x2="28.50" y2="366.42" stroke="#303030" stroke-width="0.6"/><line x1="27.40" y1="365.31" x2="28.50" y2="365.31" stroke="#303030" stroke-width="0.6"/><line x1="30.40" y1="386.00" x2="30.40" y2="388.20" stroke="#303030" stroke-width="0.8"/><text x="30.40" y="394.60" font-size="6.3" text-anchor="middle" >90</text><line x1="51.75" y1="386.00" x2="51.75" y2="388.20" stroke="#303030" stroke-width="0.8"/><text x="51.75" y="394.60" font-size="6.3" text-anchor="middle" >80</text><line x1="73.10" y1="386.00" x2="73.10" y2="388.20" stroke="#303030" stroke-width="0.8"/><text x="73.10" y="394.60" font-size="6.3" text-anchor="middle" >70</text><line x1="94.45" y1="386.00" x2="94.45" y2="388.20" stroke="#303030" stroke-width="0.8"/><text x="94.45" y="394.60" font-size="6.3" text-anchor="middle" >60</text><line x1="115.80" y1="386.00" x2="115.80" y2="388.20" stroke="#303030" stroke-width="0.8"/><text x="115.80" y="394.60" font-size="6.3" text-anchor="middle" >50</text><line x1="137.15" y1="386.00" x2="137.15" y2="388.20" stroke="#303030" stroke-width="0.8"/><text x="137.15" y="394.60" font-size="6.3" text-anchor="middle" >40</text><line x1="158.50" y1="386.00" x2="158.50" y2="388.20" stroke="#303030" stroke-width="0.8"/><text x="158.50" y="394.60" font-size="6.3" text-anchor="middle" >30</text><line x1="41.07" y1="386.00" x2="41.07" y2="387.20" stroke="#303030" stroke-width="0.6"/><line x1="62.42" y1="386.00" x2="62.42" y2="387.20" stroke="#303030" stroke-width="0.6"/><line x1="83.77" y1="386.00" x2="83.77" y2="387.20" stroke="#303030" stroke-width="0.6"/><line x1="105.12" y1="386.00" x2="105.12" y2="387.20" stroke="#303030" stroke-width="0.6"/><line x1="126.47" y1="386.00" x2="126.47" y2="387.20" stroke="#303030" stroke-width="0.6"/><line x1="147.82" y1="386.00" x2="147.82" y2="387.20" stroke="#303030" stroke-width="0.6"/><line x1="169.17" y1="386.00" x2="169.17" y2="387.20" stroke="#303030" stroke-width="0.6"/><text x="70.20" y="406.80" font-size="8.7" textLength="59.2" lengthAdjust="spacingAndGlyphs">Temperature(&#176;C)</text><text x="0" y="0" font-size="8.7" textLength="79.1" lengthAdjust="spacingAndGlyphs" transform="translate(11.90,371.40) rotate(-90)">Storage modulus G'(Pa)</text><rect x="35.11" y="280.91" width="1.58" height="1.58" fill="#2a2a2a"/><text x="43.00" y="283.55" font-size="5.05" text-anchor="start" >WNPU/KC</text><circle cx="75.60" cy="281.70" r="1.04" fill="#ff1a1a"/><text x="82.70" y="283.55" font-size="5.05" text-anchor="start" >U-200W</text><polygon points="110.30,280.55 109.08,282.64 111.52,282.64" fill="#0a64e8"/><text x="117.40" y="283.55" font-size="5.05" text-anchor="start" >U-0W-TG</text><polygon points="35.90,289.15 34.68,287.06 37.12,287.06" fill="#00985a"/><text x="43.00" y="289.85" font-size="5.05" text-anchor="start" >U-100W-TG</text><polygon points="79.90,286.74 81.05,288.00 79.90,289.26 78.75,288.00" fill="#c04ae4"/><text x="87.00" y="289.85" font-size="5.05" text-anchor="start" >U-200W-TG</text><polygon points="122.55,288.00 124.64,286.78 124.64,289.22" fill="#eb9a1a"/><text x="130.80" y="289.85" font-size="5.05" text-anchor="start" >U-300W-TG</text><polygon points="37.05,294.40 34.96,293.18 34.96,295.62" fill="#14c4d4"/><text x="43.00" y="296.25" font-size="5.05" text-anchor="start" >U-400W-TG</text><polyline points="30.4,366.7 31.4,366.5 32.4,366.2 33.4,366.0 34.4,365.8 35.4,365.6 36.4,365.4 37.4,365.1 38.4,364.9 39.4,364.7 40.4,364.5 41.4,364.3 42.4,364.1 43.4,364.0 44.4,363.8 45.4,363.6 46.4,363.4 47.4,363.2 48.4,363.1 49.4,362.9 50.4,362.7 51.4,362.6 52.4,362.4 53.4,362.2 54.4,362.1 55.4,361.9 56.4,361.8 57.4,361.6 58.4,361.5 59.4,361.3 60.4,361.2 61.4,361.1 62.4,360.9 63.4,360.8 64.4,360.7 65.4,360.5 66.4,360.4 67.4,360.3 68.4,360.2 69.4,360.0 70.4,359.9 71.4,359.8 72.4,359.7 73.4,359.6 74.4,359.5 75.4,359.3 76.4,359.2 77.4,359.1 78.4,359.0 79.4,358.9 80.4,358.8 81.4,358.7 82.4,358.6 83.4,358.5 84.4,358.4 85.4,358.3 86.4,358.2 87.4,358.1 88.4,358.0 89.4,358.0 90.4,357.9 91.4,357.8 92.4,357.7 93.4,357.6 94.4,357.5 95.4,357.4 96.4,357.3 97.4,357.3 98.4,357.2 99.4,357.1 100.4,357.0 101.4,356.9 102.4,356.8 103.4,356.8 104.4,356.7 105.4,356.6 106.4,356.5 107.4,356.4 108.4,356.3 109.4,356.3 110.4,356.2 111.4,356.1 112.4,356.0 113.4,355.9 114.4,355.9 115.4,355.8 116.4,355.7 117.4,355.6 118.4,355.5 119.4,355.4 120.4,355.4 121.4,355.3 122.4,355.2 123.4,355.1 124.4,355.0 125.4,354.9 126.4,354.8 127.4,354.8 128.4,354.7 129.4,354.6 130.4,354.5 131.4,354.4 132.4,354.3 133.4,354.2 134.4,354.1 135.4,354.0 136.4,353.9 137.4,353.8 138.4,353.7 139.4,353.6 140.4,353.5 141.4,353.4 142.4,353.3 143.4,353.2 144.4,353.1 145.4,353.0 146.4,352.8 147.4,352.7 148.4,352.6 149.4,352.5 150.4,352.4 151.4,352.3 152.4,352.1 153.4,352.0 154.4,351.9 155.4,351.7 156.4,351.6 157.4,351.5 158.4,351.3 159.4,351.2 160.4,351.0 161.4,350.9 162.4,350.8 163.4,350.6 164.4,350.4 165.4,350.3 166.4,350.1 167.4,350.0 168.4,349.8 169.4,349.6 170.4,349.5 170.5,349.4" fill="none" stroke="#2a2a2a" stroke-width="0.9" stroke-linejoin="round" opacity="1.0"/><path fill="#2a2a2a" d="M29.6 365.9h1.6v1.6h-1.6zM31.3 365.5h1.6v1.6h-1.6zM33 365.1h1.6v1.6h-1.6zM34.7 364.8h1.6v1.6h-1.6zM36.4 364.4h1.6v1.6h-1.6zM38.1 364h1.6v1.6h-1.6zM39.8 363.7h1.6v1.6h-1.6zM41.5 363.4h1.6v1.6h-1.6zM43.2 363.1h1.6v1.6h-1.6zM44.9 362.7h1.6v1.6h-1.6zM46.6 362.4h1.6v1.6h-1.6zM48.3 362.1h1.6v1.6h-1.6zM50 361.9h1.6v1.6h-1.6zM51.7 361.6h1.6v1.6h-1.6zM53.4 361.3h1.6v1.6h-1.6zM55.1 361.1h1.6v1.6h-1.6zM56.8 360.8h1.6v1.6h-1.6zM58.5 360.6h1.6v1.6h-1.6zM60.2 360.3h1.6v1.6h-1.6zM61.9 360.1h1.6v1.6h-1.6zM63.6 359.9h1.6v1.6h-1.6zM65.3 359.6h1.6v1.6h-1.6zM67 359.4h1.6v1.6h-1.6zM68.7 359.2h1.6v1.6h-1.6zM70.4 359h1.6v1.6h-1.6zM72.1 358.8h1.6v1.6h-1.6zM73.8 358.6h1.6v1.6h-1.6zM75.5 358.5h1.6v1.6h-1.6zM77.2 358.3h1.6v1.6h-1.6zM78.9 358.1h1.6v1.6h-1.6zM80.6 357.9h1.6v1.6h-1.6zM82.3 357.8h1.6v1.6h-1.6zM84 357.6h1.6v1.6h-1.6zM85.7 357.4h1.6v1.6h-1.6zM87.4 357.3h1.6v1.6h-1.6zM89.1 357.1h1.6v1.6h-1.6zM90.8 357h1.6v1.6h-1.6zM92.5 356.8h1.6v1.6h-1.6zM94.2 356.7h1.6v1.6h-1.6zM95.9 356.5h1.6v1.6h-1.6zM97.6 356.4h1.6v1.6h-1.6zM99.3 356.2h1.6v1.6h-1.6zM101 356.1h1.6v1.6h-1.6zM102.7 356h1.6v1.6h-1.6zM104.4 355.8h1.6v1.6h-1.6zM106.1 355.7h1.6v1.6h-1.6zM107.8 355.5h1.6v1.6h-1.6zM109.5 355.4h1.6v1.6h-1.6zM111.2 355.3h1.6v1.6h-1.6zM112.9 355.1h1.6v1.6h-1.6zM114.6 355h1.6v1.6h-1.6zM116.3 354.8h1.6v1.6h-1.6zM118 354.7h1.6v1.6h-1.6zM119.7 354.6h1.6v1.6h-1.6zM121.4 354.4h1.6v1.6h-1.6zM123.1 354.3h1.6v1.6h-1.6zM124.8 354.1h1.6v1.6h-1.6zM126.5 354h1.6v1.6h-1.6zM128.2 353.8h1.6v1.6h-1.6zM129.9 353.7h1.6v1.6h-1.6zM131.6 353.5h1.6v1.6h-1.6zM133.3 353.3h1.6v1.6h-1.6zM135 353.2h1.6v1.6h-1.6zM136.7 353h1.6v1.6h-1.6zM138.4 352.8h1.6v1.6h-1.6zM140.1 352.7h1.6v1.6h-1.6zM141.8 352.5h1.6v1.6h-1.6zM143.5 352.3h1.6v1.6h-1.6zM145.2 352.1h1.6v1.6h-1.6zM146.9 351.9h1.6v1.6h-1.6zM148.6 351.7h1.6v1.6h-1.6zM150.3 351.5h1.6v1.6h-1.6zM152 351.3h1.6v1.6h-1.6zM153.7 351.1h1.6v1.6h-1.6zM155.4 350.8h1.6v1.6h-1.6zM157.1 350.6h1.6v1.6h-1.6zM158.8 350.4h1.6v1.6h-1.6zM160.5 350.1h1.6v1.6h-1.6zM162.2 349.9h1.6v1.6h-1.6zM163.9 349.6h1.6v1.6h-1.6zM165.6 349.3h1.6v1.6h-1.6zM167.3 349.1h1.6v1.6h-1.6zM169 348.8h1.6v1.6h-1.6z"/><polyline points="30.4,365.3 31.4,365.1 32.4,364.9 33.4,364.7 34.4,364.5 35.4,364.3 36.4,364.0 37.4,363.8 38.4,363.6 39.4,363.4 40.4,363.1 41.4,362.9 42.4,362.7 43.4,362.4 44.4,362.2 45.4,361.9 46.4,361.7 47.4,361.4 48.4,361.2 49.4,360.9 50.4,360.7 51.4,360.4 52.4,360.2 53.4,359.9 54.4,359.6 55.4,359.4 56.4,359.1 57.4,358.8 58.4,358.6 59.4,358.3 60.4,358.0 61.4,357.8 62.4,357.5 63.4,357.2 64.4,356.9 65.4,356.6 66.4,356.4 67.4,356.1 68.4,355.8 69.4,355.5 70.4,355.2 71.4,354.9 72.4,354.7 73.4,354.4 74.4,354.1 75.4,353.8 76.4,353.5 77.4,353.2 78.4,352.9 79.4,352.6 80.4,352.3 81.4,352.1 82.4,351.8 83.4,351.5 84.4,351.2 85.4,350.9 86.4,350.6 87.4,350.3 88.4,350.0 89.4,349.7 90.4,349.4 91.4,349.1 92.4,348.8 93.4,348.5 94.4,348.2 95.4,347.9 96.4,347.7 97.4,347.4 98.4,347.1 99.4,346.8 100.4,346.5 101.4,346.2 102.4,345.9 103.4,345.6 104.4,345.3 105.4,345.0 106.4,344.8 107.4,344.5 108.4,344.2 109.4,343.9 110.4,343.6 111.4,343.3 112.4,343.1 113.4,342.8 114.4,342.5 115.4,342.2 116.4,341.9 117.4,341.7 118.4,341.4 119.4,341.1 120.4,340.9 121.4,340.6 122.4,340.3 123.4,340.1 124.4,339.8 125.4,339.5 126.4,339.3 127.4,339.0 128.4,338.8 129.4,338.5 130.4,338.2 131.4,338.0 132.4,337.7 133.4,337.5 134.4,337.3 135.4,337.0 136.4,336.8 137.4,336.5 138.4,336.3 139.4,336.1 140.4,335.9 141.4,335.6 142.4,335.4 143.4,335.2 144.4,335.0 145.4,334.7 146.4,334.5 147.4,334.3 148.4,334.1 149.4,333.9 150.4,333.7 151.4,333.5 152.4,333.3 153.4,333.1 154.4,332.9 155.4,332.8 156.4,332.6 157.4,332.4 158.4,332.2 159.4,332.1 160.4,331.9 161.4,331.7 162.4,331.6 163.4,331.4 164.4,331.2 165.4,331.1 166.4,331.0 167.4,330.8 168.4,330.7 169.4,330.5 170.4,330.4 170.5,330.4" fill="none" stroke="#ff1a1a" stroke-width="0.9" stroke-linejoin="round" opacity="1.0"/><path fill="#ff1a1a" d="M29.4 365.3a1 1 0 1 0 2.1 0a1 1 0 1 0 -2.1 0zM31.1 365a1 1 0 1 0 2.1 0a1 1 0 1 0 -2.1 0zM32.8 364.6a1 1 0 1 0 2.1 0a1 1 0 1 0 -2.1 0zM34.5 364.2a1 1 0 1 0 2.1 0a1 1 0 1 0 -2.1 0zM36.2 363.9a1 1 0 1 0 2.1 0a1 1 0 1 0 -2.1 0zM37.9 363.5a1 1 0 1 0 2.1 0a1 1 0 1 0 -2.1 0zM39.6 363.1a1 1 0 1 0 2.1 0a1 1 0 1 0 -2.1 0zM41.3 362.7a1 1 0 1 0 2.1 0a1 1 0 1 0 -2.1 0zM43 362.3a1 1 0 1 0 2.1 0a1 1 0 1 0 -2.1 0zM44.7 361.9a1 1 0 1 0 2.1 0a1 1 0 1 0 -2.1 0zM46.4 361.4a1 1 0 1 0 2.1 0a1 1 0 1 0 -2.1 0zM48.1 361a1 1 0 1 0 2.1 0a1 1 0 1 0 -2.1 0zM49.8 360.6a1 1 0 1 0 2.1 0a1 1 0 1 0 -2.1 0zM51.5 360.1a1 1 0 1 0 2.1 0a1 1 0 1 0 -2.1 0zM53.2 359.7a1 1 0 1 0 2.1 0a1 1 0 1 0 -2.1 0zM54.9 359.2a1 1 0 1 0 2.1 0a1 1 0 1 0 -2.1 0zM56.6 358.8a1 1 0 1 0 2.1 0a1 1 0 1 0 -2.1 0zM58.3 358.3a1 1 0 1 0 2.1 0a1 1 0 1 0 -2.1 0zM60 357.9a1 1 0 1 0 2.1 0a1 1 0 1 0 -2.1 0zM61.7 357.4a1 1 0 1 0 2.1 0a1 1 0 1 0 -2.1 0zM63.4 356.9a1 1 0 1 0 2.1 0a1 1 0 1 0 -2.1 0zM65.1 356.4a1 1 0 1 0 2.1 0a1 1 0 1 0 -2.1 0zM66.8 356a1 1 0 1 0 2.1 0a1 1 0 1 0 -2.1 0zM68.5 355.5a1 1 0 1 0 2.1 0a1 1 0 1 0 -2.1 0zM70.2 355a1 1 0 1 0 2.1 0a1 1 0 1 0 -2.1 0zM71.9 354.5a1 1 0 1 0 2.1 0a1 1 0 1 0 -2.1 0zM73.6 354a1 1 0 1 0 2.1 0a1 1 0 1 0 -2.1 0zM75.3 353.5a1 1 0 1 0 2.1 0a1 1 0 1 0 -2.1 0zM77 353a1 1 0 1 0 2.1 0a1 1 0 1 0 -2.1 0zM78.7 352.5a1 1 0 1 0 2.1 0a1 1 0 1 0 -2.1 0zM80.4 352.1a1 1 0 1 0 2.1 0a1 1 0 1 0 -2.1 0zM82.1 351.6a1 1 0 1 0 2.1 0a1 1 0 1 0 -2.1 0zM83.8 351.1a1 1 0 1 0 2.1 0a1 1 0 1 0 -2.1 0zM85.5 350.6a1 1 0 1 0 2.1 0a1 1 0 1 0 -2.1 0zM87.2 350.1a1 1 0 1 0 2.1 0a1 1 0 1 0 -2.1 0zM88.9 349.6a1 1 0 1 0 2.1 0a1 1 0 1 0 -2.1 0zM90.6 349.1a1 1 0 1 0 2.1 0a1 1 0 1 0 -2.1 0zM92.3 348.6a1 1 0 1 0 2.1 0a1 1 0 1 0 -2.1 0zM94 348.1a1 1 0 1 0 2.1 0a1 1 0 1 0 -2.1 0zM95.7 347.6a1 1 0 1 0 2.1 0a1 1 0 1 0 -2.1 0zM97.4 347.1a1 1 0 1 0 2.1 0a1 1 0 1 0 -2.1 0zM99.1 346.6a1 1 0 1 0 2.1 0a1 1 0 1 0 -2.1 0zM100.8 346.1a1 1 0 1 0 2.1 0a1 1 0 1 0 -2.1 0zM102.5 345.6a1 1 0 1 0 2.1 0a1 1 0 1 0 -2.1 0zM104.2 345.1a1 1 0 1 0 2.1 0a1 1 0 1 0 -2.1 0zM105.9 344.6a1 1 0 1 0 2.1 0a1 1 0 1 0 -2.1 0zM107.6 344.1a1 1 0 1 0 2.1 0a1 1 0 1 0 -2.1 0zM109.3 343.6a1 1 0 1 0 2.1 0a1 1 0 1 0 -2.1 0zM111 343.2a1 1 0 1 0 2.1 0a1 1 0 1 0 -2.1 0zM112.7 342.7a1 1 0 1 0 2.1 0a1 1 0 1 0 -2.1 0zM114.4 342.2a1 1 0 1 0 2.1 0a1 1 0 1 0 -2.1 0zM116.1 341.7a1 1 0 1 0 2.1 0a1 1 0 1 0 -2.1 0zM117.8 341.3a1 1 0 1 0 2.1 0a1 1 0 1 0 -2.1 0zM119.5 340.8a1 1 0 1 0 2.1 0a1 1 0 1 0 -2.1 0zM121.2 340.4a1 1 0 1 0 2.1 0a1 1 0 1 0 -2.1 0zM122.9 339.9a1 1 0 1 0 2.1 0a1 1 0 1 0 -2.1 0zM124.6 339.5a1 1 0 1 0 2.1 0a1 1 0 1 0 -2.1 0zM126.3 339a1 1 0 1 0 2.1 0a1 1 0 1 0 -2.1 0zM128 338.6a1 1 0 1 0 2.1 0a1 1 0 1 0 -2.1 0zM129.7 338.2a1 1 0 1 0 2.1 0a1 1 0 1 0 -2.1 0zM131.4 337.7a1 1 0 1 0 2.1 0a1 1 0 1 0 -2.1 0zM133.1 337.3a1 1 0 1 0 2.1 0a1 1 0 1 0 -2.1 0zM134.8 336.9a1 1 0 1 0 2.1 0a1 1 0 1 0 -2.1 0zM136.5 336.5a1 1 0 1 0 2.1 0a1 1 0 1 0 -2.1 0zM138.2 336.1a1 1 0 1 0 2.1 0a1 1 0 1 0 -2.1 0zM139.9 335.7a1 1 0 1 0 2.1 0a1 1 0 1 0 -2.1 0zM141.6 335.4a1 1 0 1 0 2.1 0a1 1 0 1 0 -2.1 0zM143.3 335a1 1 0 1 0 2.1 0a1 1 0 1 0 -2.1 0zM145 334.6a1 1 0 1 0 2.1 0a1 1 0 1 0 -2.1 0zM146.7 334.3a1 1 0 1 0 2.1 0a1 1 0 1 0 -2.1 0zM148.4 333.9a1 1 0 1 0 2.1 0a1 1 0 1 0 -2.1 0zM150.1 333.6a1 1 0 1 0 2.1 0a1 1 0 1 0 -2.1 0zM151.8 333.2a1 1 0 1 0 2.1 0a1 1 0 1 0 -2.1 0zM153.5 332.9a1 1 0 1 0 2.1 0a1 1 0 1 0 -2.1 0zM155.2 332.6a1 1 0 1 0 2.1 0a1 1 0 1 0 -2.1 0zM156.9 332.3a1 1 0 1 0 2.1 0a1 1 0 1 0 -2.1 0zM158.6 332a1 1 0 1 0 2.1 0a1 1 0 1 0 -2.1 0zM160.3 331.7a1 1 0 1 0 2.1 0a1 1 0 1 0 -2.1 0zM162 331.5a1 1 0 1 0 2.1 0a1 1 0 1 0 -2.1 0zM163.7 331.2a1 1 0 1 0 2.1 0a1 1 0 1 0 -2.1 0zM165.4 331a1 1 0 1 0 2.1 0a1 1 0 1 0 -2.1 0zM167.1 330.7a1 1 0 1 0 2.1 0a1 1 0 1 0 -2.1 0zM168.8 330.5a1 1 0 1 0 2.1 0a1 1 0 1 0 -2.1 0z"/><polyline points="30.4,357.1 31.4,356.9 32.4,356.6 33.4,356.3 34.4,356.0 35.4,355.8 36.4,355.5 37.4,355.3 38.4,355.0 39.4,354.7 40.4,354.5 41.4,354.2 42.4,353.9 43.4,353.7 44.4,353.4 45.4,353.2 46.4,352.9 47.4,352.7 48.4,352.4 49.4,352.1 50.4,351.9 51.4,351.6 52.4,351.4 53.4,351.1 54.4,350.9 55.4,350.6 56.4,350.4 57.4,350.1 58.4,349.9 59.4,349.6 60.4,349.4 61.4,349.2 62.4,348.9 63.4,348.7 64.4,348.4 65.4,348.2 66.4,347.9 67.4,347.7 68.4,347.5 69.4,347.2 70.4,347.0 71.4,346.7 72.4,346.5 73.4,346.3 74.4,346.0 75.4,345.8 76.4,345.6 77.4,345.3 78.4,345.1 79.4,344.9 80.4,344.6 81.4,344.4 82.4,344.2 83.4,343.9 84.4,343.7 85.4,343.5 86.4,343.3 87.4,343.0 88.4,342.8 89.4,342.6 90.4,342.3 91.4,342.1 92.4,341.9 93.4,341.7 94.4,341.4 95.4,341.2 96.4,341.0 97.4,340.8 98.4,340.6 99.4,340.3 100.4,340.1 101.4,339.9 102.4,339.7 103.4,339.5 104.4,339.2 105.4,339.0 106.4,338.8 107.4,338.6 108.4,338.4 109.4,338.1 110.4,337.9 111.4,337.7 112.4,337.5 113.4,337.3 114.4,337.1 115.4,336.9 116.4,336.6 117.4,336.4 118.4,336.2 119.4,336.0 120.4,335.8 121.4,335.6 122.4,335.4 123.4,335.2 124.4,335.0 125.4,334.7 126.4,334.5 127.4,334.3 128.4,334.1 129.4,333.9 130.4,333.7 131.4,333.5 132.4,333.3 133.4,333.1 134.4,332.9 135.4,332.7 136.4,332.5 137.4,332.3 138.4,332.1 139.4,331.8 140.4,331.6 141.4,331.4 142.4,331.2 143.4,331.0 144.4,330.8 145.4,330.6 146.4,330.4 147.4,330.2 148.4,330.0 149.4,329.8 150.4,329.6 151.4,329.4 152.4,329.2 153.4,329.0 154.4,328.8 155.4,328.6 156.4,328.4 157.4,328.2 158.4,328.0 159.4,327.8 160.4,327.6 161.4,327.4 162.4,327.2 163.4,327.0 164.4,326.8 165.4,326.6 166.4,326.4 167.4,326.2 168.4,326.0 169.4,325.8 170.4,325.6 170.5,325.6" fill="none" stroke="#0a64e8" stroke-width="0.9" stroke-linejoin="round" opacity="1.0"/><path fill="#0a64e8" d="M30.4 356L29.2 358.1H31.6zM32.1 355.5L30.9 357.6H33.3zM33.8 355.1L32.6 357.1H35zM35.5 354.6L34.3 356.7H36.7zM37.2 354.2L36 356.2H38.4zM38.9 353.7L37.7 355.8H40.1zM40.6 353.3L39.4 355.3H41.8zM42.3 352.8L41.1 354.9H43.5zM44 352.4L42.8 354.5H45.2zM45.7 351.9L44.5 354H46.9zM47.4 351.5L46.2 353.6H48.6zM49.1 351.1L47.9 353.2H50.3zM50.8 350.6L49.6 352.7H52zM52.5 350.2L51.3 352.3H53.7zM54.2 349.8L53 351.9H55.4zM55.9 349.4L54.7 351.4H57.1zM57.6 348.9L56.4 351H58.8zM59.3 348.5L58.1 350.6H60.5zM61 348.1L59.8 350.2H62.2zM62.7 347.7L61.5 349.8H63.9zM64.4 347.3L63.2 349.4H65.6zM66.1 346.9L64.9 348.9H67.3zM67.8 346.5L66.6 348.5H69zM69.5 346L68.3 348.1H70.7zM71.2 345.6L70 347.7H72.4zM72.9 345.2L71.7 347.3H74.1zM74.6 344.8L73.4 346.9H75.8zM76.3 344.4L75.1 346.5H77.5zM78 344L76.8 346.1H79.2zM79.7 343.6L78.5 345.7H80.9zM81.4 343.2L80.2 345.3H82.6zM83.1 342.9L81.9 344.9H84.3zM84.8 342.5L83.6 344.6H86zM86.5 342.1L85.3 344.2H87.7zM88.2 341.7L87 343.8H89.4zM89.9 341.3L88.7 343.4H91.1zM91.6 340.9L90.4 343H92.8zM93.3 340.5L92.1 342.6H94.5zM95 340.2L93.8 342.2H96.2zM96.7 339.8L95.5 341.9H97.9zM98.4 339.4L97.2 341.5H99.6zM100.1 339L98.9 341.1H101.3zM101.8 338.7L100.6 340.7H103zM103.5 338.3L102.3 340.4H104.7zM105.2 337.9L104 340H106.4zM106.9 337.5L105.7 339.6H108.1zM108.6 337.2L107.4 339.3H109.8zM110.3 336.8L109.1 338.9H111.5zM112 336.4L110.8 338.5H113.2zM113.7 336.1L112.5 338.2H114.9zM115.4 335.7L114.2 337.8H116.6zM117.1 335.3L115.9 337.4H118.3zM118.8 335L117.6 337.1H120zM120.5 334.6L119.3 336.7H121.7zM122.2 334.3L121 336.4H123.4zM123.9 333.9L122.7 336H125.1zM125.6 333.6L124.4 335.6H126.8zM127.3 333.2L126.1 335.3H128.5zM129 332.8L127.8 334.9H130.2zM130.7 332.5L129.5 334.6H131.9zM132.4 332.1L131.2 334.2H133.6zM134.1 331.8L132.9 333.9H135.3zM135.8 331.4L134.6 333.5H137zM137.5 331.1L136.3 333.2H138.7zM139.2 330.7L138 332.8H140.4zM140.9 330.4L139.7 332.5H142.1zM142.6 330L141.4 332.1H143.8zM144.3 329.7L143.1 331.8H145.5zM146 329.3L144.8 331.4H147.2zM147.7 329L146.5 331.1H148.9zM149.4 328.7L148.2 330.7H150.6zM151.1 328.3L149.9 330.4H152.3zM152.8 328L151.6 330.1H154zM154.5 327.6L153.3 329.7H155.7zM156.2 327.3L155 329.4H157.4zM157.9 326.9L156.7 329H159.1zM159.6 326.6L158.4 328.7H160.8zM161.3 326.3L160.1 328.4H162.5zM163 325.9L161.8 328H164.2zM164.7 325.6L163.5 327.7H165.9zM166.4 325.2L165.2 327.3H167.6zM168.1 324.9L166.9 327H169.3zM169.8 324.6L168.6 326.7H171z"/><polyline points="30.4,351.3 31.4,351.0 32.4,350.8 33.4,350.5 34.4,350.3 35.4,350.0 36.4,349.8 37.4,349.6 38.4,349.3 39.4,349.1 40.4,348.9 41.4,348.7 42.4,348.4 43.4,348.2 44.4,348.0 45.4,347.8 46.4,347.6 47.4,347.4 48.4,347.2 49.4,347.0 50.4,346.8 51.4,346.6 52.4,346.4 53.4,346.2 54.4,346.0 55.4,345.8 56.4,345.6 57.4,345.4 58.4,345.2 59.4,345.0 60.4,344.8 61.4,344.6 62.4,344.5 63.4,344.3 64.4,344.1 65.4,343.9 66.4,343.7 67.4,343.6 68.4,343.4 69.4,343.2 70.4,343.0 71.4,342.9 72.4,342.7 73.4,342.5 74.4,342.3 75.4,342.2 76.4,342.0 77.4,341.8 78.4,341.7 79.4,341.5 80.4,341.3 81.4,341.1 82.4,341.0 83.4,340.8 84.4,340.6 85.4,340.5 86.4,340.3 87.4,340.1 88.4,340.0 89.4,339.8 90.4,339.6 91.4,339.5 92.4,339.3 93.4,339.1 94.4,338.9 95.4,338.8 96.4,338.6 97.4,338.4 98.4,338.3 99.4,338.1 100.4,337.9 101.4,337.7 102.4,337.6 103.4,337.4 104.4,337.2 105.4,337.0 106.4,336.8 107.4,336.7 108.4,336.5 109.4,336.3 110.4,336.1 111.4,335.9 112.4,335.7 113.4,335.5 114.4,335.4 115.4,335.2 116.4,335.0 117.4,334.8 118.4,334.6 119.4,334.4 120.4,334.2 121.4,334.0 122.4,333.8 123.4,333.5 124.4,333.3 125.4,333.1 126.4,332.9 127.4,332.7 128.4,332.5 129.4,332.3 130.4,332.0 131.4,331.8 132.4,331.6 133.4,331.3 134.4,331.1 135.4,330.9 136.4,330.6 137.4,330.4 138.4,330.1 139.4,329.9 140.4,329.6 141.4,329.4 142.4,329.1 143.4,328.9 144.4,328.6 145.4,328.3 146.4,328.1 147.4,327.8 148.4,327.5 149.4,327.2 150.4,326.9 151.4,326.6 152.4,326.3 153.4,326.1 154.4,325.8 155.4,325.4 156.4,325.1 157.4,324.8 158.4,324.5 159.4,324.2 160.4,323.9 161.4,323.5 162.4,323.2 163.4,322.9 164.4,322.5 165.4,322.2 166.4,321.8 167.4,321.5 168.4,321.1 169.4,320.7 170.4,320.4 170.5,320.3" fill="none" stroke="#00985a" stroke-width="0.9" stroke-linejoin="round" opacity="1.0"/><path fill="#00985a" d="M30.4 352.4L29.2 350.3H31.6zM32.1 352L30.9 349.9H33.3zM33.8 351.6L32.6 349.5H35zM35.5 351.2L34.3 349.1H36.7zM37.2 350.8L36 348.7H38.4zM38.9 350.4L37.7 348.3H40.1zM40.6 350L39.4 347.9H41.8zM42.3 349.6L41.1 347.5H43.5zM44 349.2L42.8 347.2H45.2zM45.7 348.9L44.5 346.8H46.9zM47.4 348.5L46.2 346.4H48.6zM49.1 348.2L47.9 346.1H50.3zM50.8 347.8L49.6 345.7H52zM52.5 347.5L51.3 345.4H53.7zM54.2 347.2L53 345.1H55.4zM55.9 346.8L54.7 344.7H57.1zM57.6 346.5L56.4 344.4H58.8zM59.3 346.2L58.1 344.1H60.5zM61 345.9L59.8 343.8H62.2zM62.7 345.5L61.5 343.5H63.9zM64.4 345.2L63.2 343.2H65.6zM66.1 344.9L64.9 342.8H67.3zM67.8 344.6L66.6 342.5H69zM69.5 344.3L68.3 342.2H70.7zM71.2 344L70 342H72.4zM72.9 343.7L71.7 341.7H74.1zM74.6 343.5L73.4 341.4H75.8zM76.3 343.2L75.1 341.1H77.5zM78 342.9L76.8 340.8H79.2zM79.7 342.6L78.5 340.5H80.9zM81.4 342.3L80.2 340.2H82.6zM83.1 342L81.9 339.9H84.3zM84.8 341.7L83.6 339.6H86zM86.5 341.4L85.3 339.3H87.7zM88.2 341.2L87 339.1H89.4zM89.9 340.9L88.7 338.8H91.1zM91.6 340.6L90.4 338.5H92.8zM93.3 340.3L92.1 338.2H94.5zM95 340L93.8 337.9H96.2zM96.7 339.7L95.5 337.6H97.9zM98.4 339.4L97.2 337.3H99.6zM100.1 339.1L98.9 337H101.3zM101.8 338.8L100.6 336.7H103zM103.5 338.5L102.3 336.4H104.7zM105.2 338.2L104 336.1H106.4zM106.9 337.9L105.7 335.8H108.1zM108.6 337.6L107.4 335.5H109.8zM110.3 337.3L109.1 335.2H111.5zM112 337L110.8 334.9H113.2zM113.7 336.6L112.5 334.6H114.9zM115.4 336.3L114.2 334.2H116.6zM117.1 336L115.9 333.9H118.3zM118.8 335.6L117.6 333.6H120zM120.5 335.3L119.3 333.2H121.7zM122.2 334.9L121 332.9H123.4zM123.9 334.6L122.7 332.5H125.1zM125.6 334.2L124.4 332.1H126.8zM127.3 333.9L126.1 331.8H128.5zM129 333.5L127.8 331.4H130.2zM130.7 333.1L129.5 331H131.9zM132.4 332.7L131.2 330.6H133.6zM134.1 332.3L132.9 330.2H135.3zM135.8 331.9L134.6 329.8H137zM137.5 331.5L136.3 329.4H138.7zM139.2 331.1L138 329H140.4zM140.9 330.7L139.7 328.6H142.1zM142.6 330.2L141.4 328.1H143.8zM144.3 329.8L143.1 327.7H145.5zM146 329.3L144.8 327.2H147.2zM147.7 328.8L146.5 326.8H148.9zM149.4 328.4L148.2 326.3H150.6zM151.1 327.9L149.9 325.8H152.3zM152.8 327.4L151.6 325.3H154zM154.5 326.9L153.3 324.8H155.7zM156.2 326.4L155 324.3H157.4zM157.9 325.8L156.7 323.7H159.1zM159.6 325.3L158.4 323.2H160.8zM161.3 324.7L160.1 322.6H162.5zM163 324.2L161.8 322.1H164.2zM164.7 323.6L163.5 321.5H165.9zM166.4 323L165.2 320.9H167.6zM168.1 322.4L166.9 320.3H169.3zM169.8 321.8L168.6 319.7H171z"/><polyline points="30.4,340.3 31.0,340.2 31.7,340.0 32.5,339.8 33.3,339.5 34.3,339.3 35.3,339.0 36.4,338.7 37.6,338.4 38.7,338.1 39.9,337.8 41.1,337.5 42.3,337.2 43.5,336.9 44.7,336.6 45.8,336.3 47.0,336.1 48.0,335.8 49.0,335.6 50.0,335.3 51.0,335.1 52.0,334.9 53.0,334.6 53.9,334.4 54.9,334.2 55.9,333.9 56.8,333.7 57.8,333.5 58.8,333.3 59.8,333.1 60.8,332.9 61.8,332.7 62.9,332.5 63.9,332.3 65.0,332.1 65.9,331.9 66.9,331.8 67.8,331.6 68.8,331.5 69.8,331.4 70.8,331.2 71.8,331.1 72.8,331.0 73.8,330.9 74.8,330.7 75.8,330.6 76.9,330.5 77.9,330.3 78.9,330.2 79.9,330.1 81.0,330.0 82.0,329.8 83.0,329.7 84.0,329.5 85.0,329.4 86.0,329.3 87.0,329.1 88.0,329.0 89.0,328.8 90.0,328.7 91.0,328.6 92.0,328.4 93.0,328.3 94.0,328.1 95.0,328.0 96.0,327.8 97.0,327.7 98.0,327.5 99.0,327.3 100.0,327.2 101.0,327.0 102.0,326.8 103.0,326.6 104.0,326.3 105.0,326.1 106.0,325.8 107.0,325.6 108.0,325.3 109.0,325.0 110.0,324.7 111.0,324.4 112.0,324.1 113.0,323.7 114.0,323.4 115.0,323.1 116.0,322.7 117.0,322.4 118.0,322.0 119.0,321.7 120.0,321.3 121.0,321.0 122.0,320.7 123.0,320.3 124.0,320.0 125.0,319.7 126.0,319.4 127.0,319.1 127.9,318.8 128.9,318.5 129.9,318.2 130.8,317.9 131.8,317.7 132.7,317.4 133.7,317.1 134.7,316.8 135.6,316.5 136.6,316.2 137.6,316.0 138.6,315.7 139.6,315.4 140.6,315.1 141.7,314.8 142.8,314.5 143.9,314.2 145.0,313.9 145.9,313.6 146.9,313.4 148.0,313.1 149.0,312.8 150.2,312.5 151.3,312.2 152.5,311.9 153.6,311.6 154.8,311.3 156.0,311.0 157.2,310.7 158.4,310.4 159.6,310.1 160.7,309.8 161.9,309.6 163.0,309.3 164.0,309.0 165.1,308.8 166.0,308.5 166.9,308.3 167.8,308.1 168.6,307.9 169.3,307.7 169.9,307.5 170.5,307.4" fill="none" stroke="#c04ae4" stroke-width="0.9" stroke-linejoin="round" opacity="1.0"/><path fill="#c04ae4" d="M30.4 339L31.6 340.3L30.4 341.6L29.2 340.3zM32.1 338.6L33.3 339.9L32.1 341.1L30.9 339.9zM33.8 338.2L35 339.4L33.8 340.7L32.6 339.4zM35.5 337.7L36.7 339L35.5 340.2L34.3 339zM37.2 337.3L38.4 338.5L37.2 339.8L36 338.5zM38.9 336.8L40.1 338.1L38.9 339.3L37.7 338.1zM40.6 336.4L41.8 337.6L40.6 338.9L39.4 337.6zM42.3 335.9L43.5 337.2L42.3 338.5L41.1 337.2zM44 335.5L45.2 336.8L44 338L42.8 336.8zM45.7 335.1L46.9 336.4L45.7 337.6L44.5 336.4zM47.4 334.7L48.6 335.9L47.4 337.2L46.2 335.9zM49.1 334.3L50.3 335.5L49.1 336.8L47.9 335.5zM50.8 333.9L52 335.1L50.8 336.4L49.6 335.1zM52.5 333.5L53.7 334.7L52.5 336L51.3 334.7zM54.2 333.1L55.4 334.3L54.2 335.6L53 334.3zM55.9 332.7L57.1 333.9L55.9 335.2L54.7 333.9zM57.6 332.3L58.8 333.6L57.6 334.8L56.4 333.6zM59.3 331.9L60.5 333.2L59.3 334.5L58.1 333.2zM61 331.6L62.2 332.8L61 334.1L59.8 332.8zM62.7 331.3L63.9 332.5L62.7 333.8L61.5 332.5zM64.4 330.9L65.6 332.2L64.4 333.5L63.2 332.2zM66.1 330.7L67.3 331.9L66.1 333.2L64.9 331.9zM67.8 330.4L69 331.7L67.8 332.9L66.6 331.7zM69.5 330.1L70.7 331.4L69.5 332.7L68.3 331.4zM71.2 329.9L72.4 331.2L71.2 332.4L70 331.2zM72.9 329.7L74.1 331L72.9 332.2L71.7 331zM74.6 329.5L75.8 330.8L74.6 332L73.4 330.8zM76.3 329.3L77.5 330.5L76.3 331.8L75.1 330.5zM78 329.1L79.2 330.3L78 331.6L76.8 330.3zM79.7 328.9L80.9 330.1L79.7 331.4L78.5 330.1zM81.4 328.6L82.6 329.9L81.4 331.2L80.2 329.9zM83.1 328.4L84.3 329.7L83.1 330.9L81.9 329.7zM84.8 328.2L86 329.4L84.8 330.7L83.6 329.4zM86.5 327.9L87.7 329.2L86.5 330.4L85.3 329.2zM88.2 327.7L89.4 328.9L88.2 330.2L87 328.9zM89.9 327.4L91.1 328.7L89.9 330L88.7 328.7zM91.6 327.2L92.8 328.5L91.6 329.7L90.4 328.5zM93.3 327L94.5 328.2L93.3 329.5L92.1 328.2zM95 326.7L96.2 328L95 329.2L93.8 328zM96.7 326.5L97.9 327.7L96.7 329L95.5 327.7zM98.4 326.2L99.6 327.4L98.4 328.7L97.2 327.4zM100.1 325.9L101.3 327.1L100.1 328.4L98.9 327.1zM101.8 325.5L103 326.8L101.8 328.1L100.6 326.8zM103.5 325.2L104.7 326.4L103.5 327.7L102.3 326.4zM105.2 324.8L106.4 326L105.2 327.3L104 326zM106.9 324.3L108.1 325.6L106.9 326.9L105.7 325.6zM108.6 323.9L109.8 325.1L108.6 326.4L107.4 325.1zM110.3 323.3L111.5 324.6L110.3 325.9L109.1 324.6zM112 322.8L113.2 324.1L112 325.3L110.8 324.1zM113.7 322.2L114.9 323.5L113.7 324.8L112.5 323.5zM115.4 321.7L116.6 322.9L115.4 324.2L114.2 322.9zM117.1 321.1L118.3 322.3L117.1 323.6L115.9 322.3zM118.8 320.5L120 321.7L118.8 323L117.6 321.7zM120.5 319.9L121.7 321.2L120.5 322.4L119.3 321.2zM122.2 319.3L123.4 320.6L122.2 321.9L121 320.6zM123.9 318.8L125.1 320L123.9 321.3L122.7 320zM125.6 318.3L126.8 319.5L125.6 320.8L124.4 319.5zM127.3 317.7L128.5 319L127.3 320.3L126.1 319zM129 317.2L130.2 318.5L129 319.7L127.8 318.5zM130.7 316.7L131.9 318L130.7 319.2L129.5 318zM132.4 316.2L133.6 317.5L132.4 318.7L131.2 317.5zM134.1 315.7L135.3 317L134.1 318.2L132.9 317zM135.8 315.2L137 316.5L135.8 317.7L134.6 316.5zM137.5 314.7L138.7 316L137.5 317.2L136.3 316zM139.2 314.2L140.4 315.5L139.2 316.8L138 315.5zM140.9 313.8L142.1 315L140.9 316.3L139.7 315zM142.6 313.3L143.8 314.6L142.6 315.8L141.4 314.6zM144.3 312.8L145.5 314.1L144.3 315.3L143.1 314.1zM146 312.4L147.2 313.6L146 314.9L144.8 313.6zM147.7 311.9L148.9 313.2L147.7 314.4L146.5 313.2zM149.4 311.5L150.6 312.7L149.4 314L148.2 312.7zM151.1 311L152.3 312.3L151.1 313.6L149.9 312.3zM152.8 310.6L154 311.9L152.8 313.1L151.6 311.9zM154.5 310.2L155.7 311.4L154.5 312.7L153.3 311.4zM156.2 309.7L157.4 311L156.2 312.3L155 311zM157.9 309.3L159.1 310.6L157.9 311.8L156.7 310.6zM159.6 308.9L160.8 310.1L159.6 311.4L158.4 310.1zM161.3 308.4L162.5 309.7L161.3 311L160.1 309.7zM163 308L164.2 309.3L163 310.5L161.8 309.3zM164.7 307.6L165.9 308.9L164.7 310.1L163.5 308.9zM166.4 307.2L167.6 308.4L166.4 309.7L165.2 308.4zM168.1 306.7L169.3 308L168.1 309.3L166.9 308zM169.8 306.3L171 307.6L169.8 308.8L168.6 307.6z"/><polyline points="30.4,354.5 31.4,354.3 32.4,354.1 33.4,353.9 34.4,353.7 35.4,353.5 36.4,353.3 37.4,353.1 38.4,352.9 39.4,352.7 40.4,352.5 41.4,352.3 42.4,352.1 43.4,351.9 44.4,351.7 45.4,351.5 46.4,351.3 47.4,351.1 48.4,350.9 49.4,350.7 50.4,350.5 51.4,350.3 52.4,350.2 53.4,350.0 54.4,349.8 55.4,349.6 56.4,349.4 57.4,349.2 58.4,349.1 59.4,348.9 60.4,348.7 61.4,348.5 62.4,348.3 63.4,348.2 64.4,348.0 65.4,347.8 66.4,347.6 67.4,347.4 68.4,347.3 69.4,347.1 70.4,346.9 71.4,346.7 72.4,346.6 73.4,346.4 74.4,346.2 75.4,346.1 76.4,345.9 77.4,345.7 78.4,345.5 79.4,345.4 80.4,345.2 81.4,345.0 82.4,344.9 83.4,344.7 84.4,344.5 85.4,344.3 86.4,344.2 87.4,344.0 88.4,343.8 89.4,343.7 90.4,343.5 91.4,343.3 92.4,343.1 93.4,343.0 94.4,342.8 95.4,342.6 96.4,342.5 97.4,342.3 98.4,342.1 99.4,342.0 100.4,341.8 101.4,341.6 102.4,341.4 103.4,341.3 104.4,341.1 105.4,340.9 106.4,340.8 107.4,340.6 108.4,340.4 109.4,340.2 110.4,340.1 111.4,339.9 112.4,339.7 113.4,339.5 114.4,339.4 115.4,339.2 116.4,339.0 117.4,338.8 118.4,338.6 119.4,338.5 120.4,338.3 121.4,338.1 122.4,337.9 123.4,337.7 124.4,337.6 125.4,337.4 126.4,337.2 127.4,337.0 128.4,336.8 129.4,336.6 130.4,336.4 131.4,336.3 132.4,336.1 133.4,335.9 134.4,335.7 135.4,335.5 136.4,335.3 137.4,335.1 138.4,334.9 139.4,334.7 140.4,334.5 141.4,334.3 142.4,334.1 143.4,333.9 144.4,333.7 145.4,333.5 146.4,333.3 147.4,333.1 148.4,332.9 149.4,332.7 150.4,332.5 151.4,332.3 152.4,332.0 153.4,331.8 154.4,331.6 155.4,331.4 156.4,331.2 157.4,331.0 158.4,330.7 159.4,330.5 160.4,330.3 161.4,330.1 162.4,329.8 163.4,329.6 164.4,329.4 165.4,329.1 166.4,328.9 167.4,328.7 168.4,328.4 169.4,328.2 170.4,327.9 170.5,327.9" fill="none" stroke="#eb9a1a" stroke-width="0.9" stroke-linejoin="round" opacity="1.0"/><path fill="#eb9a1a" d="M29.2 354.5L31.3 353.3V355.7zM30.9 354.1L33 352.9V355.4zM32.6 353.8L34.7 352.6V355zM34.3 353.4L36.4 352.2V354.7zM36 353.1L38.1 351.9V354.3zM37.7 352.8L39.8 351.5V354zM39.4 352.4L41.5 351.2V353.6zM41.1 352.1L43.2 350.9V353.3zM42.8 351.8L44.9 350.5V353zM44.5 351.4L46.6 350.2V352.6zM46.2 351.1L48.3 349.9V352.3zM47.9 350.8L50 349.5V352zM49.6 350.5L51.7 349.2V351.7zM51.3 350.1L53.4 348.9V351.4zM53 349.8L55.1 348.6V351zM54.7 349.5L56.8 348.3V350.7zM56.4 349.2L58.5 348V350.4zM58.1 348.9L60.2 347.7V350.1zM59.8 348.6L61.9 347.4V349.8zM61.5 348.3L63.6 347.1V349.5zM63.2 348L65.3 346.8V349.2zM64.9 347.7L67 346.5V348.9zM66.6 347.4L68.7 346.2V348.6zM68.3 347.1L70.4 345.9V348.3zM70 346.8L72.1 345.6V348zM71.7 346.5L73.8 345.3V347.7zM73.4 346.2L75.5 345V347.4zM75.1 345.9L77.2 344.7V347.1zM76.8 345.6L78.9 344.4V346.8zM78.5 345.3L80.6 344.1V346.5zM80.2 345L82.3 343.8V346.2zM81.9 344.7L84 343.5V346zM83.6 344.4L85.7 343.2V345.7zM85.3 344.2L87.4 342.9V345.4zM87 343.9L89.1 342.6V345.1zM88.7 343.6L90.8 342.4V344.8zM90.4 343.3L92.5 342.1V344.5zM92.1 343L94.2 341.8V344.2zM93.8 342.7L95.9 341.5V343.9zM95.5 342.4L97.6 341.2V343.6zM97.2 342.1L99.3 340.9V343.4zM98.9 341.8L101 340.6V343.1zM100.6 341.5L102.7 340.3V342.8zM102.3 341.3L104.4 340V342.5zM104 341L106.1 339.7V342.2zM105.7 340.7L107.8 339.4V341.9zM107.4 340.4L109.5 339.1V341.6zM109.1 340.1L111.2 338.9V341.3zM110.8 339.8L112.9 338.6V341zM112.5 339.5L114.6 338.3V340.7zM114.2 339.2L116.3 338V340.4zM115.9 338.9L118 337.7V340.1zM117.6 338.6L119.7 337.3V339.8zM119.3 338.3L121.4 337V339.5zM121 338L123.1 336.7V339.2zM122.7 337.6L124.8 336.4V338.9zM124.4 337.3L126.5 336.1V338.6zM126.1 337L128.2 335.8V338.2zM127.8 336.7L129.9 335.5V337.9zM129.5 336.4L131.6 335.2V337.6zM131.2 336.1L133.3 334.8V337.3zM132.9 335.7L135 334.5V337zM134.6 335.4L136.7 334.2V336.6zM136.3 335.1L138.4 333.9V336.3zM138 334.7L140.1 333.5V336zM139.7 334.4L141.8 333.2V335.6zM141.4 334.1L143.5 332.8V335.3zM143.1 333.7L145.2 332.5V335zM144.8 333.4L146.9 332.2V334.6zM146.5 333L148.6 331.8V334.3zM148.2 332.7L150.3 331.5V333.9zM149.9 332.3L152 331.1V333.5zM151.6 332L153.7 330.7V333.2zM153.3 331.6L155.4 330.4V332.8zM155 331.2L157.1 330V332.4zM156.7 330.8L158.8 329.6V332.1zM158.4 330.5L160.5 329.2V331.7zM160.1 330.1L162.2 328.9V331.3zM161.8 329.7L163.9 328.5V330.9zM163.5 329.3L165.6 328.1V330.5zM165.2 328.9L167.3 327.7V330.1zM166.9 328.5L169 327.3V329.7zM168.6 328.1L170.7 326.9V329.3z"/><polyline points="30.4,357.7 31.4,357.5 32.4,357.3 33.4,357.0 34.4,356.8 35.4,356.6 36.4,356.4 37.4,356.1 38.4,355.9 39.4,355.7 40.4,355.5 41.4,355.3 42.4,355.1 43.4,354.9 44.4,354.6 45.4,354.4 46.4,354.2 47.4,354.0 48.4,353.8 49.4,353.6 50.4,353.4 51.4,353.2 52.4,353.0 53.4,352.8 54.4,352.7 55.4,352.5 56.4,352.3 57.4,352.1 58.4,351.9 59.4,351.7 60.4,351.5 61.4,351.3 62.4,351.2 63.4,351.0 64.4,350.8 65.4,350.6 66.4,350.4 67.4,350.3 68.4,350.1 69.4,349.9 70.4,349.7 71.4,349.6 72.4,349.4 73.4,349.2 74.4,349.1 75.4,348.9 76.4,348.7 77.4,348.6 78.4,348.4 79.4,348.2 80.4,348.1 81.4,347.9 82.4,347.7 83.4,347.6 84.4,347.4 85.4,347.2 86.4,347.1 87.4,346.9 88.4,346.8 89.4,346.6 90.4,346.4 91.4,346.3 92.4,346.1 93.4,346.0 94.4,345.8 95.4,345.6 96.4,345.5 97.4,345.3 98.4,345.2 99.4,345.0 100.4,344.8 101.4,344.7 102.4,344.5 103.4,344.4 104.4,344.2 105.4,344.1 106.4,343.9 107.4,343.7 108.4,343.6 109.4,343.4 110.4,343.3 111.4,343.1 112.4,342.9 113.4,342.8 114.4,342.6 115.4,342.5 116.4,342.3 117.4,342.1 118.4,342.0 119.4,341.8 120.4,341.7 121.4,341.5 122.4,341.3 123.4,341.2 124.4,341.0 125.4,340.8 126.4,340.7 127.4,340.5 128.4,340.3 129.4,340.2 130.4,340.0 131.4,339.8 132.4,339.7 133.4,339.5 134.4,339.3 135.4,339.2 136.4,339.0 137.4,338.8 138.4,338.6 139.4,338.5 140.4,338.3 141.4,338.1 142.4,337.9 143.4,337.7 144.4,337.6 145.4,337.4 146.4,337.2 147.4,337.0 148.4,336.8 149.4,336.6 150.4,336.4 151.4,336.2 152.4,336.1 153.4,335.9 154.4,335.7 155.4,335.5 156.4,335.3 157.4,335.1 158.4,334.9 159.4,334.7 160.4,334.5 161.4,334.2 162.4,334.0 163.4,333.8 164.4,333.6 165.4,333.4 166.4,333.2 167.4,333.0 168.4,332.7 169.4,332.5 170.4,332.3 170.5,332.3" fill="none" stroke="#14c4d4" stroke-width="0.9" stroke-linejoin="round" opacity="1.0"/><path fill="#14c4d4" d="M31.6 357.7L29.5 356.5V359zM33.3 357.3L31.2 356.1V358.6zM35 357L32.9 355.7V358.2zM36.7 356.6L34.6 355.3V357.8zM38.4 356.2L36.3 355V357.4zM40.1 355.8L38 354.6V357zM41.8 355.5L39.7 354.2V356.7zM43.5 355.1L41.4 353.9V356.3zM45.2 354.7L43.1 353.5V356zM46.9 354.4L44.8 353.2V355.6zM48.6 354L46.5 352.8V355.3zM50.3 353.7L48.2 352.5V354.9zM52 353.4L49.9 352.1V354.6zM53.7 353L51.6 351.8V354.2zM55.4 352.7L53.3 351.5V353.9zM57.1 352.4L55 351.1V353.6zM58.8 352L56.7 350.8V353.3zM60.5 351.7L58.4 350.5V353zM62.2 351.4L60.1 350.2V352.6zM63.9 351.1L61.8 349.9V352.3zM65.6 350.8L63.5 349.6V352zM67.3 350.5L65.2 349.3V351.7zM69 350.2L66.9 349V351.4zM70.7 349.9L68.6 348.7V351.1zM72.4 349.6L70.3 348.4V350.8zM74.1 349.3L72 348.1V350.5zM75.8 349L73.7 347.8V350.2zM77.5 348.7L75.4 347.5V350zM79.2 348.5L77.1 347.2V349.7zM80.9 348.2L78.8 346.9V349.4zM82.6 347.9L80.5 346.7V349.1zM84.3 347.6L82.2 346.4V348.8zM86 347.3L83.9 346.1V348.6zM87.7 347.1L85.6 345.8V348.3zM89.4 346.8L87.3 345.6V348zM91.1 346.5L89 345.3V347.7zM92.8 346.2L90.7 345V347.5zM94.5 346L92.4 344.7V347.2zM96.2 345.7L94.1 344.5V346.9zM97.9 345.4L95.8 344.2V346.7zM99.6 345.2L97.5 343.9V346.4zM101.3 344.9L99.2 343.7V346.1zM103 344.6L100.9 343.4V345.8zM104.7 344.4L102.6 343.1V345.6zM106.4 344.1L104.3 342.9V345.3zM108.1 343.8L106 342.6V345zM109.8 343.6L107.7 342.3V344.8zM111.5 343.3L109.4 342.1V344.5zM113.2 343L111.1 341.8V344.2zM114.9 342.7L112.8 341.5V344zM116.6 342.5L114.5 341.2V343.7zM118.3 342.2L116.2 341V343.4zM120 341.9L117.9 340.7V343.1zM121.7 341.6L119.6 340.4V342.9zM123.4 341.4L121.3 340.1V342.6zM125.1 341.1L123 339.9V342.3zM126.8 340.8L124.7 339.6V342zM128.5 340.5L126.4 339.3V341.8zM130.2 340.2L128.1 339V341.5zM131.9 340L129.8 338.7V341.2zM133.6 339.7L131.5 338.4V340.9zM135.3 339.4L133.2 338.2V340.6zM137 339.1L134.9 337.9V340.3zM138.7 338.8L136.6 337.6V340zM140.4 338.5L138.3 337.3V339.7zM142.1 338.2L140 337V339.4zM143.8 337.9L141.7 336.7V339.1zM145.5 337.6L143.4 336.4V338.8zM147.2 337.3L145.1 336V338.5zM148.9 336.9L146.8 335.7V338.2zM150.6 336.6L148.5 335.4V337.8zM152.3 336.3L150.2 335.1V337.5zM154 336L151.9 334.7V337.2zM155.7 335.6L153.6 334.4V336.9zM157.4 335.3L155.3 334.1V336.5zM159.1 335L157 333.7V336.2zM160.8 334.6L158.7 333.4V335.8zM162.5 334.3L160.4 333V335.5zM164.2 333.9L162.1 332.7V335.1zM165.9 333.5L163.8 332.3V334.8zM167.6 333.2L165.5 332V334.4zM169.3 332.8L167.2 331.6V334zM171 332.4L168.9 331.2V333.7z"/><rect x="28.50" y="277.60" width="142.80" height="108.40" fill="none" stroke="#333" stroke-width="1.25"/><text x="179.80" y="275.50" font-size="9.6" text-anchor="start" >F</text><line x1="194.80" y1="278.00" x2="196.80" y2="278.00" stroke="#303030" stroke-width="0.9"/><text x="191.40" y="280.10" font-size="6.3" text-anchor="end">10</text><text x="193.50" y="277.60" font-size="3.8" text-anchor="end">3</text><line x1="194.80" y1="305.20" x2="196.80" y2="305.20" stroke="#303030" stroke-width="0.9"/><text x="191.40" y="307.30" font-size="6.3" text-anchor="end">10</text><text x="193.50" y="304.80" font-size="3.8" text-anchor="end">2</text><line x1="194.80" y1="332.40" x2="196.80" y2="332.40" stroke="#303030" stroke-width="0.9"/><text x="191.40" y="334.50" font-size="6.3" text-anchor="end">10</text><text x="193.50" y="332.00" font-size="3.8" text-anchor="end">1</text><line x1="194.80" y1="359.60" x2="196.80" y2="359.60" stroke="#303030" stroke-width="0.9"/><text x="191.40" y="361.70" font-size="6.3" text-anchor="end">10</text><text x="193.50" y="359.20" font-size="3.8" text-anchor="end">0</text><line x1="194.80" y1="386.80" x2="196.80" y2="386.80" stroke="#303030" stroke-width="0.9"/><text x="189.80" y="388.90" font-size="6.3" text-anchor="end">10</text><text x="193.50" y="386.40" font-size="3.8" text-anchor="end">-1</text><line x1="195.70" y1="297.01" x2="196.80" y2="297.01" stroke="#303030" stroke-width="0.6"/><line x1="195.70" y1="292.22" x2="196.80" y2="292.22" stroke="#303030" stroke-width="0.6"/><line x1="195.70" y1="288.82" x2="196.80" y2="288.82" stroke="#303030" stroke-width="0.6"/><line x1="195.70" y1="286.19" x2="196.80" y2="286.19" stroke="#303030" stroke-width="0.6"/><line x1="195.70" y1="284.03" x2="196.80" y2="284.03" stroke="#303030" stroke-width="0.6"/><line x1="195.70" y1="282.21" x2="196.80" y2="282.21" stroke="#303030" stroke-width="0.6"/><line x1="195.70" y1="280.64" x2="196.80" y2="280.64" stroke="#303030" stroke-width="0.6"/><line x1="195.70" y1="279.24" x2="196.80" y2="279.24" stroke="#303030" stroke-width="0.6"/><line x1="195.70" y1="324.21" x2="196.80" y2="324.21" stroke="#303030" stroke-width="0.6"/><line x1="195.70" y1="319.42" x2="196.80" y2="319.42" stroke="#303030" stroke-width="0.6"/><line x1="195.70" y1="316.02" x2="196.80" y2="316.02" stroke="#303030" stroke-width="0.6"/><line x1="195.70" y1="313.39" x2="196.80" y2="313.39" stroke="#303030" stroke-width="0.6"/><line x1="195.70" y1="311.23" x2="196.80" y2="311.23" stroke="#303030" stroke-width="0.6"/><line x1="195.70" y1="309.41" x2="196.80" y2="309.41" stroke="#303030" stroke-width="0.6"/><line x1="195.70" y1="307.84" x2="196.80" y2="307.84" stroke="#303030" stroke-width="0.6"/><line x1="195.70" y1="306.44" x2="196.80" y2="306.44" stroke="#303030" stroke-width="0.6"/><line x1="195.70" y1="351.41" x2="196.80" y2="351.41" stroke="#303030" stroke-width="0.6"/><line x1="195.70" y1="346.62" x2="196.80" y2="346.62" stroke="#303030" stroke-width="0.6"/><line x1="195.70" y1="343.22" x2="196.80" y2="343.22" stroke="#303030" stroke-width="0.6"/><line x1="195.70" y1="340.59" x2="196.80" y2="340.59" stroke="#303030" stroke-width="0.6"/><line x1="195.70" y1="338.43" x2="196.80" y2="338.43" stroke="#303030" stroke-width="0.6"/><line x1="195.70" y1="336.61" x2="196.80" y2="336.61" stroke="#303030" stroke-width="0.6"/><line x1="195.70" y1="335.04" x2="196.80" y2="335.04" stroke="#303030" stroke-width="0.6"/><line x1="195.70" y1="333.64" x2="196.80" y2="333.64" stroke="#303030" stroke-width="0.6"/><line x1="195.70" y1="378.61" x2="196.80" y2="378.61" stroke="#303030" stroke-width="0.6"/><line x1="195.70" y1="373.82" x2="196.80" y2="373.82" stroke="#303030" stroke-width="0.6"/><line x1="195.70" y1="370.42" x2="196.80" y2="370.42" stroke="#303030" stroke-width="0.6"/><line x1="195.70" y1="367.79" x2="196.80" y2="367.79" stroke="#303030" stroke-width="0.6"/><line x1="195.70" y1="365.63" x2="196.80" y2="365.63" stroke="#303030" stroke-width="0.6"/><line x1="195.70" y1="363.81" x2="196.80" y2="363.81" stroke="#303030" stroke-width="0.6"/><line x1="195.70" y1="362.24" x2="196.80" y2="362.24" stroke="#303030" stroke-width="0.6"/><line x1="195.70" y1="360.84" x2="196.80" y2="360.84" stroke="#303030" stroke-width="0.6"/><line x1="199.30" y1="386.10" x2="199.30" y2="388.30" stroke="#303030" stroke-width="0.8"/><text x="199.30" y="394.40" font-size="6.3" text-anchor="middle" >90</text><line x1="220.62" y1="386.10" x2="220.62" y2="388.30" stroke="#303030" stroke-width="0.8"/><text x="220.62" y="394.40" font-size="6.3" text-anchor="middle" >80</text><line x1="241.94" y1="386.10" x2="241.94" y2="388.30" stroke="#303030" stroke-width="0.8"/><text x="241.94" y="394.40" font-size="6.3" text-anchor="middle" >70</text><line x1="263.26" y1="386.10" x2="263.26" y2="388.30" stroke="#303030" stroke-width="0.8"/><text x="263.26" y="394.40" font-size="6.3" text-anchor="middle" >60</text><line x1="284.58" y1="386.10" x2="284.58" y2="388.30" stroke="#303030" stroke-width="0.8"/><text x="284.58" y="394.40" font-size="6.3" text-anchor="middle" >50</text><line x1="305.90" y1="386.10" x2="305.90" y2="388.30" stroke="#303030" stroke-width="0.8"/><text x="305.90" y="394.40" font-size="6.3" text-anchor="middle" >40</text><line x1="327.22" y1="386.10" x2="327.22" y2="388.30" stroke="#303030" stroke-width="0.8"/><text x="327.22" y="394.40" font-size="6.3" text-anchor="middle" >30</text><line x1="209.96" y1="386.10" x2="209.96" y2="387.30" stroke="#303030" stroke-width="0.6"/><line x1="231.28" y1="386.10" x2="231.28" y2="387.30" stroke="#303030" stroke-width="0.6"/><line x1="252.60" y1="386.10" x2="252.60" y2="387.30" stroke="#303030" stroke-width="0.6"/><line x1="273.92" y1="386.10" x2="273.92" y2="387.30" stroke="#303030" stroke-width="0.6"/><line x1="295.24" y1="386.10" x2="295.24" y2="387.30" stroke="#303030" stroke-width="0.6"/><line x1="316.56" y1="386.10" x2="316.56" y2="387.30" stroke="#303030" stroke-width="0.6"/><line x1="337.88" y1="386.10" x2="337.88" y2="387.30" stroke="#303030" stroke-width="0.6"/><text x="239.40" y="404.00" font-size="8.7" textLength="60.4" lengthAdjust="spacingAndGlyphs">Temperature(&#176;C)</text><text x="0" y="0" font-size="8.7" textLength="71.8" lengthAdjust="spacingAndGlyphs" transform="translate(182.40,368.60) rotate(-90)">Loss modulus G&#39;&#39;(Pa)</text><rect x="204.31" y="281.81" width="1.58" height="1.58" fill="#2a2a2a"/><text x="211.40" y="284.45" font-size="5.05" text-anchor="start" >WNPU/KC</text><circle cx="243.80" cy="282.60" r="1.04" fill="#ff1a1a"/><text x="250.10" y="284.45" font-size="5.05" text-anchor="start" >U-200W</text><polygon points="277.60,281.45 276.38,283.54 278.82,283.54" fill="#0a64e8"/><text x="283.90" y="284.45" font-size="5.05" text-anchor="start" >U-0W-TG</text><polygon points="205.10,289.95 203.88,287.86 206.32,287.86" fill="#00985a"/><text x="211.40" y="290.65" font-size="5.05" text-anchor="start" >U-100W-TG</text><polygon points="248.60,287.54 249.75,288.80 248.60,290.06 247.45,288.80" fill="#c04ae4"/><text x="254.90" y="290.65" font-size="5.05" text-anchor="start" >U-200W-TG</text><polygon points="291.15,288.80 293.24,287.58 293.24,290.02" fill="#eb9a1a"/><text x="298.60" y="290.65" font-size="5.05" text-anchor="start" >U-300W-TG</text><polygon points="206.25,295.10 204.16,293.88 204.16,296.32" fill="#14c4d4"/><text x="211.40" y="296.95" font-size="5.05" text-anchor="start" >U-400W-TG</text><polyline points="199.3,369.4 200.3,369.4 201.3,369.3 202.3,369.3 203.3,369.3 204.3,369.2 205.3,369.2 206.3,369.2 207.3,369.1 208.3,369.1 209.3,369.0 210.3,369.0 211.3,368.9 212.3,368.9 213.3,368.8 214.3,368.8 215.3,368.7 216.3,368.7 217.3,368.6 218.3,368.6 219.3,368.5 220.3,368.5 221.3,368.4 222.3,368.4 223.3,368.3 224.3,368.2 225.3,368.2 226.3,368.1 227.3,368.0 228.3,368.0 229.3,367.9 230.3,367.8 231.3,367.8 232.3,367.7 233.3,367.6 234.3,367.5 235.3,367.5 236.3,367.4 237.3,367.3 238.3,367.2 239.3,367.2 240.3,367.1 241.3,367.0 242.3,366.9 243.3,366.8 244.3,366.7 245.3,366.6 246.3,366.6 247.3,366.5 248.3,366.4 249.3,366.3 250.3,366.2 251.3,366.1 252.3,366.0 253.3,365.9 254.3,365.8 255.3,365.7 256.3,365.6 257.3,365.5 258.3,365.4 259.3,365.3 260.3,365.2 261.3,365.1 262.3,364.9 263.3,364.8 264.3,364.7 265.3,364.6 266.3,364.5 267.3,364.4 268.3,364.3 269.3,364.1 270.3,364.0 271.3,363.9 272.3,363.8 273.3,363.7 274.3,363.5 275.3,363.4 276.3,363.3 277.3,363.1 278.3,363.0 279.3,362.9 280.3,362.8 281.3,362.6 282.3,362.5 283.3,362.3 284.3,362.2 285.3,362.1 286.3,361.9 287.3,361.8 288.3,361.6 289.3,361.5 290.3,361.4 291.3,361.2 292.3,361.1 293.3,360.9 294.3,360.8 295.3,360.6 296.3,360.5 297.3,360.3 298.3,360.2 299.3,360.0 300.3,359.8 301.3,359.7 302.3,359.5 303.3,359.4 304.3,359.2 305.3,359.0 306.3,358.9 307.3,358.7 308.3,358.5 309.3,358.4 310.3,358.2 311.3,358.0 312.3,357.8 313.3,357.7 314.3,357.5 315.3,357.3 316.3,357.1 317.3,357.0 318.3,356.8 319.3,356.6 320.3,356.4 321.3,356.2 322.3,356.1 323.3,355.9 324.3,355.7 325.3,355.5 326.3,355.3 327.3,355.1 328.3,354.9 329.3,354.7 330.3,354.5 331.3,354.3 332.3,354.1 333.3,353.9 334.3,353.7 335.3,353.5 336.3,353.3 337.3,353.1 338.3,352.9 339.3,352.7 340.0,352.6" fill="none" stroke="#2a2a2a" stroke-width="0.9" stroke-linejoin="round" opacity="1.0"/><path fill="#2a2a2a" d="M198.5 368.6h1.6v1.6h-1.6zM200.2 368.6h1.6v1.6h-1.6zM201.9 368.5h1.6v1.6h-1.6zM203.6 368.4h1.6v1.6h-1.6zM205.3 368.4h1.6v1.6h-1.6zM207 368.3h1.6v1.6h-1.6zM208.7 368.2h1.6v1.6h-1.6zM210.4 368.2h1.6v1.6h-1.6zM212.1 368.1h1.6v1.6h-1.6zM213.8 368h1.6v1.6h-1.6zM215.5 367.9h1.6v1.6h-1.6zM217.2 367.8h1.6v1.6h-1.6zM218.9 367.7h1.6v1.6h-1.6zM220.6 367.6h1.6v1.6h-1.6zM222.3 367.5h1.6v1.6h-1.6zM224 367.4h1.6v1.6h-1.6zM225.7 367.3h1.6v1.6h-1.6zM227.4 367.2h1.6v1.6h-1.6zM229.1 367.1h1.6v1.6h-1.6zM230.8 367h1.6v1.6h-1.6zM232.5 366.8h1.6v1.6h-1.6zM234.2 366.7h1.6v1.6h-1.6zM235.9 366.6h1.6v1.6h-1.6zM237.6 366.4h1.6v1.6h-1.6zM239.3 366.3h1.6v1.6h-1.6zM241 366.2h1.6v1.6h-1.6zM242.7 366h1.6v1.6h-1.6zM244.4 365.9h1.6v1.6h-1.6zM246.1 365.7h1.6v1.6h-1.6zM247.8 365.6h1.6v1.6h-1.6zM249.5 365.4h1.6v1.6h-1.6zM251.2 365.2h1.6v1.6h-1.6zM252.9 365.1h1.6v1.6h-1.6zM254.6 364.9h1.6v1.6h-1.6zM256.3 364.7h1.6v1.6h-1.6zM258 364.5h1.6v1.6h-1.6zM259.7 364.4h1.6v1.6h-1.6zM261.4 364.2h1.6v1.6h-1.6zM263.1 364h1.6v1.6h-1.6zM264.8 363.8h1.6v1.6h-1.6zM266.5 363.6h1.6v1.6h-1.6zM268.2 363.4h1.6v1.6h-1.6zM269.9 363.2h1.6v1.6h-1.6zM271.6 363h1.6v1.6h-1.6zM273.3 362.8h1.6v1.6h-1.6zM275 362.5h1.6v1.6h-1.6zM276.7 362.3h1.6v1.6h-1.6zM278.4 362.1h1.6v1.6h-1.6zM280.1 361.9h1.6v1.6h-1.6zM281.8 361.7h1.6v1.6h-1.6zM283.5 361.4h1.6v1.6h-1.6zM285.2 361.2h1.6v1.6h-1.6zM286.9 360.9h1.6v1.6h-1.6zM288.6 360.7h1.6v1.6h-1.6zM290.3 360.5h1.6v1.6h-1.6zM292 360.2h1.6v1.6h-1.6zM293.7 359.9h1.6v1.6h-1.6zM295.4 359.7h1.6v1.6h-1.6zM297.1 359.4h1.6v1.6h-1.6zM298.8 359.2h1.6v1.6h-1.6zM300.5 358.9h1.6v1.6h-1.6zM302.2 358.6h1.6v1.6h-1.6zM303.9 358.3h1.6v1.6h-1.6zM305.6 358.1h1.6v1.6h-1.6zM307.3 357.8h1.6v1.6h-1.6zM309 357.5h1.6v1.6h-1.6zM310.7 357.2h1.6v1.6h-1.6zM312.4 356.9h1.6v1.6h-1.6zM314.1 356.6h1.6v1.6h-1.6zM315.8 356.3h1.6v1.6h-1.6zM317.5 356h1.6v1.6h-1.6zM319.2 355.7h1.6v1.6h-1.6zM320.9 355.4h1.6v1.6h-1.6zM322.6 355.1h1.6v1.6h-1.6zM324.3 354.7h1.6v1.6h-1.6zM326 354.4h1.6v1.6h-1.6zM327.7 354.1h1.6v1.6h-1.6zM329.4 353.8h1.6v1.6h-1.6zM331.1 353.4h1.6v1.6h-1.6zM332.8 353.1h1.6v1.6h-1.6zM334.5 352.7h1.6v1.6h-1.6zM336.2 352.4h1.6v1.6h-1.6zM337.9 352h1.6v1.6h-1.6z"/><polyline points="199.3,365.7 200.3,365.6 201.3,365.5 202.3,365.3 203.3,365.2 204.3,365.1 205.3,365.0 206.3,364.9 207.3,364.7 208.3,364.6 209.3,364.5 210.3,364.3 211.3,364.2 212.3,364.1 213.3,363.9 214.3,363.8 215.3,363.6 216.3,363.5 217.3,363.3 218.3,363.2 219.3,363.0 220.3,362.9 221.3,362.7 222.3,362.6 223.3,362.4 224.3,362.2 225.3,362.1 226.3,361.9 227.3,361.7 228.3,361.6 229.3,361.4 230.3,361.2 231.3,361.0 232.3,360.9 233.3,360.7 234.3,360.5 235.3,360.3 236.3,360.1 237.3,359.9 238.3,359.7 239.3,359.5 240.3,359.3 241.3,359.2 242.3,359.0 243.3,358.8 244.3,358.6 245.3,358.3 246.3,358.1 247.3,357.9 248.3,357.7 249.3,357.5 250.3,357.3 251.3,357.1 252.3,356.9 253.3,356.6 254.3,356.4 255.3,356.2 256.3,356.0 257.3,355.7 258.3,355.5 259.3,355.3 260.3,355.0 261.3,354.8 262.3,354.6 263.3,354.3 264.3,354.1 265.3,353.9 266.3,353.6 267.3,353.4 268.3,353.1 269.3,352.9 270.3,352.6 271.3,352.4 272.3,352.1 273.3,351.8 274.3,351.6 275.3,351.3 276.3,351.1 277.3,350.8 278.3,350.5 279.3,350.3 280.3,350.0 281.3,349.7 282.3,349.4 283.3,349.2 284.3,348.9 285.3,348.6 286.3,348.3 287.3,348.0 288.3,347.8 289.3,347.5 290.3,347.2 291.3,346.9 292.3,346.6 293.3,346.3 294.3,346.0 295.3,345.7 296.3,345.4 297.3,345.1 298.3,344.8 299.3,344.5 300.3,344.2 301.3,343.9 302.3,343.6 303.3,343.3 304.3,342.9 305.3,342.6 306.3,342.3 307.3,342.0 308.3,341.7 309.3,341.4 310.3,341.0 311.3,340.7 312.3,340.4 313.3,340.0 314.3,339.7 315.3,339.4 316.3,339.0 317.3,338.7 318.3,338.4 319.3,338.0 320.3,337.7 321.3,337.3 322.3,337.0 323.3,336.7 324.3,336.3 325.3,336.0 326.3,335.6 327.3,335.2 328.3,334.9 329.3,334.5 330.3,334.2 331.3,333.8 332.3,333.5 333.3,333.1 334.3,332.7 335.3,332.4 336.3,332.0 337.3,331.6 338.3,331.2 339.3,330.9 340.0,330.6" fill="none" stroke="#ff1a1a" stroke-width="0.9" stroke-linejoin="round" opacity="1.0"/><path fill="#ff1a1a" d="M198.3 365.7a1 1 0 1 0 2.1 0a1 1 0 1 0 -2.1 0zM200 365.5a1 1 0 1 0 2.1 0a1 1 0 1 0 -2.1 0zM201.7 365.3a1 1 0 1 0 2.1 0a1 1 0 1 0 -2.1 0zM203.4 365.1a1 1 0 1 0 2.1 0a1 1 0 1 0 -2.1 0zM205.1 364.9a1 1 0 1 0 2.1 0a1 1 0 1 0 -2.1 0zM206.8 364.7a1 1 0 1 0 2.1 0a1 1 0 1 0 -2.1 0zM208.5 364.4a1 1 0 1 0 2.1 0a1 1 0 1 0 -2.1 0zM210.2 364.2a1 1 0 1 0 2.1 0a1 1 0 1 0 -2.1 0zM211.9 364a1 1 0 1 0 2.1 0a1 1 0 1 0 -2.1 0zM213.6 363.7a1 1 0 1 0 2.1 0a1 1 0 1 0 -2.1 0zM215.3 363.5a1 1 0 1 0 2.1 0a1 1 0 1 0 -2.1 0zM217 363.2a1 1 0 1 0 2.1 0a1 1 0 1 0 -2.1 0zM218.7 363a1 1 0 1 0 2.1 0a1 1 0 1 0 -2.1 0zM220.4 362.7a1 1 0 1 0 2.1 0a1 1 0 1 0 -2.1 0zM222.1 362.4a1 1 0 1 0 2.1 0a1 1 0 1 0 -2.1 0zM223.8 362.1a1 1 0 1 0 2.1 0a1 1 0 1 0 -2.1 0zM225.5 361.9a1 1 0 1 0 2.1 0a1 1 0 1 0 -2.1 0zM227.2 361.6a1 1 0 1 0 2.1 0a1 1 0 1 0 -2.1 0zM228.9 361.3a1 1 0 1 0 2.1 0a1 1 0 1 0 -2.1 0zM230.6 361a1 1 0 1 0 2.1 0a1 1 0 1 0 -2.1 0zM232.3 360.7a1 1 0 1 0 2.1 0a1 1 0 1 0 -2.1 0zM234 360.4a1 1 0 1 0 2.1 0a1 1 0 1 0 -2.1 0zM235.7 360a1 1 0 1 0 2.1 0a1 1 0 1 0 -2.1 0zM237.4 359.7a1 1 0 1 0 2.1 0a1 1 0 1 0 -2.1 0zM239.1 359.4a1 1 0 1 0 2.1 0a1 1 0 1 0 -2.1 0zM240.8 359.1a1 1 0 1 0 2.1 0a1 1 0 1 0 -2.1 0zM242.5 358.7a1 1 0 1 0 2.1 0a1 1 0 1 0 -2.1 0zM244.2 358.4a1 1 0 1 0 2.1 0a1 1 0 1 0 -2.1 0zM245.9 358a1 1 0 1 0 2.1 0a1 1 0 1 0 -2.1 0zM247.6 357.7a1 1 0 1 0 2.1 0a1 1 0 1 0 -2.1 0zM249.3 357.3a1 1 0 1 0 2.1 0a1 1 0 1 0 -2.1 0zM251 356.9a1 1 0 1 0 2.1 0a1 1 0 1 0 -2.1 0zM252.7 356.6a1 1 0 1 0 2.1 0a1 1 0 1 0 -2.1 0zM254.4 356.2a1 1 0 1 0 2.1 0a1 1 0 1 0 -2.1 0zM256.1 355.8a1 1 0 1 0 2.1 0a1 1 0 1 0 -2.1 0zM257.8 355.4a1 1 0 1 0 2.1 0a1 1 0 1 0 -2.1 0zM259.5 355a1 1 0 1 0 2.1 0a1 1 0 1 0 -2.1 0zM261.2 354.6a1 1 0 1 0 2.1 0a1 1 0 1 0 -2.1 0zM262.9 354.2a1 1 0 1 0 2.1 0a1 1 0 1 0 -2.1 0zM264.6 353.8a1 1 0 1 0 2.1 0a1 1 0 1 0 -2.1 0zM266.3 353.4a1 1 0 1 0 2.1 0a1 1 0 1 0 -2.1 0zM268 352.9a1 1 0 1 0 2.1 0a1 1 0 1 0 -2.1 0zM269.7 352.5a1 1 0 1 0 2.1 0a1 1 0 1 0 -2.1 0zM271.4 352.1a1 1 0 1 0 2.1 0a1 1 0 1 0 -2.1 0zM273.1 351.6a1 1 0 1 0 2.1 0a1 1 0 1 0 -2.1 0zM274.8 351.2a1 1 0 1 0 2.1 0a1 1 0 1 0 -2.1 0zM276.5 350.7a1 1 0 1 0 2.1 0a1 1 0 1 0 -2.1 0zM278.2 350.3a1 1 0 1 0 2.1 0a1 1 0 1 0 -2.1 0zM279.9 349.8a1 1 0 1 0 2.1 0a1 1 0 1 0 -2.1 0zM281.6 349.4a1 1 0 1 0 2.1 0a1 1 0 1 0 -2.1 0zM283.3 348.9a1 1 0 1 0 2.1 0a1 1 0 1 0 -2.1 0zM285 348.4a1 1 0 1 0 2.1 0a1 1 0 1 0 -2.1 0zM286.7 347.9a1 1 0 1 0 2.1 0a1 1 0 1 0 -2.1 0zM288.4 347.4a1 1 0 1 0 2.1 0a1 1 0 1 0 -2.1 0zM290.1 346.9a1 1 0 1 0 2.1 0a1 1 0 1 0 -2.1 0zM291.8 346.4a1 1 0 1 0 2.1 0a1 1 0 1 0 -2.1 0zM293.5 345.9a1 1 0 1 0 2.1 0a1 1 0 1 0 -2.1 0zM295.2 345.4a1 1 0 1 0 2.1 0a1 1 0 1 0 -2.1 0zM296.9 344.9a1 1 0 1 0 2.1 0a1 1 0 1 0 -2.1 0zM298.6 344.4a1 1 0 1 0 2.1 0a1 1 0 1 0 -2.1 0zM300.3 343.9a1 1 0 1 0 2.1 0a1 1 0 1 0 -2.1 0zM302 343.4a1 1 0 1 0 2.1 0a1 1 0 1 0 -2.1 0zM303.7 342.8a1 1 0 1 0 2.1 0a1 1 0 1 0 -2.1 0zM305.4 342.3a1 1 0 1 0 2.1 0a1 1 0 1 0 -2.1 0zM307.1 341.7a1 1 0 1 0 2.1 0a1 1 0 1 0 -2.1 0zM308.8 341.2a1 1 0 1 0 2.1 0a1 1 0 1 0 -2.1 0zM310.5 340.6a1 1 0 1 0 2.1 0a1 1 0 1 0 -2.1 0zM312.2 340.1a1 1 0 1 0 2.1 0a1 1 0 1 0 -2.1 0zM313.9 339.5a1 1 0 1 0 2.1 0a1 1 0 1 0 -2.1 0zM315.6 338.9a1 1 0 1 0 2.1 0a1 1 0 1 0 -2.1 0zM317.3 338.4a1 1 0 1 0 2.1 0a1 1 0 1 0 -2.1 0zM319 337.8a1 1 0 1 0 2.1 0a1 1 0 1 0 -2.1 0zM320.7 337.2a1 1 0 1 0 2.1 0a1 1 0 1 0 -2.1 0zM322.4 336.6a1 1 0 1 0 2.1 0a1 1 0 1 0 -2.1 0zM324.1 336a1 1 0 1 0 2.1 0a1 1 0 1 0 -2.1 0zM325.8 335.4a1 1 0 1 0 2.1 0a1 1 0 1 0 -2.1 0zM327.5 334.8a1 1 0 1 0 2.1 0a1 1 0 1 0 -2.1 0zM329.2 334.2a1 1 0 1 0 2.1 0a1 1 0 1 0 -2.1 0zM330.9 333.6a1 1 0 1 0 2.1 0a1 1 0 1 0 -2.1 0zM332.6 333a1 1 0 1 0 2.1 0a1 1 0 1 0 -2.1 0zM334.3 332.4a1 1 0 1 0 2.1 0a1 1 0 1 0 -2.1 0zM336 331.7a1 1 0 1 0 2.1 0a1 1 0 1 0 -2.1 0zM337.7 331.1a1 1 0 1 0 2.1 0a1 1 0 1 0 -2.1 0z"/><polyline points="199.3,360.7 200.3,360.7 201.3,360.6 202.3,360.6 203.3,360.5 204.3,360.5 205.3,360.4 206.3,360.3 207.3,360.2 208.3,360.2 209.3,360.1 210.3,360.0 211.3,359.9 212.3,359.8 213.3,359.7 214.3,359.6 215.3,359.5 216.3,359.4 217.3,359.3 218.3,359.2 219.3,359.1 220.3,359.0 221.3,358.8 222.3,358.7 223.3,358.6 224.3,358.5 225.3,358.3 226.3,358.2 227.3,358.0 228.3,357.9 229.3,357.7 230.3,357.6 231.3,357.4 232.3,357.3 233.3,357.1 234.3,357.0 235.3,356.8 236.3,356.6 237.3,356.5 238.3,356.3 239.3,356.1 240.3,355.9 241.3,355.7 242.3,355.6 243.3,355.4 244.3,355.2 245.3,355.0 246.3,354.8 247.3,354.6 248.3,354.4 249.3,354.2 250.3,354.0 251.3,353.8 252.3,353.5 253.3,353.3 254.3,353.1 255.3,352.9 256.3,352.7 257.3,352.4 258.3,352.2 259.3,352.0 260.3,351.7 261.3,351.5 262.3,351.3 263.3,351.0 264.3,350.8 265.3,350.5 266.3,350.3 267.3,350.0 268.3,349.8 269.3,349.5 270.3,349.2 271.3,349.0 272.3,348.7 273.3,348.5 274.3,348.2 275.3,347.9 276.3,347.6 277.3,347.4 278.3,347.1 279.3,346.8 280.3,346.5 281.3,346.2 282.3,346.0 283.3,345.7 284.3,345.4 285.3,345.1 286.3,344.8 287.3,344.5 288.3,344.2 289.3,343.9 290.3,343.6 291.3,343.3 292.3,343.0 293.3,342.7 294.3,342.4 295.3,342.1 296.3,341.7 297.3,341.4 298.3,341.1 299.3,340.8 300.3,340.5 301.3,340.1 302.3,339.8 303.3,339.5 304.3,339.2 305.3,338.8 306.3,338.5 307.3,338.2 308.3,337.8 309.3,337.5 310.3,337.2 311.3,336.8 312.3,336.5 313.3,336.1 314.3,335.8 315.3,335.5 316.3,335.1 317.3,334.8 318.3,334.4 319.3,334.1 320.3,333.7 321.3,333.3 322.3,333.0 323.3,332.6 324.3,332.3 325.3,331.9 326.3,331.6 327.3,331.2 328.3,330.8 329.3,330.5 330.3,330.1 331.3,329.7 332.3,329.4 333.3,329.0 334.3,328.6 335.3,328.2 336.3,327.9 337.3,327.5 338.3,327.1 339.3,326.7 340.0,326.5" fill="none" stroke="#0a64e8" stroke-width="0.9" stroke-linejoin="round" opacity="1.0"/><path fill="#0a64e8" d="M199.3 359.6L198.1 361.7H200.5zM201 359.5L199.8 361.6H202.2zM202.7 359.4L201.5 361.5H203.9zM204.4 359.3L203.2 361.4H205.6zM206.1 359.2L204.9 361.3H207.3zM207.8 359.1L206.6 361.1H209zM209.5 358.9L208.3 361H210.7zM211.2 358.8L210 360.9H212.4zM212.9 358.6L211.7 360.7H214.1zM214.6 358.4L213.4 360.5H215.8zM216.3 358.3L215.1 360.4H217.5zM218 358.1L216.8 360.2H219.2zM219.7 357.9L218.5 360H220.9zM221.4 357.7L220.2 359.8H222.6zM223.1 357.5L221.9 359.5H224.3zM224.8 357.2L223.6 359.3H226zM226.5 357L225.3 359.1H227.7zM228.2 356.8L227 358.8H229.4zM229.9 356.5L228.7 358.6H231.1zM231.6 356.2L230.4 358.3H232.8zM233.3 356L232.1 358.1H234.5zM235 355.7L233.8 357.8H236.2zM236.7 355.4L235.5 357.5H237.9zM238.4 355.1L237.2 357.2H239.6zM240.1 354.8L238.9 356.9H241.3zM241.8 354.5L240.6 356.6H243zM243.5 354.2L242.3 356.3H244.7zM245.2 353.8L244 355.9H246.4zM246.9 353.5L245.7 355.6H248.1zM248.6 353.2L247.4 355.3H249.8zM250.3 352.8L249.1 354.9H251.5zM252 352.4L250.8 354.5H253.2zM253.7 352.1L252.5 354.2H254.9zM255.4 351.7L254.2 353.8H256.6zM257.1 351.3L255.9 353.4H258.3zM258.8 350.9L257.6 353H260zM260.5 350.5L259.3 352.6H261.7zM262.2 350.1L261 352.2H263.4zM263.9 349.7L262.7 351.8H265.1zM265.6 349.3L264.4 351.4H266.8zM267.3 348.9L266.1 351H268.5zM269 348.4L267.8 350.5H270.2zM270.7 348L269.5 350.1H271.9zM272.4 347.5L271.2 349.6H273.6zM274.1 347.1L272.9 349.2H275.3zM275.8 346.6L274.6 348.7H277zM277.5 346.2L276.3 348.3H278.7zM279.2 345.7L278 347.8H280.4zM280.9 345.2L279.7 347.3H282.1zM282.6 344.7L281.4 346.8H283.8zM284.3 344.2L283.1 346.3H285.5zM286 343.7L284.8 345.8H287.2zM287.7 343.2L286.5 345.3H288.9zM289.4 342.7L288.2 344.8H290.6zM291.1 342.2L289.9 344.3H292.3zM292.8 341.7L291.6 343.8H294zM294.5 341.2L293.3 343.2H295.7zM296.2 340.6L295 342.7H297.4zM297.9 340.1L296.7 342.2H299.1zM299.6 339.5L298.4 341.6H300.8zM301.3 339L300.1 341.1H302.5zM303 338.4L301.8 340.5H304.2zM304.7 337.9L303.5 340H305.9zM306.4 337.3L305.2 339.4H307.6zM308.1 336.8L306.9 338.8H309.3zM309.8 336.2L308.6 338.3H311zM311.5 335.6L310.3 337.7H312.7zM313.2 335L312 337.1H314.4zM314.9 334.4L313.7 336.5H316.1zM316.6 333.8L315.4 335.9H317.8zM318.3 333.3L317.1 335.3H319.5zM320 332.7L318.8 334.7H321.2zM321.7 332.1L320.5 334.1H322.9zM323.4 331.4L322.2 333.5H324.6zM325.1 330.8L323.9 332.9H326.3zM326.8 330.2L325.6 332.3H328zM328.5 329.6L327.3 331.7H329.7zM330.2 329L329 331.1H331.4zM331.9 328.4L330.7 330.4H333.1zM333.6 327.7L332.4 329.8H334.8zM335.3 327.1L334.1 329.2H336.5zM337 326.5L335.8 328.5H338.2zM338.7 325.8L337.5 327.9H339.9z"/><polyline points="199.3,357.2 200.3,357.2 201.3,357.1 202.3,357.1 203.3,357.1 204.3,357.1 205.3,357.1 206.3,357.0 207.3,357.0 208.3,357.0 209.3,356.9 210.3,356.9 211.3,356.8 212.3,356.8 213.3,356.7 214.3,356.6 215.3,356.6 216.3,356.5 217.3,356.4 218.3,356.4 219.3,356.3 220.3,356.2 221.3,356.1 222.3,356.0 223.3,355.9 224.3,355.8 225.3,355.7 226.3,355.6 227.3,355.5 228.3,355.4 229.3,355.3 230.3,355.2 231.3,355.0 232.3,354.9 233.3,354.8 234.3,354.6 235.3,354.5 236.3,354.4 237.3,354.2 238.3,354.1 239.3,353.9 240.3,353.7 241.3,353.6 242.3,353.4 243.3,353.3 244.3,353.1 245.3,352.9 246.3,352.7 247.3,352.5 248.3,352.3 249.3,352.2 250.3,352.0 251.3,351.8 252.3,351.6 253.3,351.4 254.3,351.1 255.3,350.9 256.3,350.7 257.3,350.5 258.3,350.3 259.3,350.0 260.3,349.8 261.3,349.6 262.3,349.3 263.3,349.1 264.3,348.8 265.3,348.6 266.3,348.3 267.3,348.1 268.3,347.8 269.3,347.5 270.3,347.3 271.3,347.0 272.3,346.7 273.3,346.4 274.3,346.1 275.3,345.8 276.3,345.5 277.3,345.2 278.3,344.9 279.3,344.6 280.3,344.3 281.3,344.0 282.3,343.7 283.3,343.4 284.3,343.1 285.3,342.7 286.3,342.4 287.3,342.1 288.3,341.7 289.3,341.4 290.3,341.0 291.3,340.7 292.3,340.3 293.3,340.0 294.3,339.6 295.3,339.2 296.3,338.9 297.3,338.5 298.3,338.1 299.3,337.7 300.3,337.3 301.3,337.0 302.3,336.6 303.3,336.2 304.3,335.8 305.3,335.4 306.3,334.9 307.3,334.5 308.3,334.1 309.3,333.7 310.3,333.3 311.3,332.8 312.3,332.4 313.3,332.0 314.3,331.5 315.3,331.1 316.3,330.7 317.3,330.2 318.3,329.7 319.3,329.3 320.3,328.8 321.3,328.4 322.3,327.9 323.3,327.4 324.3,326.9 325.3,326.5 326.3,326.0 327.3,325.5 328.3,325.0 329.3,324.5 330.3,324.0 331.3,323.5 332.3,323.0 333.3,322.5 334.3,321.9 335.3,321.4 336.3,320.9 337.3,320.4 338.3,319.8 339.3,319.3 340.0,318.9" fill="none" stroke="#00985a" stroke-width="0.9" stroke-linejoin="round" opacity="1.0"/><path fill="#00985a" d="M199.3 358.3L198.1 356.2H200.5zM201 358.3L199.8 356.2H202.2zM202.7 358.3L201.5 356.2H203.9zM204.4 358.2L203.2 356.1H205.6zM206.1 358.2L204.9 356.1H207.3zM207.8 358.1L206.6 356H209zM209.5 358.1L208.3 356H210.7zM211.2 358L210 355.9H212.4zM212.9 357.9L211.7 355.8H214.1zM214.6 357.8L213.4 355.7H215.8zM216.3 357.7L215.1 355.6H217.5zM218 357.5L216.8 355.5H219.2zM219.7 357.4L218.5 355.3H220.9zM221.4 357.3L220.2 355.2H222.6zM223.1 357.1L221.9 355H224.3zM224.8 356.9L223.6 354.8H226zM226.5 356.8L225.3 354.7H227.7zM228.2 356.6L227 354.5H229.4zM229.9 356.4L228.7 354.3H231.1zM231.6 356.2L230.4 354.1H232.8zM233.3 355.9L232.1 353.8H234.5zM235 355.7L233.8 353.6H236.2zM236.7 355.5L235.5 353.4H237.9zM238.4 355.2L237.2 353.1H239.6zM240.1 354.9L238.9 352.8H241.3zM241.8 354.7L240.6 352.6H243zM243.5 354.4L242.3 352.3H244.7zM245.2 354.1L244 352H246.4zM246.9 353.8L245.7 351.7H248.1zM248.6 353.4L247.4 351.4H249.8zM250.3 353.1L249.1 351H251.5zM252 352.8L250.8 350.7H253.2zM253.7 352.4L252.5 350.3H254.9zM255.4 352.1L254.2 350H256.6zM257.1 351.7L255.9 349.6H258.3zM258.8 351.3L257.6 349.2H260zM260.5 350.9L259.3 348.8H261.7zM262.2 350.5L261 348.4H263.4zM263.9 350.1L262.7 348H265.1zM265.6 349.6L264.4 347.6H266.8zM267.3 349.2L266.1 347.1H268.5zM269 348.8L267.8 346.7H270.2zM270.7 348.3L269.5 346.2H271.9zM272.4 347.8L271.2 345.7H273.6zM274.1 347.3L272.9 345.2H275.3zM275.8 346.8L274.6 344.8H277zM277.5 346.3L276.3 344.2H278.7zM279.2 345.8L278 343.7H280.4zM280.9 345.3L279.7 343.2H282.1zM282.6 344.8L281.4 342.7H283.8zM284.3 344.2L283.1 342.1H285.5zM286 343.6L284.8 341.6H287.2zM287.7 343.1L286.5 341H288.9zM289.4 342.5L288.2 340.4H290.6zM291.1 341.9L289.9 339.8H292.3zM292.8 341.3L291.6 339.2H294zM294.5 340.7L293.3 338.6H295.7zM296.2 340L295 338H297.4zM297.9 339.4L296.7 337.3H299.1zM299.6 338.8L298.4 336.7H300.8zM301.3 338.1L300.1 336H302.5zM303 337.4L301.8 335.3H304.2zM304.7 336.8L303.5 334.7H305.9zM306.4 336.1L305.2 334H307.6zM308.1 335.4L306.9 333.3H309.3zM309.8 334.6L308.6 332.6H311zM311.5 333.9L310.3 331.8H312.7zM313.2 333.2L312 331.1H314.4zM314.9 332.4L313.7 330.3H316.1zM316.6 331.7L315.4 329.6H317.8zM318.3 330.9L317.1 328.8H319.5zM320 330.1L318.8 328H321.2zM321.7 329.3L320.5 327.2H322.9zM323.4 328.5L322.2 326.4H324.6zM325.1 327.7L323.9 325.6H326.3zM326.8 326.9L325.6 324.8H328zM328.5 326L327.3 324H329.7zM330.2 325.2L329 323.1H331.4zM331.9 324.3L330.7 322.2H333.1zM333.6 323.5L332.4 321.4H334.8zM335.3 322.6L334.1 320.5H336.5zM337 321.7L335.8 319.6H338.2zM338.7 320.8L337.5 318.7H339.9z"/><polyline points="199.3,347.5 199.9,347.5 200.5,347.4 201.3,347.4 202.1,347.3 202.9,347.3 203.9,347.3 204.9,347.2 206.0,347.1 207.1,347.1 208.2,347.0 209.4,347.0 210.6,346.9 211.8,346.8 213.0,346.8 214.2,346.7 215.4,346.6 216.7,346.6 217.8,346.5 219.0,346.4 220.2,346.3 221.3,346.2 222.3,346.2 223.3,346.1 224.3,346.0 225.2,345.9 226.0,345.8 227.4,345.6 228.6,345.4 229.8,345.3 230.9,345.1 231.9,344.9 232.8,344.6 233.7,344.4 234.5,344.2 235.4,344.0 236.2,343.8 237.1,343.5 238.0,343.3 239.0,343.0 240.0,342.8 240.9,342.6 241.9,342.4 242.9,342.2 243.8,341.9 244.8,341.7 245.8,341.5 246.8,341.3 247.8,341.0 248.8,340.8 249.8,340.5 250.9,340.3 251.9,340.1 252.9,339.8 253.9,339.5 255.0,339.3 256.0,339.0 257.0,338.7 258.0,338.5 259.1,338.2 260.1,337.9 261.2,337.6 262.3,337.3 263.4,336.9 264.5,336.6 265.6,336.3 266.7,336.0 267.7,335.7 268.7,335.4 269.7,335.1 270.6,334.8 271.5,334.5 272.3,334.3 273.0,334.0 274.5,333.5 275.6,333.0 276.5,332.6 277.3,332.1 278.1,331.7 278.9,331.2 280.0,330.6 280.9,330.1 281.8,329.6 282.8,329.0 283.8,328.4 284.8,327.8 285.9,327.1 286.9,326.5 288.0,325.9 289.0,325.3 290.0,324.8 291.0,324.3 291.9,323.9 292.8,323.5 293.8,323.1 294.7,322.7 295.6,322.3 296.6,321.9 297.7,321.5 298.8,321.1 300.0,320.6 300.8,320.3 301.7,319.9 302.5,319.6 303.4,319.2 304.3,318.9 305.2,318.5 306.1,318.1 307.0,317.7 308.0,317.3 309.1,316.9 310.2,316.5 311.3,316.0 312.5,315.6 313.7,315.1 315.0,314.6 315.8,314.3 316.7,313.9 317.7,313.6 318.7,313.2 319.8,312.8 320.9,312.4 322.0,311.9 323.1,311.5 324.3,311.1 325.5,310.6 326.7,310.2 327.8,309.7 329.0,309.3 330.2,308.9 331.3,308.4 332.4,308.0 333.5,307.6 334.5,307.2 335.5,306.9 336.4,306.5 337.3,306.2 338.1,305.9 338.8,305.6 339.5,305.4 340.0,305.2" fill="none" stroke="#c04ae4" stroke-width="0.9" stroke-linejoin="round" opacity="1.0"/><path fill="#c04ae4" d="M199.3 346.2L200.5 347.5L199.3 348.8L198.1 347.5zM201 346.1L202.2 347.4L201 348.7L199.8 347.4zM202.7 346.1L203.9 347.3L202.7 348.6L201.5 347.3zM204.4 346L205.6 347.2L204.4 348.5L203.2 347.2zM206.1 345.9L207.3 347.1L206.1 348.4L204.9 347.1zM207.8 345.8L209 347.1L207.8 348.3L206.6 347.1zM209.5 345.7L210.7 347L209.5 348.2L208.3 347zM211.2 345.6L212.4 346.9L211.2 348.1L210 346.9zM212.9 345.5L214.1 346.8L212.9 348L211.7 346.8zM214.6 345.4L215.8 346.7L214.6 347.9L213.4 346.7zM216.3 345.3L217.5 346.6L216.3 347.8L215.1 346.6zM218 345.2L219.2 346.5L218 347.7L216.8 346.5zM219.7 345.1L220.9 346.3L219.7 347.6L218.5 346.3zM221.4 345L222.6 346.2L221.4 347.5L220.2 346.2zM223.1 344.8L224.3 346.1L223.1 347.3L221.9 346.1zM224.8 344.7L226 345.9L224.8 347.2L223.6 345.9zM226.5 344.5L227.7 345.7L226.5 347L225.3 345.7zM228.2 344.3L229.4 345.5L228.2 346.8L227 345.5zM229.9 344L231.1 345.2L229.9 346.5L228.7 345.2zM231.6 343.6L232.8 344.9L231.6 346.2L230.4 344.9zM233.3 343.3L234.5 344.5L233.3 345.8L232.1 344.5zM235 342.8L236.2 344.1L235 345.3L233.8 344.1zM236.7 342.4L237.9 343.6L236.7 344.9L235.5 343.6zM238.4 341.9L239.6 343.2L238.4 344.4L237.2 343.2zM240.1 341.5L241.3 342.8L240.1 344L238.9 342.8zM241.8 341.1L243 342.4L241.8 343.7L240.6 342.4zM243.5 340.8L244.7 342L243.5 343.3L242.3 342zM245.2 340.4L246.4 341.6L245.2 342.9L244 341.6zM246.9 340L248.1 341.2L246.9 342.5L245.7 341.2zM248.6 339.6L249.8 340.8L248.6 342.1L247.4 340.8zM250.3 339.2L251.5 340.4L250.3 341.7L249.1 340.4zM252 338.8L253.2 340L252 341.3L250.8 340zM253.7 338.3L254.9 339.6L253.7 340.9L252.5 339.6zM255.4 337.9L256.6 339.2L255.4 340.4L254.2 339.2zM257.1 337.4L258.3 338.7L257.1 340L255.9 338.7zM258.8 337L260 338.2L258.8 339.5L257.6 338.2zM260.5 336.5L261.7 337.8L260.5 339L259.3 337.8zM262.2 336L263.4 337.3L262.2 338.6L261 337.3zM263.9 335.6L265.1 336.8L263.9 338.1L262.7 336.8zM265.6 335.1L266.8 336.3L265.6 337.6L264.4 336.3zM267.3 334.6L268.5 335.8L267.3 337.1L266.1 335.8zM269 334L270.2 335.3L269 336.6L267.8 335.3zM270.7 333.5L271.9 334.8L270.7 336L269.5 334.8zM272.4 332.9L273.6 334.2L272.4 335.5L271.2 334.2zM274.1 332.3L275.3 333.6L274.1 334.9L272.9 333.6zM275.8 331.6L277 332.9L275.8 334.2L274.6 332.9zM277.5 330.8L278.7 332L277.5 333.3L276.3 332zM279.2 329.8L280.4 331L279.2 332.3L278 331zM280.9 328.8L282.1 330.1L280.9 331.4L279.7 330.1zM282.6 327.8L283.8 329.1L282.6 330.4L281.4 329.1zM284.3 326.8L285.5 328.1L284.3 329.3L283.1 328.1zM286 325.8L287.2 327L286 328.3L284.8 327zM287.7 324.8L288.9 326L287.7 327.3L286.5 326zM289.4 323.9L290.6 325.1L289.4 326.4L288.2 325.1zM291.1 323L292.3 324.3L291.1 325.5L289.9 324.3zM292.8 322.2L294 323.5L292.8 324.8L291.6 323.5zM294.5 321.5L295.7 322.8L294.5 324L293.3 322.8zM296.2 320.9L297.4 322.1L296.2 323.4L295 322.1zM297.9 320.2L299.1 321.4L297.9 322.7L296.7 321.4zM299.6 319.5L300.8 320.8L299.6 322L298.4 320.8zM301.3 318.8L302.5 320.1L301.3 321.3L300.1 320.1zM303 318.1L304.2 319.4L303 320.6L301.8 319.4zM304.7 317.4L305.9 318.7L304.7 319.9L303.5 318.7zM306.4 316.7L307.6 318L306.4 319.3L305.2 318zM308.1 316L309.3 317.3L308.1 318.6L306.9 317.3zM309.8 315.4L311 316.6L309.8 317.9L308.6 316.6zM311.5 314.7L312.7 316L311.5 317.2L310.3 316zM313.2 314L314.4 315.3L313.2 316.6L312 315.3zM314.9 313.4L316.1 314.6L314.9 315.9L313.7 314.6zM316.6 312.7L317.8 314L316.6 315.2L315.4 314zM318.3 312.1L319.5 313.3L318.3 314.6L317.1 313.3zM320 311.4L321.2 312.7L320 314L318.8 312.7zM321.7 310.8L322.9 312.1L321.7 313.3L320.5 312.1zM323.4 310.2L324.6 311.4L323.4 312.7L322.2 311.4zM325.1 309.5L326.3 310.8L325.1 312L323.9 310.8zM326.8 308.9L328 310.1L326.8 311.4L325.6 310.1zM328.5 308.2L329.7 309.5L328.5 310.8L327.3 309.5zM330.2 307.6L331.4 308.9L330.2 310.1L329 308.9zM331.9 307L333.1 308.2L331.9 309.5L330.7 308.2zM333.6 306.3L334.8 307.6L333.6 308.9L332.4 307.6zM335.3 305.7L336.5 307L335.3 308.2L334.1 307zM337 305.1L338.2 306.3L337 307.6L335.8 306.3zM338.7 304.4L339.9 305.7L338.7 306.9L337.5 305.7z"/><polyline points="199.3,359.3 200.3,359.2 201.3,359.2 202.3,359.2 203.3,359.1 204.3,359.1 205.3,359.1 206.3,359.0 207.3,359.0 208.3,358.9 209.3,358.9 210.3,358.8 211.3,358.8 212.3,358.7 213.3,358.7 214.3,358.6 215.3,358.5 216.3,358.5 217.3,358.4 218.3,358.3 219.3,358.3 220.3,358.2 221.3,358.1 222.3,358.0 223.3,357.9 224.3,357.8 225.3,357.8 226.3,357.7 227.3,357.6 228.3,357.5 229.3,357.4 230.3,357.3 231.3,357.2 232.3,357.1 233.3,356.9 234.3,356.8 235.3,356.7 236.3,356.6 237.3,356.5 238.3,356.4 239.3,356.2 240.3,356.1 241.3,356.0 242.3,355.8 243.3,355.7 244.3,355.6 245.3,355.4 246.3,355.3 247.3,355.1 248.3,355.0 249.3,354.8 250.3,354.7 251.3,354.5 252.3,354.3 253.3,354.2 254.3,354.0 255.3,353.8 256.3,353.7 257.3,353.5 258.3,353.3 259.3,353.1 260.3,353.0 261.3,352.8 262.3,352.6 263.3,352.4 264.3,352.2 265.3,352.0 266.3,351.8 267.3,351.6 268.3,351.4 269.3,351.2 270.3,351.0 271.3,350.7 272.3,350.5 273.3,350.3 274.3,350.1 275.3,349.9 276.3,349.6 277.3,349.4 278.3,349.2 279.3,348.9 280.3,348.7 281.3,348.4 282.3,348.2 283.3,347.9 284.3,347.7 285.3,347.4 286.3,347.2 287.3,346.9 288.3,346.7 289.3,346.4 290.3,346.1 291.3,345.8 292.3,345.6 293.3,345.3 294.3,345.0 295.3,344.7 296.3,344.4 297.3,344.1 298.3,343.8 299.3,343.5 300.3,343.2 301.3,342.9 302.3,342.6 303.3,342.3 304.3,342.0 305.3,341.7 306.3,341.4 307.3,341.1 308.3,340.7 309.3,340.4 310.3,340.1 311.3,339.7 312.3,339.4 313.3,339.1 314.3,338.7 315.3,338.4 316.3,338.0 317.3,337.7 318.3,337.3 319.3,337.0 320.3,336.6 321.3,336.2 322.3,335.9 323.3,335.5 324.3,335.1 325.3,334.7 326.3,334.4 327.3,334.0 328.3,333.6 329.3,333.2 330.3,332.8 331.3,332.4 332.3,332.0 333.3,331.6 334.3,331.2 335.3,330.8 336.3,330.4 337.3,330.0 338.3,329.5 339.3,329.1 340.0,328.8" fill="none" stroke="#eb9a1a" stroke-width="0.9" stroke-linejoin="round" opacity="1.0"/><path fill="#eb9a1a" d="M198.1 359.3L200.2 358V360.5zM199.8 359.2L201.9 358V360.4zM201.5 359.2L203.6 357.9V360.4zM203.2 359.1L205.3 357.9V360.3zM204.9 359L207 357.8V360.3zM206.6 359L208.7 357.7V360.2zM208.3 358.9L210.4 357.7V360.1zM210 358.8L212.1 357.6V360zM211.7 358.7L213.8 357.5V359.9zM213.4 358.6L215.5 357.4V359.8zM215.1 358.5L217.2 357.2V359.7zM216.8 358.4L218.9 357.1V359.6zM218.5 358.2L220.6 357V359.5zM220.2 358.1L222.3 356.9V359.3zM221.9 358L224 356.7V359.2zM223.6 357.8L225.7 356.6V359zM225.3 357.6L227.4 356.4V358.9zM227 357.5L229.1 356.3V358.7zM228.7 357.3L230.8 356.1V358.5zM230.4 357.1L232.5 355.9V358.4zM232.1 356.9L234.2 355.7V358.2zM233.8 356.8L235.9 355.5V358zM235.5 356.6L237.6 355.3V357.8zM237.2 356.3L239.3 355.1V357.6zM238.9 356.1L241 354.9V357.4zM240.6 355.9L242.7 354.7V357.1zM242.3 355.7L244.4 354.4V356.9zM244 355.4L246.1 354.2V356.7zM245.7 355.2L247.8 354V356.4zM247.4 354.9L249.5 353.7V356.2zM249.1 354.7L251.2 353.4V355.9zM250.8 354.4L252.9 353.2V355.6zM252.5 354.1L254.6 352.9V355.3zM254.2 353.8L256.3 352.6V355zM255.9 353.5L258 352.3V354.8zM257.6 353.2L259.7 352V354.4zM259.3 352.9L261.4 351.7V354.1zM261 352.6L263.1 351.4V353.8zM262.7 352.3L264.8 351V353.5zM264.4 351.9L266.5 350.7V353.2zM266.1 351.6L268.2 350.4V352.8zM267.8 351.2L269.9 350V352.5zM269.5 350.9L271.6 349.6V352.1zM271.2 350.5L273.3 349.3V351.7zM272.9 350.1L275 348.9V351.4zM274.6 349.7L276.7 348.5V351zM276.3 349.3L278.4 348.1V350.6zM278 348.9L280.1 347.7V350.2zM279.7 348.5L281.8 347.3V349.8zM281.4 348.1L283.5 346.9V349.3zM283.1 347.7L285.2 346.5V348.9zM284.8 347.3L286.9 346V348.5zM286.5 346.8L288.6 345.6V348zM288.2 346.4L290.3 345.1V347.6zM289.9 345.9L292 344.7V347.1zM291.6 345.4L293.7 344.2V346.6zM293.3 344.9L295.4 343.7V346.2zM295 344.5L297.1 343.2V345.7zM296.7 344L298.8 342.7V345.2zM298.4 343.5L300.5 342.2V344.7zM300.1 342.9L302.2 341.7V344.2zM301.8 342.4L303.9 341.2V343.6zM303.5 341.9L305.6 340.7V343.1zM305.2 341.4L307.3 340.1V342.6zM306.9 340.8L309 339.6V342zM308.6 340.2L310.7 339V341.5zM310.3 339.7L312.4 338.5V340.9zM312 339.1L314.1 337.9V340.3zM313.7 338.5L315.8 337.3V339.7zM315.4 337.9L317.5 336.7V339.1zM317.1 337.3L319.2 336.1V338.5zM318.8 336.7L320.9 335.5V337.9zM320.5 336.1L322.6 334.9V337.3zM322.2 335.5L324.3 334.2V336.7zM323.9 334.8L326 333.6V336zM325.6 334.2L327.7 332.9V335.4zM327.3 333.5L329.4 332.3V334.7zM329 332.8L331.1 331.6V334.1zM330.7 332.2L332.8 330.9V333.4zM332.4 331.5L334.5 330.3V332.7zM334.1 330.8L336.2 329.6V332zM335.8 330.1L337.9 328.9V331.3zM337.5 329.4L339.6 328.2V330.6z"/><polyline points="199.3,361.9 200.3,361.9 201.3,361.9 202.3,361.9 203.3,361.9 204.3,361.8 205.3,361.8 206.3,361.8 207.3,361.7 208.3,361.7 209.3,361.6 210.3,361.6 211.3,361.5 212.3,361.5 213.3,361.4 214.3,361.3 215.3,361.3 216.3,361.2 217.3,361.1 218.3,361.1 219.3,361.0 220.3,360.9 221.3,360.8 222.3,360.7 223.3,360.6 224.3,360.5 225.3,360.4 226.3,360.3 227.3,360.2 228.3,360.1 229.3,360.0 230.3,359.9 231.3,359.7 232.3,359.6 233.3,359.5 234.3,359.4 235.3,359.2 236.3,359.1 237.3,359.0 238.3,358.8 239.3,358.7 240.3,358.5 241.3,358.4 242.3,358.2 243.3,358.1 244.3,357.9 245.3,357.8 246.3,357.6 247.3,357.4 248.3,357.3 249.3,357.1 250.3,356.9 251.3,356.7 252.3,356.5 253.3,356.4 254.3,356.2 255.3,356.0 256.3,355.8 257.3,355.6 258.3,355.4 259.3,355.2 260.3,355.0 261.3,354.8 262.3,354.6 263.3,354.4 264.3,354.2 265.3,354.0 266.3,353.8 267.3,353.6 268.3,353.3 269.3,353.1 270.3,352.9 271.3,352.7 272.3,352.4 273.3,352.2 274.3,352.0 275.3,351.8 276.3,351.5 277.3,351.3 278.3,351.0 279.3,350.8 280.3,350.6 281.3,350.3 282.3,350.1 283.3,349.8 284.3,349.6 285.3,349.3 286.3,349.1 287.3,348.8 288.3,348.5 289.3,348.3 290.3,348.0 291.3,347.8 292.3,347.5 293.3,347.2 294.3,347.0 295.3,346.7 296.3,346.4 297.3,346.1 298.3,345.9 299.3,345.6 300.3,345.3 301.3,345.0 302.3,344.7 303.3,344.5 304.3,344.2 305.3,343.9 306.3,343.6 307.3,343.3 308.3,343.0 309.3,342.7 310.3,342.4 311.3,342.2 312.3,341.9 313.3,341.6 314.3,341.3 315.3,341.0 316.3,340.7 317.3,340.4 318.3,340.1 319.3,339.8 320.3,339.5 321.3,339.2 322.3,338.8 323.3,338.5 324.3,338.2 325.3,337.9 326.3,337.6 327.3,337.3 328.3,337.0 329.3,336.7 330.3,336.4 331.3,336.1 332.3,335.7 333.3,335.4 334.3,335.1 335.3,334.8 336.3,334.5 337.3,334.2 338.3,333.8 339.3,333.5 340.0,333.3" fill="none" stroke="#14c4d4" stroke-width="0.9" stroke-linejoin="round" opacity="1.0"/><path fill="#14c4d4" d="M200.5 361.9L198.4 360.7V363.2zM202.2 361.9L200.1 360.7V363.1zM203.9 361.9L201.8 360.6V363.1zM205.6 361.8L203.5 360.6V363zM207.3 361.8L205.2 360.5V363zM209 361.7L206.9 360.5V362.9zM210.7 361.6L208.6 360.4V362.8zM212.4 361.5L210.3 360.3V362.8zM214.1 361.4L212 360.2V362.7zM215.8 361.3L213.7 360.1V362.5zM217.5 361.2L215.4 360V362.4zM219.2 361.1L217.1 359.9V362.3zM220.9 360.9L218.8 359.7V362.2zM222.6 360.8L220.5 359.6V362zM224.3 360.6L222.2 359.4V361.9zM226 360.5L223.9 359.2V361.7zM227.7 360.3L225.6 359.1V361.5zM229.4 360.1L227.3 358.9V361.3zM231.1 359.9L229 358.7V361.1zM232.8 359.7L230.7 358.5V360.9zM234.5 359.5L232.4 358.3V360.7zM236.2 359.3L234.1 358V360.5zM237.9 359L235.8 357.8V360.3zM239.6 358.8L237.5 357.6V360zM241.3 358.6L239.2 357.3V359.8zM243 358.3L240.9 357.1V359.5zM244.7 358L242.6 356.8V359.3zM246.4 357.8L244.3 356.5V359zM248.1 357.5L246 356.3V358.7zM249.8 357.2L247.7 356V358.4zM251.5 356.9L249.4 355.7V358.1zM253.2 356.6L251.1 355.4V357.8zM254.9 356.3L252.8 355.1V357.5zM256.6 356L254.5 354.8V357.2zM258.3 355.7L256.2 354.4V356.9zM260 355.3L257.9 354.1V356.5zM261.7 355L259.6 353.8V356.2zM263.4 354.6L261.3 353.4V355.9zM265.1 354.3L263 353.1V355.5zM266.8 353.9L264.7 352.7V355.1zM268.5 353.6L266.4 352.3V354.8zM270.2 353.2L268.1 352V354.4zM271.9 352.8L269.8 351.6V354zM273.6 352.4L271.5 351.2V353.6zM275.3 352L273.2 350.8V353.3zM277 351.6L274.9 350.4V352.9zM278.7 351.2L276.6 350V352.5zM280.4 350.8L278.3 349.6V352zM282.1 350.4L280 349.2V351.6zM283.8 350L281.7 348.8V351.2zM285.5 349.6L283.4 348.3V350.8zM287.2 349.1L285.1 347.9V350.4zM288.9 348.7L286.8 347.5V349.9zM290.6 348.3L288.5 347V349.5zM292.3 347.8L290.2 346.6V349zM294 347.4L291.9 346.1V348.6zM295.7 346.9L293.6 345.7V348.1zM297.4 346.4L295.3 345.2V347.7zM299.1 346L297 344.7V347.2zM300.8 345.5L298.7 344.3V346.7zM302.5 345L300.4 343.8V346.2zM304.2 344.5L302.1 343.3V345.8zM305.9 344.1L303.8 342.8V345.3zM307.6 343.6L305.5 342.4V344.8zM309.3 343.1L307.2 341.9V344.3zM311 342.6L308.9 341.4V343.8zM312.7 342.1L310.6 340.9V343.3zM314.4 341.6L312.3 340.4V342.8zM316.1 341.1L314 339.9V342.3zM317.8 340.6L315.7 339.4V341.8zM319.5 340.1L317.4 338.8V341.3zM321.2 339.5L319.1 338.3V340.8zM322.9 339L320.8 337.8V340.3zM324.6 338.5L322.5 337.3V339.7zM326.3 338L324.2 336.8V339.2zM328 337.5L325.9 336.2V338.7zM329.7 336.9L327.6 335.7V338.2zM331.4 336.4L329.3 335.2V337.6zM333.1 335.9L331 334.6V337.1zM334.8 335.3L332.7 334.1V336.6zM336.5 334.8L334.4 333.6V336zM338.2 334.2L336.1 333V335.5zM339.9 333.7L337.8 332.5V334.9z"/><rect x="196.80" y="278.00" width="143.60" height="108.10" fill="none" stroke="#333" stroke-width="1.25"/><text x="4.60" y="413.90" font-size="9.6" text-anchor="start" >G</text><line x1="25.40" y1="414.00" x2="27.40" y2="414.00" stroke="#303030" stroke-width="0.9"/><text x="22.00" y="416.10" font-size="6.3" text-anchor="end">10</text><text x="24.10" y="413.60" font-size="3.8" text-anchor="end">4</text><line x1="25.40" y1="442.30" x2="27.40" y2="442.30" stroke="#303030" stroke-width="0.9"/><text x="22.00" y="444.40" font-size="6.3" text-anchor="end">10</text><text x="24.10" y="441.90" font-size="3.8" text-anchor="end">3</text><line x1="25.40" y1="470.60" x2="27.40" y2="470.60" stroke="#303030" stroke-width="0.9"/><text x="22.00" y="472.70" font-size="6.3" text-anchor="end">10</text><text x="24.10" y="470.20" font-size="3.8" text-anchor="end">2</text><line x1="25.40" y1="498.90" x2="27.40" y2="498.90" stroke="#303030" stroke-width="0.9"/><text x="22.00" y="501.00" font-size="6.3" text-anchor="end">10</text><text x="24.10" y="498.50" font-size="3.8" text-anchor="end">1</text><line x1="25.40" y1="527.20" x2="27.40" y2="527.20" stroke="#303030" stroke-width="0.9"/><text x="22.00" y="529.30" font-size="6.3" text-anchor="end">10</text><text x="24.10" y="526.80" font-size="3.8" text-anchor="end">0</text><line x1="26.30" y1="433.78" x2="27.40" y2="433.78" stroke="#303030" stroke-width="0.6"/><line x1="26.30" y1="428.80" x2="27.40" y2="428.80" stroke="#303030" stroke-width="0.6"/><line x1="26.30" y1="425.26" x2="27.40" y2="425.26" stroke="#303030" stroke-width="0.6"/><line x1="26.30" y1="422.52" x2="27.40" y2="422.52" stroke="#303030" stroke-width="0.6"/><line x1="26.30" y1="420.28" x2="27.40" y2="420.28" stroke="#303030" stroke-width="0.6"/><line x1="26.30" y1="418.38" x2="27.40" y2="418.38" stroke="#303030" stroke-width="0.6"/><line x1="26.30" y1="416.74" x2="27.40" y2="416.74" stroke="#303030" stroke-width="0.6"/><line x1="26.30" y1="415.29" x2="27.40" y2="415.29" stroke="#303030" stroke-width="0.6"/><line x1="26.30" y1="462.08" x2="27.40" y2="462.08" stroke="#303030" stroke-width="0.6"/><line x1="26.30" y1="457.10" x2="27.40" y2="457.10" stroke="#303030" stroke-width="0.6"/><line x1="26.30" y1="453.56" x2="27.40" y2="453.56" stroke="#303030" stroke-width="0.6"/><line x1="26.30" y1="450.82" x2="27.40" y2="450.82" stroke="#303030" stroke-width="0.6"/><line x1="26.30" y1="448.58" x2="27.40" y2="448.58" stroke="#303030" stroke-width="0.6"/><line x1="26.30" y1="446.68" x2="27.40" y2="446.68" stroke="#303030" stroke-width="0.6"/><line x1="26.30" y1="445.04" x2="27.40" y2="445.04" stroke="#303030" stroke-width="0.6"/><line x1="26.30" y1="443.59" x2="27.40" y2="443.59" stroke="#303030" stroke-width="0.6"/><line x1="26.30" y1="490.38" x2="27.40" y2="490.38" stroke="#303030" stroke-width="0.6"/><line x1="26.30" y1="485.40" x2="27.40" y2="485.40" stroke="#303030" stroke-width="0.6"/><line x1="26.30" y1="481.86" x2="27.40" y2="481.86" stroke="#303030" stroke-width="0.6"/><line x1="26.30" y1="479.12" x2="27.40" y2="479.12" stroke="#303030" stroke-width="0.6"/><line x1="26.30" y1="476.88" x2="27.40" y2="476.88" stroke="#303030" stroke-width="0.6"/><line x1="26.30" y1="474.98" x2="27.40" y2="474.98" stroke="#303030" stroke-width="0.6"/><line x1="26.30" y1="473.34" x2="27.40" y2="473.34" stroke="#303030" stroke-width="0.6"/><line x1="26.30" y1="471.89" x2="27.40" y2="471.89" stroke="#303030" stroke-width="0.6"/><line x1="26.30" y1="518.68" x2="27.40" y2="518.68" stroke="#303030" stroke-width="0.6"/><line x1="26.30" y1="513.70" x2="27.40" y2="513.70" stroke="#303030" stroke-width="0.6"/><line x1="26.30" y1="510.16" x2="27.40" y2="510.16" stroke="#303030" stroke-width="0.6"/><line x1="26.30" y1="507.42" x2="27.40" y2="507.42" stroke="#303030" stroke-width="0.6"/><line x1="26.30" y1="505.18" x2="27.40" y2="505.18" stroke="#303030" stroke-width="0.6"/><line x1="26.30" y1="503.28" x2="27.40" y2="503.28" stroke="#303030" stroke-width="0.6"/><line x1="26.30" y1="501.64" x2="27.40" y2="501.64" stroke="#303030" stroke-width="0.6"/><line x1="26.30" y1="500.19" x2="27.40" y2="500.19" stroke="#303030" stroke-width="0.6"/><line x1="33.60" y1="527.30" x2="33.60" y2="529.50" stroke="#303030" stroke-width="0.8"/><text x="33.60" y="536.20" font-size="6.3" text-anchor="middle" >0.1</text><line x1="100.80" y1="527.30" x2="100.80" y2="529.50" stroke="#303030" stroke-width="0.8"/><text x="100.80" y="536.20" font-size="6.3" text-anchor="middle" >1</text><line x1="168.00" y1="527.30" x2="168.00" y2="529.50" stroke="#303030" stroke-width="0.8"/><text x="168.00" y="536.20" font-size="6.3" text-anchor="middle" >10</text><line x1="53.83" y1="527.30" x2="53.83" y2="528.50" stroke="#303030" stroke-width="0.6"/><line x1="65.66" y1="527.30" x2="65.66" y2="528.50" stroke="#303030" stroke-width="0.6"/><line x1="74.06" y1="527.30" x2="74.06" y2="528.50" stroke="#303030" stroke-width="0.6"/><line x1="80.57" y1="527.30" x2="80.57" y2="528.50" stroke="#303030" stroke-width="0.6"/><line x1="85.89" y1="527.30" x2="85.89" y2="528.50" stroke="#303030" stroke-width="0.6"/><line x1="90.39" y1="527.30" x2="90.39" y2="528.50" stroke="#303030" stroke-width="0.6"/><line x1="94.29" y1="527.30" x2="94.29" y2="528.50" stroke="#303030" stroke-width="0.6"/><line x1="97.73" y1="527.30" x2="97.73" y2="528.50" stroke="#303030" stroke-width="0.6"/><line x1="121.03" y1="527.30" x2="121.03" y2="528.50" stroke="#303030" stroke-width="0.6"/><line x1="132.86" y1="527.30" x2="132.86" y2="528.50" stroke="#303030" stroke-width="0.6"/><line x1="141.26" y1="527.30" x2="141.26" y2="528.50" stroke="#303030" stroke-width="0.6"/><line x1="147.77" y1="527.30" x2="147.77" y2="528.50" stroke="#303030" stroke-width="0.6"/><line x1="153.09" y1="527.30" x2="153.09" y2="528.50" stroke="#303030" stroke-width="0.6"/><line x1="157.59" y1="527.30" x2="157.59" y2="528.50" stroke="#303030" stroke-width="0.6"/><line x1="161.49" y1="527.30" x2="161.49" y2="528.50" stroke="#303030" stroke-width="0.6"/><line x1="164.93" y1="527.30" x2="164.93" y2="528.50" stroke="#303030" stroke-width="0.6"/><text x="76.00" y="544.10" font-size="8.7" textLength="52.3" lengthAdjust="spacingAndGlyphs">Frequency(Hz)</text><text x="0" y="0" font-size="8.7" textLength="75.5" lengthAdjust="spacingAndGlyphs" transform="translate(11.70,510.50) rotate(-90)">Storage modulus G'(Pa)</text><rect x="38.95" y="418.75" width="2.31" height="2.31" fill="#2a2a2a"/><text x="47.20" y="421.75" font-size="5.05" text-anchor="start" >WNPU/KC</text><circle cx="79.80" cy="419.90" r="1.52" fill="#ff1a1a"/><text x="86.90" y="421.75" font-size="5.05" text-anchor="start" >U-200W</text><polygon points="114.50,418.22 112.72,421.26 116.28,421.26" fill="#0a64e8"/><text x="121.60" y="421.75" font-size="5.05" text-anchor="start" >U-0W-TG</text><polygon points="40.10,428.58 38.32,425.53 41.88,425.53" fill="#00985a"/><text x="47.20" y="428.75" font-size="5.05" text-anchor="start" >U-100W-TG</text><polygon points="84.10,425.06 85.78,426.90 84.10,428.74 82.42,426.90" fill="#c04ae4"/><text x="91.20" y="428.75" font-size="5.05" text-anchor="start" >U-200W-TG</text><polygon points="126.22,426.90 129.27,425.11 129.27,428.69" fill="#eb9a1a"/><text x="135.00" y="428.75" font-size="5.05" text-anchor="start" >U-300W-TG</text><polygon points="41.78,433.30 38.73,431.51 38.73,435.09" fill="#14c4d4"/><text x="47.20" y="435.15" font-size="5.05" text-anchor="start" >U-400W-TG</text><path fill="#2a2a2a" d="M33.2 508.6h2.4v2.4h-2.4zM41.6 508.2h2.4v2.4h-2.4zM49.9 507.8h2.4v2.4h-2.4zM58.3 507.1h2.4v2.4h-2.4zM66.6 506.7h2.4v2.4h-2.4zM75 506.1h2.4v2.4h-2.4zM83.3 505.6h2.4v2.4h-2.4zM91.7 505.2h2.4v2.4h-2.4zM100 504.8h2.4v2.4h-2.4zM108.4 504.8h2.4v2.4h-2.4zM116.7 505.5h2.4v2.4h-2.4zM125.1 507h2.4v2.4h-2.4zM133.4 508.4h2.4v2.4h-2.4zM141.8 509h2.4v2.4h-2.4zM150.1 509.5h2.4v2.4h-2.4zM158.5 509.5h2.4v2.4h-2.4zM166.8 509.9h2.4v2.4h-2.4z"/><path fill="#ff1a1a" d="M32.8 477.5a1.6 1.6 0 1 0 3.1 0a1.6 1.6 0 1 0 -3.1 0zM41.2 477.1a1.6 1.6 0 1 0 3.1 0a1.6 1.6 0 1 0 -3.1 0zM49.5 476.5a1.6 1.6 0 1 0 3.1 0a1.6 1.6 0 1 0 -3.1 0zM57.9 476a1.6 1.6 0 1 0 3.1 0a1.6 1.6 0 1 0 -3.1 0zM66.2 475.4a1.6 1.6 0 1 0 3.1 0a1.6 1.6 0 1 0 -3.1 0zM74.6 475a1.6 1.6 0 1 0 3.1 0a1.6 1.6 0 1 0 -3.1 0zM82.9 474.4a1.6 1.6 0 1 0 3.1 0a1.6 1.6 0 1 0 -3.1 0zM91.3 473.9a1.6 1.6 0 1 0 3.1 0a1.6 1.6 0 1 0 -3.1 0zM99.6 472.9a1.6 1.6 0 1 0 3.1 0a1.6 1.6 0 1 0 -3.1 0zM108 472.4a1.6 1.6 0 1 0 3.1 0a1.6 1.6 0 1 0 -3.1 0zM116.3 472a1.6 1.6 0 1 0 3.1 0a1.6 1.6 0 1 0 -3.1 0zM124.7 471.8a1.6 1.6 0 1 0 3.1 0a1.6 1.6 0 1 0 -3.1 0zM133 471.5a1.6 1.6 0 1 0 3.1 0a1.6 1.6 0 1 0 -3.1 0zM141.4 471.8a1.6 1.6 0 1 0 3.1 0a1.6 1.6 0 1 0 -3.1 0zM149.7 472.2a1.6 1.6 0 1 0 3.1 0a1.6 1.6 0 1 0 -3.1 0zM158.1 472.9a1.6 1.6 0 1 0 3.1 0a1.6 1.6 0 1 0 -3.1 0zM166.4 475.1a1.6 1.6 0 1 0 3.1 0a1.6 1.6 0 1 0 -3.1 0z"/><path fill="#0a64e8" d="M34.4 481.1L32.6 484.2H36.2zM42.8 480.5L40.9 483.6H44.6zM51.1 479.4L49.3 482.5H52.9zM59.4 479L57.6 482.1H61.3zM67.8 478.6L66 481.7H69.6zM76.2 477.9L74.3 481H78zM84.5 477.3L82.7 480.4H86.3zM92.8 476.9L91 480H94.7zM101.2 476.1L99.4 479.2H103zM109.5 475.9L107.7 479H111.4zM117.9 475.4L116.1 478.5H119.7zM126.2 475L124.4 478.1H128.1zM134.6 475L132.8 478.1H136.4zM142.9 475L141.1 478.1H144.8zM151.3 475.6L149.5 478.7H153.1zM159.7 477.8L157.8 480.9H161.5zM168 482.3L166.2 485.4H169.8z"/><path fill="#00985a" d="M34.4 466.7L32.6 463.6H36.2zM42.8 466.3L40.9 463.2H44.6zM51.1 465.5L49.3 462.4H52.9zM59.4 465.1L57.6 462H61.3zM67.8 464.6L66 461.5H69.6zM76.2 464.2L74.3 461.1H78zM84.5 463.6L82.7 460.5H86.3zM92.8 463.4L91 460.3H94.7zM101.2 463L99.4 459.9H103zM109.5 462.3L107.7 459.2H111.4zM117.9 461.8L116.1 458.7H119.7zM126.2 461.4L124.4 458.3H128.1zM134.6 461.2L132.8 458.1H136.4zM142.9 461L141.1 457.9H144.8zM151.3 460.7L149.5 457.6H153.1zM159.7 461L157.8 457.9H161.5zM168 461.4L166.2 458.3H169.8z"/><path fill="#c04ae4" d="M34.4 449.2L36.1 451.1L34.4 453L32.7 451.1zM42.8 448.8L44.5 450.7L42.8 452.6L41 450.7zM51.1 448.3L52.8 450.2L51.1 452.1L49.4 450.2zM59.4 447.9L61.2 449.8L59.4 451.7L57.7 449.8zM67.8 447.5L69.5 449.4L67.8 451.3L66.1 449.4zM76.2 447.1L77.9 449L76.2 450.9L74.4 449zM84.5 446.6L86.2 448.5L84.5 450.4L82.8 448.5zM92.8 446.2L94.6 448.1L92.8 450L91.1 448.1zM101.2 446L102.9 447.9L101.2 449.8L99.5 447.9zM109.5 445.5L111.3 447.4L109.5 449.3L107.8 447.4zM117.9 445.1L119.6 447L117.9 448.9L116.2 447zM126.2 444.6L128 446.5L126.2 448.4L124.5 446.5zM134.6 444.2L136.3 446.1L134.6 448L132.9 446.1zM142.9 443.7L144.7 445.6L142.9 447.5L141.2 445.6zM151.3 443.3L153 445.2L151.3 447.1L149.6 445.2zM159.7 443.1L161.4 445L159.7 446.9L157.9 445zM168 443.1L169.7 445L168 446.9L166.3 445z"/><path fill="#eb9a1a" d="M32.7 473.3L35.8 471.5V475.1zM41 472.7L44.2 470.9V474.5zM49.4 472.2L52.5 470.4V474zM57.7 471.8L60.9 470V473.6zM66.1 471.4L69.2 469.6V473.2zM74.4 471L77.6 469.2V472.8zM82.8 470.3L85.9 468.5V472.1zM91.1 470.1L94.3 468.3V471.9zM99.5 469.5L102.6 467.7V471.3zM107.8 469.1L111 467.3V470.9zM116.2 468.8L119.3 467V470.6zM124.5 468.6L127.7 466.8V470.4zM132.9 468.4L136 466.6V470.2zM141.2 468.2L144.4 466.4V470zM149.6 468.4L152.7 466.6V470.2zM157.9 469.1L161.1 467.3V470.9zM166.3 470.2L169.4 468.4V472z"/><path fill="#14c4d4" d="M36.1 476L33 474.2V477.8zM44.5 475.4L41.3 473.6V477.2zM52.8 475L49.7 473.2V476.8zM61.2 474.4L58 472.6V476.2zM69.5 473.9L66.4 472.1V475.7zM77.9 473.7L74.7 471.9V475.5zM86.2 473.3L83.1 471.5V475.1zM94.6 472.9L91.4 471.1V474.7zM102.9 471.8L99.8 470V473.6zM111.3 471.3L108.1 469.5V473.1zM119.6 470.9L116.5 469.1V472.7zM128 470.4L124.8 468.6V472.2zM136.3 470.2L133.2 468.4V472zM144.7 470.2L141.5 468.4V472zM153 470.6L149.9 468.8V472.4zM161.4 471.3L158.2 469.5V473.1zM169.7 471.8L166.6 470V473.6z"/><rect x="27.40" y="414.00" width="143.50" height="113.30" fill="none" stroke="#333" stroke-width="1.25"/><text x="179.60" y="412.20" font-size="9.6" text-anchor="start" >H</text><line x1="197.00" y1="426.40" x2="199.00" y2="426.40" stroke="#303030" stroke-width="0.9"/><text x="193.60" y="428.50" font-size="6.3" text-anchor="end">10</text><text x="195.70" y="426.00" font-size="3.8" text-anchor="end">3</text><line x1="197.00" y1="451.48" x2="199.00" y2="451.48" stroke="#303030" stroke-width="0.9"/><text x="193.60" y="453.58" font-size="6.3" text-anchor="end">10</text><text x="195.70" y="451.08" font-size="3.8" text-anchor="end">2</text><line x1="197.00" y1="476.56" x2="199.00" y2="476.56" stroke="#303030" stroke-width="0.9"/><text x="193.60" y="478.66" font-size="6.3" text-anchor="end">10</text><text x="195.70" y="476.16" font-size="3.8" text-anchor="end">1</text><line x1="197.00" y1="501.64" x2="199.00" y2="501.64" stroke="#303030" stroke-width="0.9"/><text x="193.60" y="503.74" font-size="6.3" text-anchor="end">10</text><text x="195.70" y="501.24" font-size="3.8" text-anchor="end">0</text><line x1="197.00" y1="526.72" x2="199.00" y2="526.72" stroke="#303030" stroke-width="0.9"/><text x="192.00" y="528.82" font-size="6.3" text-anchor="end">10</text><text x="195.70" y="526.32" font-size="3.8" text-anchor="end">-1</text><line x1="197.90" y1="418.85" x2="199.00" y2="418.85" stroke="#303030" stroke-width="0.6"/><line x1="197.90" y1="414.43" x2="199.00" y2="414.43" stroke="#303030" stroke-width="0.6"/><line x1="197.90" y1="443.93" x2="199.00" y2="443.93" stroke="#303030" stroke-width="0.6"/><line x1="197.90" y1="439.51" x2="199.00" y2="439.51" stroke="#303030" stroke-width="0.6"/><line x1="197.90" y1="436.38" x2="199.00" y2="436.38" stroke="#303030" stroke-width="0.6"/><line x1="197.90" y1="433.95" x2="199.00" y2="433.95" stroke="#303030" stroke-width="0.6"/><line x1="197.90" y1="431.96" x2="199.00" y2="431.96" stroke="#303030" stroke-width="0.6"/><line x1="197.90" y1="430.28" x2="199.00" y2="430.28" stroke="#303030" stroke-width="0.6"/><line x1="197.90" y1="428.83" x2="199.00" y2="428.83" stroke="#303030" stroke-width="0.6"/><line x1="197.90" y1="427.55" x2="199.00" y2="427.55" stroke="#303030" stroke-width="0.6"/><line x1="197.90" y1="469.01" x2="199.00" y2="469.01" stroke="#303030" stroke-width="0.6"/><line x1="197.90" y1="464.59" x2="199.00" y2="464.59" stroke="#303030" stroke-width="0.6"/><line x1="197.90" y1="461.46" x2="199.00" y2="461.46" stroke="#303030" stroke-width="0.6"/><line x1="197.90" y1="459.03" x2="199.00" y2="459.03" stroke="#303030" stroke-width="0.6"/><line x1="197.90" y1="457.04" x2="199.00" y2="457.04" stroke="#303030" stroke-width="0.6"/><line x1="197.90" y1="455.36" x2="199.00" y2="455.36" stroke="#303030" stroke-width="0.6"/><line x1="197.90" y1="453.91" x2="199.00" y2="453.91" stroke="#303030" stroke-width="0.6"/><line x1="197.90" y1="452.63" x2="199.00" y2="452.63" stroke="#303030" stroke-width="0.6"/><line x1="197.90" y1="494.09" x2="199.00" y2="494.09" stroke="#303030" stroke-width="0.6"/><line x1="197.90" y1="489.67" x2="199.00" y2="489.67" stroke="#303030" stroke-width="0.6"/><line x1="197.90" y1="486.54" x2="199.00" y2="486.54" stroke="#303030" stroke-width="0.6"/><line x1="197.90" y1="484.11" x2="199.00" y2="484.11" stroke="#303030" stroke-width="0.6"/><line x1="197.90" y1="482.12" x2="199.00" y2="482.12" stroke="#303030" stroke-width="0.6"/><line x1="197.90" y1="480.44" x2="199.00" y2="480.44" stroke="#303030" stroke-width="0.6"/><line x1="197.90" y1="478.99" x2="199.00" y2="478.99" stroke="#303030" stroke-width="0.6"/><line x1="197.90" y1="477.71" x2="199.00" y2="477.71" stroke="#303030" stroke-width="0.6"/><line x1="197.90" y1="519.17" x2="199.00" y2="519.17" stroke="#303030" stroke-width="0.6"/><line x1="197.90" y1="514.75" x2="199.00" y2="514.75" stroke="#303030" stroke-width="0.6"/><line x1="197.90" y1="511.62" x2="199.00" y2="511.62" stroke="#303030" stroke-width="0.6"/><line x1="197.90" y1="509.19" x2="199.00" y2="509.19" stroke="#303030" stroke-width="0.6"/><line x1="197.90" y1="507.20" x2="199.00" y2="507.20" stroke="#303030" stroke-width="0.6"/><line x1="197.90" y1="505.52" x2="199.00" y2="505.52" stroke="#303030" stroke-width="0.6"/><line x1="197.90" y1="504.07" x2="199.00" y2="504.07" stroke="#303030" stroke-width="0.6"/><line x1="197.90" y1="502.79" x2="199.00" y2="502.79" stroke="#303030" stroke-width="0.6"/><line x1="204.60" y1="527.20" x2="204.60" y2="529.40" stroke="#303030" stroke-width="0.8"/><text x="204.60" y="535.80" font-size="6.3" text-anchor="middle" >0.1</text><line x1="270.80" y1="527.20" x2="270.80" y2="529.40" stroke="#303030" stroke-width="0.8"/><text x="270.80" y="535.80" font-size="6.3" text-anchor="middle" >1</text><line x1="337.00" y1="527.20" x2="337.00" y2="529.40" stroke="#303030" stroke-width="0.8"/><text x="337.00" y="535.80" font-size="6.3" text-anchor="middle" >10</text><line x1="224.53" y1="527.20" x2="224.53" y2="528.40" stroke="#303030" stroke-width="0.6"/><line x1="236.19" y1="527.20" x2="236.19" y2="528.40" stroke="#303030" stroke-width="0.6"/><line x1="244.46" y1="527.20" x2="244.46" y2="528.40" stroke="#303030" stroke-width="0.6"/><line x1="250.87" y1="527.20" x2="250.87" y2="528.40" stroke="#303030" stroke-width="0.6"/><line x1="256.11" y1="527.20" x2="256.11" y2="528.40" stroke="#303030" stroke-width="0.6"/><line x1="260.55" y1="527.20" x2="260.55" y2="528.40" stroke="#303030" stroke-width="0.6"/><line x1="264.38" y1="527.20" x2="264.38" y2="528.40" stroke="#303030" stroke-width="0.6"/><line x1="267.77" y1="527.20" x2="267.77" y2="528.40" stroke="#303030" stroke-width="0.6"/><line x1="290.73" y1="527.20" x2="290.73" y2="528.40" stroke="#303030" stroke-width="0.6"/><line x1="302.39" y1="527.20" x2="302.39" y2="528.40" stroke="#303030" stroke-width="0.6"/><line x1="310.66" y1="527.20" x2="310.66" y2="528.40" stroke="#303030" stroke-width="0.6"/><line x1="317.07" y1="527.20" x2="317.07" y2="528.40" stroke="#303030" stroke-width="0.6"/><line x1="322.31" y1="527.20" x2="322.31" y2="528.40" stroke="#303030" stroke-width="0.6"/><line x1="326.75" y1="527.20" x2="326.75" y2="528.40" stroke="#303030" stroke-width="0.6"/><line x1="330.58" y1="527.20" x2="330.58" y2="528.40" stroke="#303030" stroke-width="0.6"/><line x1="333.97" y1="527.20" x2="333.97" y2="528.40" stroke="#303030" stroke-width="0.6"/><text x="249.00" y="546.30" font-size="8.7" textLength="51.7" lengthAdjust="spacingAndGlyphs">Frequency(Hz)</text><text x="0" y="0" font-size="8.7" textLength="73.6" lengthAdjust="spacingAndGlyphs" transform="translate(182.40,509.50) rotate(-90)">Loss modulus G&#39;&#39;(Pa)</text><rect x="204.75" y="418.35" width="2.31" height="2.31" fill="#2a2a2a"/><text x="213.00" y="421.35" font-size="5.05" text-anchor="start" >WNPU/KC</text><circle cx="245.60" cy="419.50" r="1.52" fill="#ff1a1a"/><text x="252.70" y="421.35" font-size="5.05" text-anchor="start" >U-200W</text><polygon points="280.30,417.82 278.51,420.87 282.09,420.87" fill="#0a64e8"/><text x="287.40" y="421.35" font-size="5.05" text-anchor="start" >U-0W-TG</text><polygon points="205.90,427.58 204.12,424.53 207.69,424.53" fill="#00985a"/><text x="213.00" y="427.75" font-size="5.05" text-anchor="start" >U-100W-TG</text><polygon points="249.90,424.06 251.58,425.90 249.90,427.74 248.22,425.90" fill="#c04ae4"/><text x="257.00" y="427.75" font-size="5.05" text-anchor="start" >U-200W-TG</text><polygon points="290.22,425.90 293.26,424.11 293.26,427.69" fill="#eb9a1a"/><text x="299.00" y="427.75" font-size="5.05" text-anchor="start" >U-300W-TG</text><polygon points="207.58,432.20 204.53,430.41 204.53,433.99" fill="#14c4d4"/><text x="213.00" y="434.05" font-size="5.05" text-anchor="start" >U-400W-TG</text><path fill="#2a2a2a" d="M204.3 500.2h2.4v2.4h-2.4zM212.5 499.5h2.4v2.4h-2.4zM220.8 498.7h2.4v2.4h-2.4zM229 498h2.4v2.4h-2.4zM237.2 497h2.4v2.4h-2.4zM245.5 495.9h2.4v2.4h-2.4zM253.7 495.3h2.4v2.4h-2.4zM261.9 494.4h2.4v2.4h-2.4zM270.2 493.1h2.4v2.4h-2.4zM278.4 492.2h2.4v2.4h-2.4zM286.6 490.6h2.4v2.4h-2.4zM294.8 489.1h2.4v2.4h-2.4zM303.1 487.7h2.4v2.4h-2.4zM311.3 486h2.4v2.4h-2.4zM319.5 480.3h2.4v2.4h-2.4zM327.8 470.8h2.4v2.4h-2.4z"/><path fill="#0a64e8" d="M205.5 476.8L203.7 479.9H207.3zM213.7 476L211.9 479.1H215.6zM222 475.3L220.1 478.4H223.8zM230.2 474.7L228.4 477.8H232zM238.4 473.8L236.6 476.9H240.3zM246.7 473.2L244.8 476.3H248.5zM254.9 472.6L253 475.7H256.7zM263.1 471.7L261.3 474.8H264.9zM271.3 470.7L269.5 473.8H273.2zM279.6 470L277.7 473.1H281.4zM287.8 469.1L286 472.2H289.6zM296 468.5L294.2 471.6H297.9zM304.3 467L302.4 470.1H306.1zM312.5 466L310.7 469.1H314.3zM320.7 465L318.9 468.1H322.6zM328.9 464L327.1 467.1H330.8zM337.2 462.4L335.3 465.5H339z"/><path fill="#00985a" d="M205.5 465L203.7 461.9H207.3zM213.7 464.3L211.9 461.2H215.6zM222 463.9L220.1 460.8H223.8zM230.2 463.3L228.4 460.2H232zM238.4 462.8L236.6 459.7H240.3zM246.7 462.4L244.8 459.3H248.5zM254.9 462L253 458.9H256.7zM263.1 461.6L261.3 458.5H264.9zM271.3 460.7L269.5 457.6H273.2zM279.6 460.2L277.7 457.1H281.4zM287.8 459.6L286 456.5H289.6zM296 458.9L294.2 455.8H297.9zM304.3 458.4L302.4 455.3H306.1zM312.5 457.5L310.7 454.4H314.3zM320.7 456.8L318.9 453.7H322.6zM328.9 456.2L327.1 453.1H330.8zM337.2 455.4L335.3 452.3H339z"/><path fill="#c04ae4" d="M205.5 449.7L207.2 451.6L205.5 453.5L203.8 451.6zM213.7 449.3L215.5 451.2L213.7 453.1L212 451.2zM222 448.9L223.7 450.8L222 452.7L220.2 450.8zM230.2 448.4L231.9 450.3L230.2 452.2L228.5 450.3zM238.4 448.2L240.1 450.1L238.4 452L236.7 450.1zM246.7 447.8L248.4 449.7L246.7 451.6L244.9 449.7zM254.9 447.4L256.6 449.3L254.9 451.2L253.2 449.3zM263.1 447L264.8 448.9L263.1 450.8L261.4 448.9zM271.3 446.1L273.1 448L271.3 449.9L269.6 448zM279.6 445.7L281.3 447.6L279.6 449.5L277.8 447.6zM287.8 445.2L289.5 447.1L287.8 449L286.1 447.1zM296 444.8L297.8 446.7L296 448.6L294.3 446.7zM304.3 444.2L306 446.1L304.3 448L302.5 446.1zM312.5 443.9L314.2 445.8L312.5 447.7L310.8 445.8zM320.7 443.3L322.4 445.2L320.7 447.1L319 445.2zM328.9 442.6L330.7 444.5L328.9 446.4L327.2 444.5zM337.2 442L338.9 443.9L337.2 445.8L335.5 443.9z"/><path fill="#eb9a1a" d="M203.8 471.7L206.9 469.9V473.5zM212 471.3L215.1 469.5V473.1zM220.2 470.9L223.4 469.1V472.7zM228.5 470.2L231.6 468.4V472zM236.7 469.8L239.8 468V471.6zM244.9 469.2L248.1 467.4V471zM253.2 468.5L256.3 466.7V470.3zM261.4 467.7L264.5 465.9V469.5zM269.6 466.8L272.7 465V468.6zM277.8 466.3L281 464.5V468.1zM286.1 465.6L289.2 463.8V467.4zM294.3 465L297.4 463.2V466.8zM302.5 463.8L305.7 462V465.6zM310.8 462.8L313.9 461V464.6zM319 461.7L322.1 459.9V463.5zM327.2 460.8L330.4 459V462.6zM335.5 459.9L338.6 458.1V461.7z"/><path fill="#14c4d4" d="M207.2 473.7L204.1 471.9V475.5zM215.5 473.1L212.3 471.3V474.9zM223.7 472.5L220.6 470.7V474.3zM231.9 472L228.8 470.2V473.8zM240.1 471.6L237 469.8V473.4zM248.4 471L245.2 469.2V472.8zM256.6 470.3L253.5 468.5V472.1zM264.8 469.9L261.7 468.1V471.7zM273.1 468.7L269.9 466.9V470.5zM281.3 468.2L278.2 466.4V470zM289.5 467.4L286.4 465.6V469.2zM297.8 466.5L294.6 464.7V468.3zM306 465.3L302.9 463.5V467.1zM314.2 464.4L311.1 462.6V466.2zM322.4 463.5L319.3 461.7V465.3zM330.7 462.7L327.5 460.9V464.5zM338.9 461.8L335.8 460V463.6z"/><rect x="199.00" y="414.30" width="141.00" height="112.90" fill="none" stroke="#333" stroke-width="1.25"/>
</svg></body></html>
